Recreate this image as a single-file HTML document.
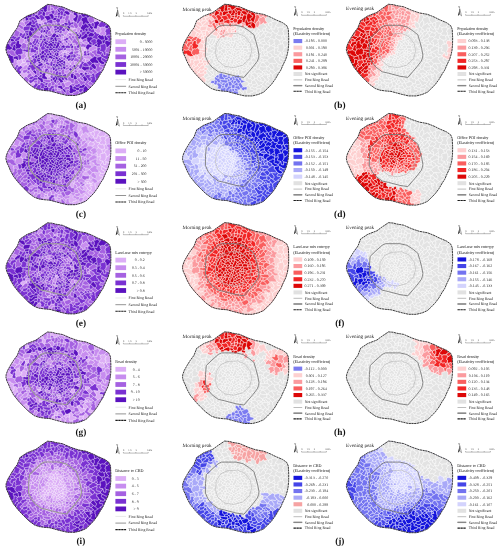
<!DOCTYPE html>
<html><head><meta charset="utf-8"><title>Figure</title>
<style>
html,body{margin:0;padding:0;background:#fff}
svg{display:block;text-rendering:geometricPrecision;font-family:"Liberation Serif","DejaVu Serif",serif}
</style></head><body>
<svg width="504" height="550" viewBox="0 0 504 550">
<rect width="504" height="550" fill="#fff"/>
<defs>
<path id="ol" d="M475 44L525 48L550 56L625 69L710 106L780 130L860 144L925 170L977 196L1049 227L1090 257L1105 293L1109 375L1108 448L1103 500L1095 540L1080 590L1056 640L1030 700L1006 736L975 790L938 840L900 880L860 918L810 940L750 955L675 955L610 940L550 924L500 910L450 906L391 898L344 881L288 840L240 793L185 735L135 672L105 616L84 565L68 532L59 495L62 468L77 427L105 377L136 327L173 277L200 206L270 160L360 125L410 88z"/>
<path id="r2" d="M444 253L588 253L658 269L713 305L765 347L784 411L803 482L815 548L811 577L799 609L757 665L666 771L588 759L475 729L412 715L350 668L310 617L286 561L286 498L287 466L294 379L350 325L412 269z"/>
<path id="r1" d="M507 338L606 333L674 363L728 433L743 506L723 585L654 650L566 674L478 660L409 605L384 526L394 437L439 368z"/>
<path id="mesh" fill="none" stroke="#fff" stroke-linejoin="round" d="M527 503l7 8 15-5 4-18-3-3-19 0zM549 506l16 10 9-15-4-12-17-1zM534 514l13 14 15-4 3-4 0-4-16-10-15 5zM550 485l3 3 17 1 9-12 2 0 13-22-2-8 8-8-4-14-22-9-6 27-2 1-4 14-8 5zM570 489l4 12 18 5 5 6 18-8 20-6 2-15-9-5-17 4-2-2-15 3-13-6-2 0zM565 516l0 4 23 9 8-9 1-8-5-6-18-5zM554 556l3 9 13 1 21-17-3-6 0-14-23-9-3 4 2 21zM541 546l2 2 11 8 10-11-2-21-15 4zM505 508l1 15 14 11 1 7 20 5 6-18-13-14 0-3-7-8-17 2zM485 488l4 16 16 4 5-3 17-2 4-18-7-10-17 10-15-5zM524 470l0 5 7 10 19 0 4-22-21-4zM482 530l7 3 17-10-1-15-16-4-7 7zM492 480l15 5 17-10 0-5-21-12-11 6zM476 455l16 9 11-6 21 12 9-11-2-17-9-4-6-13-9-2-11 13-14-2zM531 442l2 17 21 4 8-5 4-14-22-11zM581 477l13 6 15-3-1-13-14-12zM588 529l0 15 3 5 3 2 23-14 1-4 11-6-14-23-18 8-1 8zM527 568l4 5 20 3 6-11-3-9-11-8zM509 556l18 12 16-20-2-2-20-5zM489 533l9 20 11 3 12-15-1-7-14-11zM592 447l2 8 14 12 16-14-21-14-3 0zM608 467l1 13 2 2 17-4 9 5 16-6-3-20-11-9-9 5-6 0zM616 504l13 23 7 0 7-21-8-8zM617 537l10 29 2 0 9-18-1-20-1-1-7 0-11 6zM594 551l10 16 23-1-10-29zM570 566l16 17 13-9 5-7-10-16-3-2zM551 576l1 10 15 11 17-8 2-6-16-17-13-1zM521 589l20 7 11-10-1-10-20-3zM485 558l3 30 15-5 12 8 6-2 10-16-4-5-18-12-11-3zM465 549l13 9 7 0 13-5-9-20-7-3-15 6zM430 502l20 15 0 3 17 16 15-6 0-19 7-7-4-16-22-3-1 1-30 14zM459 477l4 8 22 3 7-8 0-16-16-8zM516 425l6 13 9 4 13-9 0-17-20-2zM544 433l22 11 2-1 6-27-1-2-26-2-3 4zM470 584l5 6 7 2 6-4-3-30-7 0zM450 574l20 10 8-26-13-9-14 10zM431 544l20 15 14-10 2-13-17-16-17 19zM404 473l10 30 3 2 13-3 2-2 30-14 1-1-4-8-14-6-4-11 12-15-2-6-13-12-10 5-3 14 3 9-18 16zM441 460l4 11 14 6 17-21-23-11zM438 427l13 11 2 7 23 10 6-21-4-7-9-1-12-16-16 4zM478 427l4 7 14 2 11-13-13-16-4 0zM494 407l13 16 9 2 8-11-5-13-21 2zM519 401l5 13 20 2 3-4-3-18-4-8-18 11zM540 386l4 8 3 18 26 2 3-9-7-9-1-20-13-7-12 7-3 3zM573 414l1 2 22 9 4 14 3 0 23-17-17-18-1-2-21-3-11 6zM603 439l21 14 6 0 9-5 1-8-11-17-3-1zM635 498l8 8 17-3 5-18-12-8-16 6zM636 527l1 1 23 2 3-2 2-15-5-10-17 3zM637 528l1 20 22 1 0-19zM629 566l3 4 7 1 22 15 9-27-6-3-4-7-22-1zM599 574l15 25 14-3 4-26-3-4-25 1zM584 589l11 15 12 1 7-6-15-25-13 9zM567 618l19-2 9-12-11-15-17 8zM529 616l0 20 30 4 4-4 0-13 4-5 0-21-15-11-11 10-3 16zM515 591l0 20 14 5 9-4 3-16-20-7zM477 621l8 8 15 2 5-15 10-5 0-20-12-8-15 5-6 4 3 9zM457 410l12 16 9 1 12-20-6-4-21-3zM498 403l21-2 3-4 18-11 0-7-33-12-6 1 1 6zM568 376l1 20 7 9 11-6 21 3 7-10-6-11-20-10-4 3zM608 402l1 2 17 18 3 1 11-14-5-20-1-1-19 4zM629 423l11 17-1 8 11 9 23-6 0-21-16-1-4-17-13-3zM650 457l3 20 12 8 11-3 17 3 9-3 1-1 1-13-7-14-24-3zM660 503l5 10 20-1 8 12 15-4 6-10-12-28-9 3-17-3-11 3zM663 528l25 9 5-13-8-12-20 1zM660 549l4 7 6 3 10-1 10-13-2-8-25-9-3 2zM628 596l9 9 9 0 17-13-2-6-22-15-7-1zM586 616l13 16 4 1 7-9 19-1 8-18-9-9-14 3-7 6-12-1zM563 636l12 5 24-9-13-16-19 2-4 5zM496 652l20 14 10-8-1-17 4-5 0-20-14-5-10 5-5 15 2 5zM456 623l21-2 8-20-3-9-7-2-18 17zM442 580l1 16 14 11 18-17-5-6-20-10zM400 570l10 26 18-17 14 1 8-6 1-15-20-15-12 6-5 5-8 2zM408 528l11 22 12-6 2-5 17-19 0-3-20-15-13 3-1 12zM453 632l8 14 11 0 18 10 6-4 6-16-2-5-15-2-8-8-21 2-2 2zM432 606l1 6 21 13 2-2 1-16-14-11zM409 597l23 9 11-10-1-16-14-1-18 17zM384 542l22 15 8-2 5-5-11-22-19 4zM383 504l6 5-2 14 2 9 19-4 8-11 1-12-3-2-10-30-10-5-8 4zM394 468l10 5 6-2 18-16-3-9 3-14 10-5 3-13-12-15-14 8-3 18-11 5-3 17-3 4zM429 399l12 15 16-4 6-10-6-20-1-1-25 8zM457 380l6 20 21 3 6 4 4 0 4-4 4-29-1-6-6-3-13 1-4 3zM507 367l33 12 3-3 12-7 2-10 8-13-7-15-15-7-15 11 0 4-1 4zM555 369l13 7 17-2 4-3 2-8-11-16-15-1-8 13zM580 347l11 16-2 8 20 10 10-23-7-7-1-10-19-8zM609 381l6 11 19-4-1-27-14-3zM635 389l5 20 13 3 10-10 9 3 17-17-12-15-12-2-10 15zM653 412l4 17 16 1 7-6-8-19-9-3zM673 430l0 21 24 3 3-17-13-13-7 0zM688 537l2 8 18 4 15-4 1 0 10-9 3-23-23-3-6 10-15 4zM661 586l2 6 9 3 20-16 13 3 1-1 2-32-18-4-10 13-10 1zM646 605l11 19 21-16-6-13-9-3zM629 623l8 15 19 4 1-18-11-19-9 0zM603 633l4 11 15 6 15-12-8-15-19 1zM575 641l10 16 12 1 6 17 21-3 1-3-3-19-15-6-4-11-4-1zM555 653l14 23 16-19-10-16-12-5-4 4zM525 641l1 17 12 4 17-9 4-13-30-4zM672 405l8 19 7 0 13 13 19-5 0-20-16-6-6-16-8-2zM697 454l7 14 23-16-2-15-6-5-19 5zM703 481l31 2 4-24-11-7-23 16zM702 482l12 28 23 3 4-4-4-23-3-3-31-2zM706 581l30-7 10 5 15-3-1-32-26-8-10 9-1 0-15 4zM672 595l6 13 7 6 23-8 11 8 17-8 10-27-10-5-30 7-1 1-13-3zM656 642l3 3 10-1 21 11 16-8-1-9-20-14 0-10-7-6-21 16zM622 650l3 19 30-8 4-16-3-3-19-4zM569 680l1 1 32-4 1-2-6-17-12-1-16 19zM538 662l5 16 10 8 16-6 0-4-14-23zM516 669l10 14-2 18 6 5 15-2 8-18-10-8-5-16-12-4-10 8zM460 649l8 33 11 3 9 8 1 1 27-25 0-3-20-14-6 4-18-10-11 0zM429 647l17 11-9 20 15 8 16-4-8-33 1-3-8-14-22 6zM420 629l11 9 22-6 1-7-21-13zM404 612l6 14 10 3 13-17-1-6-23-9-3 3zM369 587l37 13 3-3 1-1-10-26-26 8zM373 550l1 28 26-8 6-13-22-15-10 4zM355 532l19 14 10-4 5-10-2-9 2-14-6-5-17 1-4 14zM335 478l5 17 16 1 10 9 17-1 3-32-12-1-16-12-14 0zM358 459l16 12 12 1 8-4 1-17-21-12-6 2zM374 439l21 12 3-4 3-17-15-12-6 4zM386 418l15 12 11-5 3-18-26-11zM386 390l3 6 26 11 14-8 2-12-4-4-2 0-35 4zM427 383l4 4 25-8-11-24-17-7zM445 355l11 24 1 1 21-11 4-3-12-19-11 1zM470 347l12 19 13-1 6 3 6-1 20-24 1-4 0-4-17-7-5-23-2-1-15 3-14 19zM558 331l7 15 15 1 12-14-2-6-21-3zM611 341l1 10 7 7 14 3 7-5-1-16-21-7zM633 361l1 27 1 1 20-3 10-15 12 2 17-18-14-24-9 4-11 26-20-5zM685 624l20 14 13-24-10-8-23 8zM655 661l4 11 10 3 21-9 0-11-21-11-10 1zM624 672l7 16 17 9 11-25-4-11-30 8zM602 677l1 15 8 10 20-14-7-16-21 3zM570 681l9 19 24-8-1-15zM545 704l11 13 23-10 0-7-9-19-1-1-16 6zM489 694l5 5 30 2 2-18-10-14zM402 666l7 23 13 2 14-13 1 0 9-20-17-11-9 13-12 0zM375 655l16 12 11-1 6-6 12 0 9-13 2-9-11-9-10-3-9 12-14 1zM377 620l10 19 14-1 9-12-6-14zM364 592l6 25 7 3 27-8 2-12-37-13-5 3zM345 579l19 11 5-3 5-9-1-28-25 12zM340 548l8 14 25-12 1-4-19-14-7 0zM300 517l13 11 28-2 7 6 7 0 7-13 4-14-10-9-16-1-5-17-18-2-7 3-7 30-2 3zM334 445l10 14 14 0 10-18-15-15zM353 426l15 15 6-2 6-17 6-4 3-22-3-6-16-4-13 30-2 2zM390 387l35-4 2 0 1-35-10-13-2 0-14 25-3 2zM418 335l10 13 17 7 14-7-12-22-22 4zM447 326l12 22 11-1 5-21 14-19-15-15-5-1-11 10 2 17zM504 304l2 1 5 23 17 7 15-11 0-13-5-9 3-20-8-11-6-1-22 18zM543 311l0 13 15 7 11-7 5-23zM569 324l21 3 5-17-14-11-4-1-3 3zM590 327l2 6 19 8 7-8 3-20-4-6-22 3zM618 333l21 7 1 16 20 5 11-26 9-4 2-3 2-14-21-17-7 0-9 22-26-6zM677 373l12 15 8 2 6 16 16 6 11-7 1-14-18-14 2-17-21-5zM719 412l0 20 6 5 17-6 13 6 5 17 3 3 14-5 10-22-7-18-7 0-9-6-7-19-8-7-18 11-1 14zM725 437l2 15 11 7 22-5-5-17-13-6zM734 483l3 3 4 23 19 2 3-3 26-4 4-5-6-16-21-5-1-1-2-20-3-3-22 5zM734 536l26 8 8-11 14 1 8-21-1-9-27 4-2 3-19-2-4 4zM581 299l14 11 22-3 7-23 4-4 7-2 11-29-6-16-35 14-19 15 8 19zM617 307l4 6 26 7 9-23-21-19-7 2-4 4zM680 331l14 24 21 5-2 17 18 14 18-11 0-20-29-5-3-24-35-3zM763 457l2 19 1 2 21 5 15-20 2 0 7-22-24-11-10 22zM760 544l1 32 2 1 7-5 20-32-8-6-14-1zM736 606l12 11 17-3 12 12 14-8 3-23-26-12-5-6-2-1-15 3zM705 638l1 9 16 9 8 0 10-8 7-1 1-30-12-11-18 8zM690 666l7 14 11-1 14-23-16-9-16 8zM648 697l1 2 17 3 16-9 7 0 8-13-7-14-21 9-10-3zM610 718l2 2 3 26 6 6 30-15-8-21 6-17-1-2-17-9-20 14zM579 707l10 12 21-1 1-16-8-10-24 8zM549 757l16 1 21-6-5-16 8-17-10-12-23 10-1 14-3 4zM519 732l17 31 3 2 3-1 7-7 3-22 3-4 1-14-11-13-15 2-6 22zM494 699l4 21 13 13 8-1 5-4 6-22-6-5zM456 732l3 4 14 3 25-19-4-21-6-6zM448 727l8 5 32-39-9-8-11-3-16 4-5 24zM417 718l11 12 20-3-1-17 5-24-16-8-14 13 1 7zM356 641l5 14 14 0 12-16-10-19-7-3-12 13zM324 624l2 15 2 1 28 1 2-11 12-13-6-25 0-2-19-11-16 2-4 11 10 22-1 1zM313 565l16 16 16-2 3-17-8-14-23 7zM288 551l11 17 14-3 4-10 23-7 8-16-7-6-28 2-13-11-10 6zM313 452l4 24 18 2 9-19-10-14-6-3zM319 424l9 18 6 3 19-19 2-8 2-2 13-30-7-5-23 6-3 21-4 3zM317 375l23 12 23-6 7 5 16 4 4-3 9-25-38-13-7-7-10 2zM354 342l6 7 39 13 3-2 14-25-7-6-9-16-17-6-28 30zM425 330l22-4 13-8-2-17-17-7-5 5zM463 269l6 22 5 1 15 15 15-3 1-16-13-9-4-18-10-6zM538 302l5 9 31-10 3-3-12-16-24 0zM565 282l12 16 4 1 13-18-8-19-11 0zM635 278l21 19 7 0 11-16-4-13zM663 297l21 17 20-20-1-8 3-9-5-11-22-14-4 3-5 13 4 13zM682 328l35 3 7-11-6-16 33-19-1-2-42-6-2 0-3 9 1 8-20 20zM717 331l3 24 29 5 7-6 3-8-14-22-2-2-19-2zM749 380l8 7 7 19 9 6 7 0 2-2 7-16-12-17 0-8-21-15-7 6zM787 483l6 16 20 1 1-30-10-7-2 0zM789 504l1 9 20 16 12-9-7-19-2-1-20-1zM782 534l8 6 12 3 8-14-20-16zM770 572l33-11 3-9-4-9-12-3zM763 577l5 6 26 12 7-3 7-15-5-16-33 11zM747 647l6 1 22-12 2-10-12-12-17 3zM730 656l7 30 25-20-9-18-6-1-7 1zM708 679l14 14 15-5 0-2-7-30-8 0zM689 693l9 17 16-1 8-16-15-14-10 1zM643 716l8 21 16 3 6-3 6-11 14-8 5-8-9-17-7 0-16 9-17-3zM580 736l6 16 1 0 28-6-4-26-1-2-21 1zM503 748l2 7 31 8-17-31-8 1zM473 739l9 7 21 2 8-15-13-13zM353 668l8 16 20 6 6 11 5 2 5 10 20 5 6-20-1-7-13-2-7-23-11 1-16-12-14 0zM279 669l31 12-2 9 15 23 4 0 9-13 17-1 8-15-8-16 8-13-5-14-28-1-2-1-15 11-14-4-17 13zM294 628l3 18 14 4 15-11-2-15 11-9 0-1-10-22-23 12 2 13zM272 595l9 6 20 2 1 1 23-12 4-11-16-16-14 3-2 2-24 8zM260 493l22-4 19 23 2-2 7-31-15-9-9 5-18-10-6 6zM295 470l15 9 7-3-4-24-17 2zM278 433l18 21 17-2 15-10-9-18-17-6-20 9zM302 418l17 6 14-13 4-3 3-21-23-12-11 1 0 9zM400 313l9 16 7 6 2 0 7-5 11-31-28-2zM408 297l28 2 5-5-6-17-5-3-21 18zM435 277l6 17 17 7 11-10-6-22-5-1zM475 238l3 17 10 6 4 18 13 9 22-18-12-15 0-14-26-13-13 6zM533 271l8 11 24 0 10-20-10-11-17 3zM265 395l17 32 20-9 4-33 0-8zM285 331l1 5 0 17 14 12 6 11 11-1 27-31-21-11-7-19-8-7-15-5zM316 314l7 19 21 11 10-2 1-5 28-30-9-14 1-8-12-18-25 9-1 2 1 8 10 14-3 9zM351 246l13 16-1 5 12 18-1 8 9 14 17 6 8-16 1-5-14-18 4-11-17-13 1-17-3-6-24 1zM395 274l14 18 21-18-8-15-6-2-17 6zM422 259l8 15 5 3 23-9-14-23-4-1zM444 245l14 23 5 1 15-14-3-17zM515 255l12 15 6 1 15-17-9-22-10-7-14 16zM539 232l9 22 17-3 5-21-4-4zM565 251l10 11 11 0 19-15-9-19-26 2zM635 278l35-10 5-13-29-6zM718 304l6 16 19 2 2 2 20-10 4-19-5-8-13-2zM745 324l14 22 18-9 2-6-14-17zM756 354l21 15 17-8-3-11-14-13-18 9zM777 377l12 17 18-12 3-13 11-7-9-29-21 17 3 11-17 8zM782 410l40 5 1-15-16-18-18 12zM780 412l7 18 24 11 17-12 0-1-6-13-40-5zM804 463l10 7 23-1 8 7 9-1 3-2 8-27-6-3-22-4-9-10-17 12zM813 500l2 1 7 19 12 4 12-19-6-16 5-13-8-7-23 1zM802 543l4 9 25 3 10-23-7-8-12-4-12 9zM791 618l18 9 17-16-2-7 14-21-5-6-1-19-1-3-25-3-3 9 5 16-7 15-7 3zM775 636l18 16 17-18-1-7-18-9-14 8zM753 648l9 18 10 8 14-1 7-15 0-6-18-16zM737 688l10 9 14 0 11-23-10-8-25 20zM714 709l4 6 23-1 6-17-10-9-15 5zM665 774l10 6 27-20 6-21 12-9-2-15-4-6-16 1-5 8-14 8-6 11-6 3zM621 752l3 16 8 2 13 22 0 1 21 14 15 0-6-27-10-6 2-34-16-3zM565 758l9 22 6 2 10-7 23 8 11-15-3-16-6-6-28 6-1 0zM542 764l13 18 0 10 13 12 11-5 1-17-6-2-9-22-16-1zM500 770l14 14 8 1 17-20-3-2-31-8zM454 761l22 17 7-5 17-3 5-15-2-7-21-2-9-7-14-3zM417 746l4 11-4 21 12 13 6-2 12 4 28 1 1-16-22-17 5-25-3-4-8-5-20 3zM390 731l11 15 16 0 11-16-11-12-20-5zM353 699l4 11 10 6 0 19-5 6 20 24 4 0 15-19-11-15 7-18-5-10-5-2-6-11-20-6zM255 620l13 9 11-4 15 3 10-11-2-13-1-1-20-2-9-6-14 9zM254 543l8 10 3 18 8 7 24-8 2-2-11-17 2-28-26 0zM227 514l33 4 4 5 26 0 10-6 1-5-19-23-22 4-2 1-20-5-6 4zM268 465l18 10 9-5 1-16-18-21-9 6zM293 302l15 5 8 7 29-5 3-9-10-14-1-8-32-14zM382 250l17 13 17-6-5-19-28-5zM411 238l5 19 6 2 18-15-3-17-17-8zM437 227l3 17 4 1 31-7 1-4-10-13-18-1zM466 221l10 13 13-6 26 13 14-16-2-25-3-4-11-2-7 2-2-1-37 17zM527 200l2 25 10 7 27-6-3-12-8-7zM555 207l8 7 3 12 4 4 26-2 9-24-1-7-9-7-3-5-16-7-2 0zM596 228l9 19 35-14 1-3 8-7 2-20-6-8-24-5-17 7 1 7zM640 233l6 16 29 6 4-3 2-14-6-8-26-7-8 7zM675 230l6 8-2 14 22 14 13-22 18 4 5-7 0-27-31 11-12-34-4-1-2 0-6 5zM701 266l5 11 2 0 42 6-4-14-11-11-3-10-18-4zM764 287l5 8-4 19 14 17 16-13-1-9 14-17-6-15-18-8zM777 337l14 13 21-17 0-4-17-11-16 13zM807 382l16 18 21-12 1 0 18-3 9-15 9-4-2-15-18-22-13 8-4 5-3 11-12 9-8 0-11 7zM822 415l6 13 20-12 10 0 11-3 0-14-6-14-18 3-1 0-21 12zM828 429l9 10 22 4 6 3 22-7 3-10-21-16-11 3-10 0-20 12zM840 489l6 16 19 2 7-6-18-26-9 1zM831 555l1 3 32 2 7-5-2-14-7-6 3-28-19-2-12 19 7 8zM832 558l1 19 5 6 14 2 4 5 31 2 8 6 23-18-7-18-14-5-23-1-3-1-7 5zM824 604l2 7 20 12 8 0 2-33-4-5-14-2zM786 673l10 16 7 2 12-3 7-23 7-5-3-14 20-23-20-12-17 16 1 7-17 18 0 6zM761 697l13 14 22-22-10-16-14 1zM741 714l5 16 30-7-2-12-13-14-14 0zM718 715l2 15 20 9 6-9-5-16zM702 760l12 26 19-2 4-15-2-14 6-8-1-8-20-9-12 9zM613 783l1 11 17 12 14-13 0-1-13-22-8-2zM579 799l17 11 0 9 13 12 27-10-5-15-17-12-1-11-23-8-10 7zM522 785l9 21 3 1 21-15 0-10-13-18-3 1zM501 795l6 24 24-13-9-21-8-1zM475 794l1 2 25-1 13-11-14-14-17 3-7 5zM386 765l16 12 15 1 4-21-4-11-16 0zM327 713l10 12 1 3 17 14 7-1 5-6 0-19-10-6-4-11-17 1zM268 629l1 18 11 12 17-13-3-18-15-3zM243 593l15 11 14-9 1-17-8-7-17 6zM205 548l14 22-3 7-1 16 6 3 22-3 5-16 17-6-3-18-8-10 10-20-4-5-33-4-1 1 6 23-21 4zM210 473l6 16 16 4 6-4 20 5 2-1 2-22 6-6 1-26-9-1-23-13-9 2-13 17 4 14-8 8zM237 425l23 13 9 1 9-6 4-6-17-32-17-1zM266 394l40-17 0-1-6-11-14-12-12 4-6 5zM524 196l3 4 28 7 19-29-34-4zM645 195l6 8-2 20 26 7 7-35 6-5 2 0 4-37-30-5-8 17-1 1zM732 248l3 10 11 11 4 14 1 2 13 2 20-18-4-27-5-1-10-15-27-13-1 1 0 27zM794 309l1 9 17 11 16-13 0-1-6-20-14-3zM812 333l9 29 8 0 12-9 3-11 4-5 13-8 3-10-11-11-25 7 0 1-16 13zM854 475l18 26 15-1 9-23 15-1 12-18-3-5-33-14-22 7-8 27zM862 535l7 6 28-18 3-4-13-19-15 1-7 6zM869 541l2 14 3 1 23 1 0-34zM854 623l4 2 2 0 30-16 5-5 0-6-8-6-31-2zM826 646l3 14 22 6 2 2 2 0 39-3 2-1-7-12-29-27-2 0-4-2-8 0zM815 688l18 14 17 10 14-13 22 0 5-2 3-32-39 3-2 0-1-2-23-6-7 5zM774 711l2 12 11 11 8 1 9-6 10-3 26 12 2 0 10-18-2-8-17-10-18-14-12 3-7-2zM740 739l1 8 25 10 2 16 4 11 22-9 14-11-1-5-12-24-8-1-11-11-30 7zM733 784l15 15 20-4 4-11-4-11-2-16-25-10-6 8 2 14zM675 780l6 27 3 3 16 0 2 2 13 21 27 1 0-26 6-9-15-15-19 2-12-26zM631 806l5 15 4 8 44-17 0-2-3-3-15 0-21-14zM555 836l12 4 29-21 0-8-17-12-11 5zM534 807l19 30 2-1 13-32-13-12zM505 823l10 12-4 22 31 0 11-20-19-30-3-1-24 13zM429 791l6 22 22 9 5 3 13-1 5 5 25-6 2-4-6-24-25 1-1-2-28-1-12-4zM376 773l1 24 15 1 12 12-2 13 26 3 7-13-6-22-12-13-15-1-16-12-4 0zM287 784l5 9 26 7 4-11 23-14 2 2 29-4 6-8-20-24-7 1-15 22-18-4-7 5-12 3zM290 704l12 22-1 3 18 16 3 15 18 4 15-22-17-14-1-3-10-12-4 0-15-23zM271 690l8 12 11 2 18-14 2-9-31-12-7 7zM197 701l21 18 5 1 13-27 13 6 22-9 1-14 7-7 1-10-11-12-24 4-6 15-12 7 0 4zM207 640l1 14 19 19 12-7 6-15 24-4-1-18-13-9-15 8-10-3zM221 596l9 29 10 3 15-8 3-16-15-11zM148 531l23 26 3 0 12-12 19 3 6-6 21-4-6-23 1-1 5-21-16-4-6-16-21 16-6-5-23 9-5 16-4 3zM191 406l5 4-1 28 20 6 13-17 9-2 11-31-9-7-15-2-15-15zM239 387l9 7 17 1 1-1 2-32-18 1-3 0zM250 363l18-1 6-5-18-15zM249 329l7 13 18 15 12-4 0-17-1-5zM244 326l5 3 36 2 8-29-3-1-42 8-3 1zM304 259l1 5 32 14 2-2 24-9 1-5-13-16-12 4-21-7-14 14zM371 195l8 32 4 6 28 5 9-19-5-10-7-5-6-13zM415 209l5 10 17 8 11-7 18 1 1-9-6-23-12-7-7 11zM443 166l6 16 12 7 6 23 37-17 2 1 7-2-9-29-19-12-3 2-32 4zM863 385l6 14 0 14 21 16-3 11 33 13 1-28-19-6 2-11 28-21-12-16-10-6-17 5-12-4-9 4zM887 500l13 19 12 1 9-11 15-2 13-10 19 3 3-23-4-9-19-5-6-7-19 2-12 18-15 1zM897 523l0 34 14 5 7 18 4 0 24-19-7-23-17-3-10-15-12-1zM860 625l29 27 7 12 8-3 19-26-28-31-6 5zM795 735l12 24 33-21-26-12-10 3zM640 829l7 14 3 3 7 17 13 4 19-5 1-4 21-14 4-11-13-21-2-2-16 0 0 2zM609 831l1 21 9 3 14 31 5-1 19-22-7-18-3-2-11-22zM567 840l13 14 22 2 8-4-1-21-13-12zM474 854l2 15 14 8 13-3 5-15 3-2 4-22-10-12-25 6 1 4zM448 837l2 16 24 1 7-21-1-4-5-5-13 1zM428 826l4 11 16 0 14-12-5-3-22-9zM369 830l12 17 19-2 4-35-12-12-15-1-5 4 5 19zM288 818l18 17 2 0 25-17 2 0 14-17 23 0 5-4-1-24-29 4-2-2-23 14-4 11-26-7zM269 765l12 17 6 2 16-16 12-3 7-5-3-15-18-16-12 9-8 1zM265 728l16 11 8-1 12-9 1-3-12-22-11-2zM223 720l18 15 10-7 14 0 14-26-8-12-22 9-13-7zM167 619l11 17-5 8 16 20 19-10-1-14 23-15-9-29-6-3-22 8-7-1-10 3zM174 557l6 9 6 34 7 1 22-8 1-16 3-7-14-22-19-3zM152 444l6 22-6 10 8 17 23-9 6 5 21-16 1-7 8-8-4-14-20-6 1-28-5-4-12-2-18 14 2 12zM207 367l2 3 15 15 15 2 8-23 3-1 6-21-7-13-5-3-14 11-1 7zM230 296l15 14 3-1 42-8 3 1 12-38-2-5-48 3-18 5zM307 209l15 18-4 16 21 7 12-4 5-18 23-1-8-32-1 0-25 19-10-21-9-2zM387 161l16 23-1 7 6 13 7 5 27-16 7-11-6-16-7-2-15-18-18 2zM485 153l19 12 9 29 11 2 16-22-1-13-6-18-6-2-12-8-27 10zM539 161l1 13 36 4-3-25zM573 152l3 26 16 7 13-31-2-4zM592 185l3 5 9 7 17-7 10-28-2-3-24-5zM621 190l24 5 10-29-24-4zM690 190l4 1 12 34 31-11 1-1 1-5-14-20 26-15 5-16-21-7-4-10-24-11-6 2-7 22zM780 242l4 27 18 8 11-11 6-18 4-3 1-31-13-7-10 3zM802 277l6 15 14 3 6 20 25-7-4-14 12-15 18 4 13-11 2-7-25-19-1-4-7-15-27 22-11-4-4 3-6 18zM189 352l3 10 15 5 22-23 1-7-27-16zM161 293l15 15 4-1 22 13 1 1 27 16 14-11 1-16-15-14-9 1-23-18 0-2-21-12-4 12zM255 262l48-3 1-2 14-14 4-16-15-18-10-1-12 23-9 0-21 25zM287 179l3 20 7 9 10 1 19-18 9 2 10 21 25-19-8-17-9-1-6-10-26-7-6 11-26 6zM347 167l6 10 9 1 8 17 1 0 31-4 1-7-16-23-6-1-8-13-20-3zM450 159l32-4 3-2 3-10 27-10-7-24-29 5-6-3-20 12 2 11zM533 143l6 18 34-8-3-16 16-10-16-34-21 12 0 25zM570 137l3 15 30-2 0-16-6-7 7-15-25-29-2 0-7 10 16 33zM597 127l6 7 0 16 2 4 24 5 6-28 4-3 0-4-21-20-14 8zM629 159l2 3 24 4 1-1 8-17-3-8-22-12-4 3zM725 188l14 20-1 5 27 13 8-29 1-1 9-33-2-13-2-1-4-14-16-12-17-6-11 23 4 10 21 7-5 16zM765 226l10 15 5 1 21-32 10-3 0-16 14-19-17-28-27 6 2 13-9 33-1 0zM849 294l4 14 11 11 17-8-2-28-18-4zM861 329l18 22 27-31-25-9-17 8zM879 351l2 15 12 4 17-5 10 6 24-18 1-6-15-18-11-1-10-8-3 0zM902 419l19 6-1 28 3 5 19-2 3-11 21-10 4-11-7-7 2-21-21-10-8 3-4-2-28 21zM912 520l10 15 17 3 7 23 18 4 5 8 31-7 5-3-2-8-8-10-24-3-8-14 9-21-4-7-19-3-13 10-15 2zM895 604l28 31 16-4 1-2 37 6 11-11-7-20-13-6-2-7 3-18-5-8-18-4-24 19-4 0-23 18zM850 712l2 8 17 7 12-9 19 17 1 6 1 0 11 1 20-12 0-3-19-19-8 0-15-11-5 2-22 0zM842 738l6 14 28-8-7-17-17-7zM807 759l1 5 9 5 7 3 23-14 1-6-6-14-2 0zM794 775l10 24 5 1 17 11 6-4 5-14-13-21-7-3-9-5zM768 795l6 8 9 7 10 19 1 1 12 23 11 3 15-16 10 2 17-20-1-5-26-10-6 4-17-11-5-1-10-24-22 9zM711 844l20 26 16-10 4-17 25 0 17-14-10-19-9-7-6-8-20 4-6 9 0 26-27-1zM576 878l28 8 8 12 9-3 12-9-14-31-9-3-8 4-22-2zM542 857l1 22 1 0 27 3 5-4 4-24-13-14-12-4-2 1zM476 908l24 2 13 4 3-4 4-22 23-9-1-22-31 0-3 2-5 15-13 3-5 24zM441 866l4 7 14 5 17-9-2-15-24-1zM400 845l12 12-8 20 5 7 24 4 12-15-4-7 9-13-2-16-16 0-4-11-26-3zM335 818l11 13 23-1 8-10-5-19-23 0zM198 749l30 32 4-4 7 1 19-15 11 2 12-26-16-11-14 0-10 7-18-15-5-1-18 24zM157 699l28 36 13 14 2-6 18-24-21-18 30-24 0-4-19-19-19 10-4 6-14 2-1 23zM131 584l9 8 16-1 20 12 10-3-6-34-6-9-3 0-2 1-32 8zM143 400l2 9 16 9 18-14 12 2 18-36-2-3-15-5-17 10-3 0zM571 882l4 21 14 5 19-3 4-7-8-12-28-8zM544 879l8 41 23-17-4-21zM516 910l13 8 15 4 7-1 1-1-8-41-1 0-23 9zM433 888l5 16 38 4 9-7 5-24-14-8-17 9-14-5zM355 885l36 13 47 6-5-16-24-4-5-6 8-21-12-12-19 2-14 20-2 1zM327 868l17 13 11 4 10-17 2-1 14-20-12-17-23 1 1 15-19 15zM273 826l15 14 39 28 1-7 19-15-1-15-11-13-2 0-25 17-1 0-19-17-13 4zM228 781l32 31 15 10 13-4 4-25-5-9-6-2-12-17-11-2-19 15-7-1zM131 665l4 7 22 27 13-4 1-23 14-2 4-6-16-20-14 7-1 16-12 8zM115 634l16 31 15 10 12-8 1-16 14-7 5-8-11-17 9-16-20-12-16 1-1 35-2 2-11 4-2 0zM65 520l3 12 6 12 26-6 2 1 4 13 29 10 2 4 32-8 2-1-23-26 3-19-22-6-9-10-28 6-8-5-6 0-7 6zM120 496l9 10 22 6 4-3 5-16-8-17 6-10-6-22-17 2-7 27-3 2zM100 443l0 17 25 15 3-2 7-27 17-2 11-14-2-12-16-9-12 7-20 2-7 21zM97 391l3 2 17-9 17 4 9 12 29-28-16-9-9 0-13-8-2-1-14 11-4-2zM134 355l13 9 9-1 16 9 3 0 17-10-2-10 13-31-1-1-22-13-4 1-15-15-22 30 8 5zM177 265l21 12 0 2 23 18 9-1 7-29-21-10-1-2-17-14-4 0-13 15zM188 236l6 5 4 0 17 14 1 2 21 10 18-5 0-6-15-34-7 0-5-4-20 0-9-10zM240 222l15 34 21-25 9 0 12-23-7-9-34 13-2 0zM373 147l8 13 6 1 16-13 18-2 2-19 4-8-34-15 14-11 0-3-26 19 0 2 2 6zM392 104l35 15-4 8-2 19 15 18 7 2 7-7 5-25-2-11-19-9-1-21-26 0zM508 109l7 24 12 8 6 2 16-13 0-25-9-5-31 7zM707 129l24 11 11-23-23-8zM639 124l0 4 22 12 3 8 30 5 7-22-19-17-1-5-31-2zM811 207l13 7-1 31 11 4 27-22 0 1 7 14 32-10-21-29-2-20-16-21-6-1-12 12-18-1-14 19zM879 283l2 28 25 9 3 0 10 8 11 1 20-14-14-29-3-2-17 13-24-25zM920 371l12 16 4 2 8-3 21 10 21-11-10-19 0-2 19-19-2-11-26-2-8-18-9 1-20 14 15 18-1 6zM942 456l6 7 19 5 8-12-9-21-21 10zM904 661l23 17 6 10 18 8 13-16-1-17-10-7-14-25-16 4zM891 697l15 11 8 0 19-20-6-10-23-17-8 3-2 1zM902 741l0 25 22-3-11-21zM869 727l7 17 5 3 20-6-1-6-19-17zM847 758l22 25 4 1 3 12 20 17 7 1 14-27-20-12 5-9 0-25-1 0-20 6-5-3-28 8zM824 772l13 21-5 14 26 10 18-21-3-12-4-1-22-25zM689 862l9 12-5 24 3 5-6 14 8 19 28-2 5-11 25-3 9-14-5-12-31-6-2-11 4-7-20-26-21 14zM638 885l21 19 14-11 20 5 5-24-9-12-19 5-13-4zM747 860l19 16 19-5 21-18-12-23-1-1-17 14-25 0zM727 877l2 11 31 6 5 12 21 0 6-8 4-13-11-14-19 5-19-16-16 10zM652 939l2 11 21 5 54 0 2-3-5-18-28 2-8-19 6-14-3-5-20-5-14 11 1 17-7 13zM633 886l-12 9 32 39 7-13-1-17-21-19zM608 905l3 18-2 5 3 12 42 10-2-11 1-5-32-39-9 3zM551 921l5 5 56 14-3-12 2-5-3-18-19 3-14-5zM74 544l10 21 21 51 10 18 9-1 2 0 11-4 2-2 1-35-9-8 6-18-2-4-29-10-4-13-2-1zM59 495l6 25 6-17 7-6 6 0 8 5 28-6 5-21-25-15 0-17-17-7-4-12-2 3-15 41zM99 396l14 22 20-2 12-7-2-9-9-12-17-4-17 9zM223 191l1 2 4 25 5 4 7 0 14-10-2-13 2-14-10-8zM244 177l10 8-2 14 2 13 2 0 34-13-3-20-13-3-7-14zM267 162l7 14 13 3 2-2 26-6 6-11-2-15-8-1-41 16zM319 145l2 15 26 7 6-23-10-13-21 9zM343 131l10 13 20 3 10-30-2-6-4 1-17 13zM407 90l0 3 26 0 1 21 19 9 20-12-3-21 8-9-3-11 7-24-1-2-6 0zM470 90l3 21 6 3 29-5 1-2-6-26 3-4 2-30-26-1-7 24 3 11zM503 81l6 26 31-7-7-22-27-1zM506 77l27 1 7 22 9 5 21-12 7-10 2 0 12-8 1-12-42-7-27-9-14-1-1 1zM579 83l25 29 14-8 21 20 11-17-5-20-23-7-1-1-30-4zM645 87l5 20 31 2 1 5 19 17 6-2 12-20-9-3-57-25zM868 242l1 4 25 19-2 7 24 25 17-13 1-14-25-16 1-17-10-5zM963 417l7 7-4 11 9 21-8 12 4 9 33-2-3-25 6-6 20-3 2-1-12-38-14-6-1-2-16-9-21 11zM963 528l8 14 24 3 8 10 27-35-31-7-4-4 13-29-4-5-33 2-3 23 4 7zM966 591l2 7 13 6 7 20 14 6 5 9 24 7 13-7 4-7-8-17-21-7-5-10 6-25-2-4-13-6-5 3-31 7zM939 631l14 25 10 7 1 17-13 16 1 4 27 22 4 1 17-18 31-20-7-16-27-1-3-8 13-21-5-9-14-6-11 11-37-6zM914 708l19 19 0 3 16 14 30-22-27-22-1-4-18-8zM909 254l25 16 8-5 2-23-8-17-11 0-15 12zM933 284l3 2 34 6 4-26 5-4 1-10 17-19 1-6-24-19-19 9-8 0-11 8 8 17-2 23-8 5zM936 286l14 29 9-1 8 18 26 2 2-6 16-11-1-10-9-12 3-19-25-14-5 4-4 26zM976 366l10 19 16 9 1 2 14 6 27-4 1-19-4-8-1-11-14-10-14 5-17-10-19 19zM995 509l4 4 31 7 7 33 21 2 1-29-11-15 11-13 4-21-4-33-14-9-16 5-2 1-20 3-6 6 3 25 4 5zM1003 555l2 8 13 6 2 4 27 13 2 5 26 6 3-2 2-5 15-50 2-10-6-1-4 3-28-6-1 29-21-2-7-32zM897 775l20 12-14 27 19 17 2-1 17 5 23-30-8-10 1-15-8-13 2-4-2-19-16-14-20 12 11 21-22 3zM842 842l11 14 8 1 20 23 0 8 9 1 10-9 19-20-5-10-15 4-22-16 19-25-20-17-18 21 1 5zM785 871l11 14 29-3 6 3 22-29-11-14-10-2-15 16-11-3zM79 424l4 12 17 7 6-4 7-21-14-22-9 7zM114 363l4 3 14-11 2 0 13-27-8-5zM181 256l13-15-6-5zM199 208l9 10 20 0-4-25-1-2-23 15zM591 75l30 4 1 1 23 7 8-6-28-12-33-6zM759 123l16 12 4 14 2 1 27-6 4-3 2-5-34-6zM808 144l17 28 18 1 12-12 6 1 16 21 24-18-3-6-38-15-46-8-2 5zM877 183l2 20 21 29 10 5 15-12 11 0 11-8-7-40-15-7-27-11 3 6zM993 334l2 11 17 10 14-5 14 10 16-9 4-25-12-7 13-33-15-16-13 3-8-3-21 6-3 19 9 12 1 10-16 11zM1017 402l12 38 16-5 8-29 22-2 11-19-18-12-4-16-8-6-16 9 1 11 4 8-1 19zM1014 598l5 10 21 7 8 17 13-2 14-29 0-4-26-6-2-5-27-13zM994 660l3 8 27 1 7 16-31 20 18 13 12-18 31-70-13 2-4 7-13 7-24-7zM949 744l2 19-2 4 8 13-1 15 8 9 11-14 31-54 12-18-18-13-17 18-4-1zM877 838l22 16 15-4 5 10 18-20 4-5-17-5-2 1-19-17-7-1zM828 913l9 11 5 2 18-9 11-10 4-6 1 2 14-14-9-1 0-7-20-24-8-1-22 29 3 6zM786 906l8 19 14 0 17-11 3-1 6-22-3-6-6-3-29 3-4 13zM726 934l5 18 9 3 10 0 38-9-2-8 8-13-8-19-21 0-9 14-25 3zM940 177l7 40 8 0 19-9 24 19 16-15-38-17-1 1-3-3zM979 262l25 14 21-6 8 3 13-3 11-17 12-4 3-5-23-17-35-15-16 15-1 6-17 19zM1045 435l14 9 4 33 3-1 17-5 17-25 8-2 0-26-31-11-2-3-22 2zM1048 511l11 15 28 6 4-3 6 1 6-30 5-56-8 1-18 26-19 6-4 21zM786 938l2 8 22-6 24-11 3-5-9-11-3 1-17 11-14 0zM1048 319l12 7-4 25 8 6 27-9 16 14 1 0-2-52-2-3 2-1-1-13-11-25-2-1-19 21-12-2zM1064 357l4 16 17 12-10 19 2 3 31 11 1-43-1-13-1 0-15-14zM1046 270l15 16 12 2 19-21 2 1-4-11-18-13-3 5-12 4z"/>
</defs>
<g fill-rule="evenodd" transform="translate(0.0 0.0) scale(.1)"><use href="#ol" fill="#7a31d2"/><path fill="#5b12bf" d="M406 90l1 3-15 11 35 15-4 8-3 19 16 18 7 2 6 16 12 7 6 23 37-17 2 1 7-2 11 2 2 4 1 0 28 7 20-29-35-4-1-13-6-19-6-1-12-9-1 0-27 11-2 10-3 2-31 4 4-25-2-11 20-12 1 0-3-21 7-9 0-1-3-10 8-24-2-2-6 0-68 46zM315 171l6-10 0-1-2-15 0-1-8 0-41 16-3 2-23 15 10 8-2 14 1 13 3 1 34-14 1 0-4-20 2-2zM346 167l7 10 8 2 9 16 1 1 31-5 1-7-15-23-7-1-8-13-20-4-1 0 0 1-6 22zM255 262l48-2 1 4-12 38 1 0-9 29-35-2-1 0 7 13 0 1 18 14-5 5-18 0-1 0-2 1-8 23 0 1 9 7 17 1 16 32 1 0 20-9 4-33 0-8 1 0 10-2 27-31 1 0-1 0-21-11-7-19 29-4 1 0 0-1 3-9-11-14-1-8 2-1 24-10 1 0 0-4 0-1-12-16-1 0-12 4-20-7 4-15 0-1-1 0-15-18-10-2 0 1-12 23-9 0-21 25zM395 274l14 18 21-18 0-1-7-14-7-2-17 6zM425 330l0 1 22-5 14-8-3-17-17-7-1 0-4 5zM429 399l11 15-2 13 13 12 1 6 24 10 0 1-17 21 3 8 1 0 22 3 3 16-6 6 0 1-1 19-14 6-2 13-14 10-19-15 1-5 17-19 1 0-1-3-19-15-1 0-13 2 0 1-1 12-8 10-20 5-4 10-10 3 0 1-1 4-25 12-1 0-2 17 19 11 0 2 5 26 1 0 7 2 9 19-11 15 0 1 16 13 11-2 6-5 12 0 9-14 2-8 0-1-11-10-10-2-6-14 2-12 3-2 22 8 2 6 0 1 21 13 1 0 1-2 0-1 1-15 18-18 7 2 1 0 6-4 14-5 12 8 6-2 20 7 11-10 15 11-1 21-3 5-1 12-3 4-30-3-4 5 1 17-10 8-1 3 1 0 10 15-3 17 1 0 5 5 1 0 15-1 9-18 15-7 1 1 9 19 24-8-1-15 1-2 21-3 7 17 17 8 11-25-3-11 3-16-2-3 0-18 0-1-11-18-9-1-9-9-14 3-15-24-13 8-16-16 22-17-3-6-1-14-22-9-1-4 9-15-4-12 9-12 2 0 13-21 0-1-1-8 8-8-4-14-1 0-22-9-6 27-2 1-22-11 0-16 3-4 26 1 4-9-1 0-6-9-2-20 17-2 1 0 4-3 1-8-11-16-15-1-6-15-16-8-15 12 0 4-1 4-20 23-6 2 1 6-5 29-3 3 0 1 12 16-10 13-14-2-3-7-1 0-9-2-11-15 5-10-6-20 22-11 3-3-12-19-11 0-14 7 0 1 10 24-24 8-1 0zM531 573l-3-5-1 0-17-12 11-14 0-1-1-7-13-11-2-15 5-3 17-1 6 7 0 3 0 1 14 13-6 17 0 1 2 2 11 8 2 9-5 10zM607 644l-4-11 7-9 18-1 9 15-15 11zM113 418l20-2 13-7 0-1-2-8-10-12-17-4-1 0-16 9-1 0 0 3zM189 489l1 0 20-16 1 0 1-6 7-9-3-14-1 0-19-6 0-28 0-1-5-3-11-3-1 0-19 14 0 1 2 12-11 14-16 2-1 0-7 27-2 1-24-14-1-17-17-7-4-12-1 0-1 3-15 41-3 27 6 25 0 1 0-1 6-17 7-6 6 0 8 5 28-5 9 9 22 6 4-3 1 0 4-15 23-9zM176 603l10-3-6-34 0-1-6-9-3 0-2 2-32 7-2-3-29-10-4-13-1-1-1 0-26 6 10 21 21 51 10 18 0 1 9-2 2 1 12-4 0-1 2-2 0-34 16-2zM327 714l10 11 1 3 17 15 7-1 0-1 1 0 4-6 0-19 0-1-9-5-5-11-17 1-9 13zM375 773l1 24 1 0 15 1 11 12-1 12 0 1 26 3 7-13-5-21 5-2 12 3 28 1 1-16-22-17 5-25-2-4-9-5-1 0-19 2-11 16 0 1 4 11-4 21-15-1-16-12-4 0zM521 785l1 0 9 21 2 1 20 30 2 0 13-33 11-5 17 12 0 8 0 1 13 12 1 0 26-11-5-15 14-13 1 0 0-1-13-22-1 0-8-2-2-16 0-1-7-5-28 6-1-1-21 7-16-1-7 7-3 0-17 21zM441 866l3 7-11 15 5 16 0 1 38 3 9-6 0-1 5-24 0-1-14-7-2-15-24-1zM591 75l30 5 1 1 23 6 8-5 0-1 1 0-1 0-28-12-33-6zM569 137l4 15 0 1 30-2 0-1 1 0-1-16-5-7 7-15-26-29-2 0-1 0-6 10 16 33-16 11zM639 128l21 12 4 8 30 5 7-22 0-1-19-16-1-5-31-2-11 17zM646 249l28 6-4 12 0 1 4 13-12 15 0 1 22 17 20-19 0-1-1-8 3-8 0-1-5-11-22-14 3-14 0-1-7-7-26-7-1 0-7 7-1 3zM565 283l12 15-3 3-6 23 1 0 21 3 5-17-13-11 12-18-8-19 0-1-11 0 0 1-10 20zM607 467l1 13 1 0 2 2 17-4 9 6 16-6 0-1 1 0-4-20-11-10-9 6-6-1 0 1zM703 481l0 1 31 1 4-24-11-7-23 15zM663 592l9 3 1 0 19-16 13 3 1-1 2-32-18-4-1 0-9 13-10 1-9 27zM688 693l10 17 16-1 8-16 0-1-14-13-1 0-10 0zM701 760l13 26 19-1 15 14 20-3 1 0 0-1 4-11 0-1-5-10-1-16-1 0-25-10 0-8-20-9-1 0-12 9-7 20zM576 878l28 8 8 12 1 0 8-3 32 39 1 0 6-13 0-17-22-19-5 1-14-31 0-1-9-3-1 0-7 5-22-2zM808 144l0 1 17 27-14 19-1 16 1 0 12 7 0 30-4 3 0 1-6 18-12 10 0 1 6 15 1 0 13 3 7 20 25-7 11 11-4 10-12 7 0 1-4 5-3 11-12 9-8 0-9-30-1 0-20 18-14-13 0-1-18 9 0 1-3 8 21 15-1 8 1 0 12 18 18-12 15 17 0 1 1 0 0-1 21-12 1 0 18-3 6 14 0 14 20 16-2 10-22 7-9 27-2 2 18 26 15 0 0-1 9-23 15-1 1 0 11-18-3-5 1-28-18-7 1-9 28-22-12-16 24-18 1-6-15-18-11-1-9-9-1 0-3 0-24-9-3-27 13-10 24 25 17-14 2 2 1 0 34 6 1 0 3-26 5-4 1-9 17-20 1 0 0-6-24-19-19 9-8 0-11 8 8 17-3 23-7 5-25-16 2-17-11-6-21-28-1-19 23-18 0-1-2-6-39-15-46-8-1 0-1 4zM725 188l0 1 13 19 0 5 27 13 8-29 1-1 1 0 9-33-3-13-2-1-4-14-16-12-16-6-1 0-11 23 4 10 21 7-6 16zM1046 270l14 16 0 1 13 1 19-20 2 0 1 0 0-1-5-10-18-14-1 0-2 6-12 4zM985 385l-20 11-2 21 7 7-5 11-21 10-2 11 5 7 1 0 19 5 4 9 33-2-3-25 6-5 20-4 1 0 1-1 16-4 14 8 4 33 3-1 17-5 18-25 7-2 1-26-32-11-2-3 11-19 0-1-17-11-4-16-9-6-16 8-14-10-14 5-17-9-1 0-18 19 0 2zM869 541l2 14 3 2 23 0 1 0-1-34 0-1-1 0zM895 604l28 31-19 26 23 17 6 10 18 8 13-16-1-17 0-1-10-6-14-25 1-2 37 6 11-10 14 5 5 9 24 7 13-6 0-1 5-7-8-17-1 0-20-7-6-10 6-25-1-4-1 0-13-7-5 4-31 6-5-8-18-4 0 1-24 19-4-1-23 19-1 6zM729 655l0 1 7 30 1 0 0 1 25-21 0-1-9-17-6-2-7 1 0 1zM815 688l0 1 18 13 17 10 14-12 22 0 1 0 4-3 4-32-1 0-39 3-2-1-1-1-23-6-7 4zM841 738l0 1 7 14 28-9-7-17-17-7zM795 735l0 1 12 24 33-22-26-13-11 3 0 1zM824 771l0 1 12 21-4 14 26 11 1 0 17-22-3-12-4-1-22-25zM828 913l9 11 5 2 18-8 11-10 4-6 1 1 14-14 1 0-1 0-9-2 0-7-20-23-7-1-12-14-9-3-1 0 0 1-15 16-11-3-21 18-19 5-19-17-16 11-20-26-21 14-2 4 10 12-5 24 3 5-7 13 0 1 8 20 1 0 28-3 5-11 25-3 9-14 21 0 6-8 4-13 29-3 6 3 2 6-5 21z"/><path fill="#a561e1" d="M343 131l0 1 10 12 20 4 0-1 10-30-2-6-4 1-17 13zM450 159l32-4 3-2 3-10 27-10-6-24 1-2 30-7 9 5-1 25-15 12 0 1 5 18 0 1 1 0 34-9 1 0-4-16 16-10 0-1-16-33 7-9 2-1 12-8 1-12-42-7-27-9-14-1-1 1-26-1-8 24 0 1 3 10-7 9 3 21-20 12 2 11zM240 222l15 35 1 0 20-25 9-1 13-23-1-1-7-8-34 13-2-1-1 0zM177 265l0 1 21 11 0 2 23 19 9-2 7-29-21-10-1-2-17-15-4 0-13 16zM435 277l5 18 1 0 17 6 11-10-5-23-1 0-5 0-23 8zM134 355l13 9 9-1 16 9 3 1 17-10 0-1-2-10 13-31-1-2-22-12-3 0-16-14-22 30 7 5zM317 375l23 13 23-7 7 5 0 1 16 4 4-4 9-25-38-13-7-7-10 2zM457 380l6 20 20 3 7 4 4 0 4-4 4-29 0-6 5-1 20-23 2-5 0-4-1 0-17-7-5-23-2-1 0-1-15 3 0 1-14 19-5 21 11 19-3 3-21 10zM386 418l14 12 1 0 11-5 3-18-26-11-1 0zM78 424l4 12 18 7 6-4 7-21-13-22-1 0-9 7zM286 476l9-6 14 9 1 0 7-2 0-1-3-24-1 0-17 2-18-21-9 5-9 0-23-13-9 2-1 0-12 17 3 14-7 8-1 7 6 16 16 5 7-5 19 6 0-1 2-1 3-22 5-5zM358 459l0 1 15 11 1 0 11 1-2 32-17 1-4 14-7 12 0 1 19 14 1 0 10-4 4-10 19-4 9-11 0-12-3-2-10-30-10-5 2-17-1 0-21-13-6 3zM68 532l6 12 0 1 26-7 2 1 3 13 1 0 29 10 2 4 32-8 2-1 1 0-1 0-22-26 2-19-21-7-9-9-1 0-28 5-8-4-6 0-7 5 0 1-6 17zM255 621l13 8 11-4 15 4 1 0 0-1 10-11-3-13-1-1-20-2-9-7-1 0-13 10-1 0-2 16zM410 626l10 3 11 10-2 8-9 13-12 0-6 5 0 1-1 0 1 0 7 23 0 1 13 1 14-12 1 0 15 8 16-5 11 3 9 8-32 39 3 4 14 3 9 7 21 2 8-14 8-2 17 31 3 2 3-1 7-7 3-22 3-3 0-1 1-14 0-1-11-12-15 2-6-5 3-17 0-1-1 0-10-14 1-3-1 0-20-14-6 3-17-10-1 0-11 1-8-14 2-7-21-13-2-6-23-9-3 3-3 12zM222 720l18 15 1 0 11-7 13 0 15 11-11 26-11-2-1 0-18 14-7 0-4 3 0 1 31 31 16 10 13-3 5-26-5-9 15-16 12-3 7-4 0-1-2-15-1 0-17-16 0-3-12-22-10-3-9-11-22 9-13-7zM352 699l5 11 9 6 1 19-5 6 20 24 0 1 4-1 15-18 0-1-10-15 7-18-6-10-5-3-6-10-20-6zM429 791l5 22 1 0 22 9 5 3 0 1 0-1 13-1 5 5 0 4-6 21 2 15 14 8 13-3 5-15 3-2 31 0 1 22 1 0 8 41-1 0 0 1 5 5 56 15 42 9 21 5 54 0 2-3 9 3 10 0 38-9-2-8 9-13-9-19 0-1-21 1-10 14-24 2 0 1-1 0-4 10-28 3-8-19 6-14-3-5 5-24 0-1-9-11 0-1-19 5-13-4-7-17-3-2-11-22-26 10-14-12 1-8 0-1-18-11-11 4 0 1-1 0-12 32-2 0-19-29-3-1-23 13-7-24-25 1-1-2-28-1-12-4zM576 878l4-23 22 1 1 0 7-4 9 3 13 31 1 0 0 1 5-1 21 18 1 17-7 12-32-38 0-1-9 3-4 8-19 3-14-5-4-20zM335 818l11 14 23-1 12 16 19-2 4-35-12-12-15-1-1 0-4 4-23-1 0 1zM526 200l2 25-13 15-26-12-13 6-1 0-1 4 0 1 3 16 0 1 1 0 9 5 5 18 13 9 22-18 6 2 0-1 16-17 16-2 0-1 5-21 0-1-3-3-3-12-9-7 0-1-28-6zM558 331l0 1 7 14 15 1 10 16-1 7-4 4-17 1 0 1-1 0 2 20 7 9 11-6 21 3 1 0 6-10-6-11 10-23-7-7-1-10-19-8-2-7-21-2-1 0zM592 447l1 8 0 1 14 11 1 0 16-14 6 0 9-5 1 0 1-8-11-17-4-1-1 0-22 17-3 0zM505 508l1 15 0 1 13 11 2 6 0 1 20 4 6-18-13-14 0-3-7-8-17 1-1 0zM628 566l-11-29 0-1-1 0 0 1-22 14-2-2-1 0-21 17-1 0 0 1 17 16 1 0 12-8 14 24 1 0 14-3 8 9 1 0 9 0 17-13 1 0-3-6-22-16-7 0-3-4zM529 616l0 20 0 1 30 3 4-4 0-13 4-5 0-21-15-11-11 10-3 15zM579 708l10 11 21 0 1 1 3 26 7 6 1 0 29-15 0-1-8-20 6-17 17 4 16-10 7 0 8-13 10-1 15 14 15-5 0-2-7-31-8 0-16-9-1 0-15 9-21-11-10 1-4 15 0 1 4 11-11 24-17-8-20 13-8-9-24 7 0 1 0 7zM645 87l5 20 30 3 2 4 19 17 6-2 24 11 12-23-24-8-9-3-57-25-8 5zM621 190l24 6 6 7-3 20 1 0 26 7 7-35 6-5 2 0 1 0 3-37-30-5-8 17-1 1-24-4-1 0zM751 285l13 3 1 0 20-19 16 8 1 0 11-11 6-18 5-3 0-31-13-7-10 3-22 32-4-2-10-14-26-13-1 0-1 1 0 27-5 6-18-4-13 23 4 12 1 0 2-1 42 7zM635 278l0 1 21 18 7 0 11-16-4-14zM680 331l14 24-17 18 12 15 8 2 5 16 0 1 1 0 16 6 0 19 6 5 17-5 13 6 4 16-21 5-5 24-30-2-1 1 12 28 0 1 23 2-3 23 0 1 26 7 1 32-15 3-1 0-10 27 1 0 12 11 17-3 12 12 14-8 18 9 17-15 0-1-2-7 14-21-5-7 0-18-2-3 0-1-25-2-4-9-12-3-8-6 8-20 20 15 12-9-7-19-2-2-20 0-6-16-21-6-1-1-1-19 13-5 11-22-8-18 3-2 6-16-12-17 1-8 0-1-1 0-21-14-7 5-28-4-3-24-1 0-35-3zM672 430l1 21 0 1 24 2 4-17-14-13-7-1zM774 711l-13-14-14 0-1 0-6 17-21 0-5-6-1 0-15 2-5 8-14 8-1 0-5 11-6 2 0 1-2 34 0 1 9 5 7 27 3 4 16 0 2 1 12 21-3 11 20 26 16-10 5-17 24 1 1 0 16-14 1 0 12 23 11 4 1 0 15-17 8 3 12 13 0 1 8 0 19 24 1 7 9 1 10-9 19-20 19-20 4-5 0-1-18-4-2 1-19-17-7-1-20-17-18 21-25-11 4-13-13-22-7-2-9-6-1-4-11-24-9-2-11-10zM733 784l-19 2-12-27 7-20 11-9 20 10 0 7 1 0 25 11 1 15 5 11-4 11-20 3zM759 123l16 12 3 14 1 0 2 2 27-6 4-4 1 0 1-5-34-6zM877 183l1 20 22 29 10 6 1 0 14-12 11 0 12-8 0-1-8-40-15-7-26-11-1 0 2 6zM777 337l14 13 0 1 21-18 0-4-17-11-1 0-15 13zM828 428l21-12 9 0 11-3 0-14-6-15-18 4-1-1-22 13-1 15 0 1zM804 463l10 7 23-1 8 7 9-1 3-2 9-27-1 0-6-4-22-3-9-10-18 11 0 1zM1047 511l1 0 11 15 28 6 4-3 6 1 6-30 5-56-8 1-18 26-20 6-3 21-11 13zM861 535l8 7 27-19 1 34 14 5 7 18 4 1 24-20 18 4 4 8 1 0 31-7 5-3-2-8-8-10-23-3-9-14 10-21-5-7-19-3-13 9-15 2-9 12-12-2-13-18-15 1-7 6zM752 648l9 18 10 8 1 0 14-1 8-15-1-6-18-16-1 0-21 12zM938 631l15 25 9 7 1 17-12 15-18-8 0 1-19 20-8 0-15-12-5 3-22 0-14 13 2 8 17 7 6 17 6 4 20-7 1 0 11 2 1 0 19-12 16 13 1 0 29-21 4 0 17-18 18 13 1 0 11-18 31-70-13 1-4 8-13 7-24-7-5-10-14-5-11 10-37-5-1 2z"/><path fill="#c78def" d="M200 206l-1 2-11 28-7 20 14-15 3 0 17 15 0 1 22 10 18-5 1-5 0-1-16-34 14-10-2-13 2-14-10-8-21 14zM410 238l6 19 6 3 8 14 5 3 23-9-14-23-4-1-2-17 10-6 18 0 1 0 1-9-7-23 0-1-12-6-8 11-26 16 4 10-9 18zM161 293l15 15 4 0 22 12 0 1 1 0 27 16 14-10 0-1 1-16-15-14-9 1-23-18 0-2-20-12-1 0-4 12zM354 342l6 7 38 13 1 0 3-2 15-25-8-6-9-16-17-6-28 30-1 0zM418 335l10 13 17 7 1 0 13-7 0-1-11-21-1 0-22 4zM302 418l17 7 14-14 5-2 0-1 2-20 0-1-23-12-11 1 0 9zM191 406l0 1 5 3-1 28 20 6 13-17 9-2 23 14 9 0 9-5 1 0 3-7-17-33-17 0-8-8-16-2-15-14zM288 551l10 17-1 2-24 8-8-7-3-18-7-10 9-20-3-5-1 0-33-4-1 1 5 23-20 4-6 5 0 1 14 22-3 6 0 1-1 16 6 4 22-3 15 11 14-10 9 6 20 2 1 1 23-11 0-1 4-11 0-1-16-15 5-10 22-6 8-17 0-1-7-5-28 2-13-11-10 6zM115 634l16 31 14 11 1 0 12-9 1-16 14-7 5-8-11-17 9-16-20-13-16 2-1 35-2 2-11 4-2-1zM356 641l5 14 14 0 12-16-10-19-7-3-13 13zM268 628l0 1 1 18-24 4-6 15-12 6 0 1-1 4-29 24 0 1 20 17 1 0 5 1 13-27 12 7 1 0 22-10 2-14 7-7 1-10 17-13-3-18-1 0-15-3zM417 719l11 11 20-3-1-17 6-24-1 0-16-8-1 0-13 12 0 1 1 7-6 20zM290 704l12 22-1 3 18 17 3 14 0 1 18 3 15-21 0-1-17-15-1-2-10-12-4 0-15-24zM596 228l9 19 0 1 35-14 1 0 0-1 1-3 7-7 3-20-7-8-24-5-17 7 0 7zM504 304l2 2 4 22 1 0 17 8 1 0 14-12 0-13-4-9 2-20-8-11-6-2-22 19zM618 333l21 7 0 16-6 5-14-3-10 23 5 11-6 10 0 2 17 19 4 1 11 16-1 8 11 9 24-5 0-1-1-21-16-1-4-17-13-3-5-20 20-2 0-1 11-15 11 3 1 0 0-1 16-18 1 0-14-24 1-2 0-1 2-14 0-1-21-17-7 1-9 22-26-7-1 0 0 1zM660 503l5 10-3 14-3 3 0 19 5 7 6 3 10 0 0-1 10-13-2-8 6-13 14-4 6-10-12-28-9 3-17-3-11 3zM643 506l-8-8-19 6-1 0 0-1 0 1-18 7 0 1-1 8-8 9 0 15 3 5 3 2 22-14 11 29 1 1 1 0 10-19-2-20-1-1zM477 621l8 8 15 3 0-1 5-14 11-6-1-20 0-1-12-8-15 5-6 5 3 9-8 19-1 1zM645 605l11 19 0 18 3 3 10-1 21 11 16-8 16 9 8 0 10-8 7-1 6 1 22-12 2-10-11-13-1 0-17 3-12-10-18 8-10-8-23 7-7-5-5-13-1 0-9-3zM642 716l9 21 16 3 6-3 1 0 5-10 15-9 5-8-10-17-7-1-16 10-17-3zM475 794l1 3 25-1 13-12-14-14-17 3-7 5zM630 806l5 15 5 8 6 15 4 2 7 17 13 4 19-5 2-4 20-13 0-1 1 0 3-10 0-1-12-21-2-2-1 0-15 0-4-3-15-1-21-13-15 12zM571 882l0 1 3 20 0 1 15 4 19-2 0-1 5-7 0-1-9-11-28-8zM690 190l4 1 12 34 0 1 31-11 2-2 0-5-14-20 26-15 6-16-22-8-4-9-24-11-6 1-8 23-3 36zM935 286l15 29 8 0 9 17 0 1 26 2 1 10 1 0 17 10 14-5 14 10 16-9 4-25-12-8 13-32-15-16-13 3-8-4-21 6-25-14-5 5-4 25-34-5zM779 331l1 0 15-13-1-9 14-17-6-15 0-1-17-7-1 0-20 18-13-2-33 19-1 0 1 1 6 15-7 11 3 24 29 5 7-6 3-8-13-22 19-10zM672 405l8 19 7 0 13 13 1 0 18-5 0-20-16-6-6-16 0-1-8-1zM780 412l7 18 23 11 1 0 17-12 8 11 1 0 22 3 6 3 22-6 3-11 0-1-21-15 0-1-11 4-10-1-20 12-6-12-40-6-2 2zM725 436l0 1 1 15 0 1 1 0 11 6 22-5-5-17-13-6zM786 483l7 17 20 0 1-30-9-8-1 0-2 1-15 20zM886 500l14 19 12 1 10-11 14-2 13-9 19 3 0-1 3-23-4-9-19-5-6-7-19 1 0 1-12 18-15 0-1 0 0 1zM832 558l1 19 5 6-15 20 0 1 2 8 1 0 20 11 8 0 4 3 2 0 30-17 5-5 1-6 22-18 0-1-7-17-14-5-23-1-3-2-7 6zM760 697l1 0 0 1 13 14 2 11 11 11 8 2 1 0 8-7 10-3 26 12 0 1 2 0 11-19-3-8-16-11-18-13-1 0-12 3-6-3-11-16-15 2-10 23zM713 709l5 6 23 0 6-18-10-9-1 0-14 4 0 1z"/><path fill="#dcaef6" d="M371 195l7 32 4 6 28 5 1 0 9-19 0-1-4-9-8-5-6-13zM635 527l1 1 1 0 23 2 3-2 3-15-6-10-17 3zM254 543l7 10 3 18 9 8 24-9 2-2-10-18 2-27-1 0-26 0zM258 604l-15-11-22 3-6-4-22 9-7-2-10 4-9 15 0 1 10 17-5 8 17 20 0 1 18-11 20 19 1 0 11-7 1 0 5-14 25-5-1-18 0-1-14-8zM198 749l30 32 4-3 7 0 19-15 11 2 12-26-16-12-14 0-10 7-18-14-5-1-1 0-18 24zM453 761l1 0 22 18 7-6 17-3 5-15-2-7-21-2-9-8-14-2-1 0zM273 826l15 14 38 29 1 0 0-1 1-7 19-15 0-15-12-13-2 0-25 17-1 0-19-17-13 4zM940 177l-1 0 8 40 0 1 8 0 19-9 24 19 17-16-39-17-1 1-3-3zM682 328l0 1 35 3 1 0 7-11 0-1-7-16 33-18 0-1-1-2-42-7-2 1-1 0-3 9 1 8-19 19-1 0zM782 410l39 6 1 0 1-16-16-18-18 12-7 15zM866 508l6-7-18-26-9 1-8-7-23 0 0 1-1 30 1 1 7 19-11 9-20-16-9 21 8 6 1 0 12 4 4 8 0 1 25 2 10-23-7-8 12-19 19 3zM774 636l18 17 1 0 17-19-1-7-18-10-14 9z"/><use href="#mesh" stroke-width="2.8"/><use href="#r1" fill="none" stroke="#d9d2de" stroke-width="5"/><use href="#r2" fill="none" stroke="#9b9b93" stroke-width="10.5"/><use href="#ol" fill="none" stroke="#2a2a2a" stroke-width="9" stroke-dasharray="22 5"/></g>
<g fill-rule="evenodd" transform="translate(176.50 -0.15) scale(.1012 .1006)"><use href="#ol" fill="#e3e3e3"/><path fill="#fdd0d0" d="M200 206l-1 2-11 28-7 20-4 9-4 12-12 16-22 30-25 40 4 3 14-11 2 0 13 9 9-1 16 9 3 1 17-10 15 4 2 4 15 14 15 2 9 7-11 31-9 2-1 0-12 17 3 14-7 8-1 7 6 16 15 5-4 20-1 1 5 23-20 4-6 5-19-2-12 11-3 0-2 2-32 7-2-3-29-10-4-13-1-1-1 0-26 6 10 21 21 51 10 18 16 31 4 7 21 27 29 36 13 14 30 32 31 31 16 10 13-3 5-26-5-10-1 0-5-1-13-17 12-26 8 0 12-10 1-3-12-22 18-14 2-9 0-1-30-12 1-9 16-13 14 4 1 0 14-11-1-15 10-9 0-1-10-22-23 11-1 0-20-2-9-6 1-16 24-9 2-2-10-18 2-27 9-5 0-1 1-5 2-2 7-31-15-9 2-16-1 0-17-21 3-6 20-9 4-33 0-8 1 0 10-2 27-31 10-1 6 6 38 13-8 25 35-4 2 1 3 3 1 0 25-7 0-1-10-24 0-1-17-6-11-13 7-5 12-31 4-4 17 6 11-10 5 1 15 15-14 19-5 21 11 19 1 0 13-1 6 3 6-1 33 13 1 0 2-4 12-6 0-1 2-9 8-14-6-14 10-8 5-22 3-3 4 0 1 0 12-18-8-19 0-1-11 0-10-10-17 2 0 1-15 17-6-2-12-14 1-14 0-1-27-12-13 6-1 0-1 4 0 1 3 16-14 13-5 0-23 8-5-3-7-14-7-2-17 6-4 11 14 18-1 5-8 16-17-6-9-14 1-8-11-19-1 0-25 10-1 2-32-14-1-5 0-2 14-13 0-1 1 0 4-15 0-1-1 0-15-18 19-18 9 2 10 21 25-19 0-1-8-16-8-2-7-10-26-6-2-15 0-1-8 0-41 16-3 2-23 15-21 14z"/><path fill="#fb9a9e" d="M307 209l-1 0 1 0 15 19-4 15-14 14-1 2 0 1 1 4 1 0 32 14 2-1 24-10 1 0 0-4 0-1-12-16 4-17 23-2 0-1-8-31-1-1-25 19-9-20-10-2zM382 250l17 13 17-6 1 0-6-19 0-1-28-5-1 0 0 1zM422 259l8 15 5 3 23-9-14-23-4-1zM441 294l-1 0-4 5-11 31-7 5 10 13 17 7 10 24 0 1 1 0 1 0 22-11 3-3-12-19 6-21 14-19-16-16-5-1 0 1-1 0-10 9zM808 144l0 1 17 27-14 19-1 16-9 3-22 32 5 27 17 8 1 0 11-11 6-18 4-3 11 5 27-22 7 14 32-10 0-1-21-28-1-19 23-18 0-1-2-6-39-15-46-8-1 0-1 4zM640 233l6 16 29 6 4-3 3-14 0-1-7-7-26-7-1 0-7 7zM539 231l0 1 9 22 17-2 10 10 11 0 19-15-8-20-1 0-26 2-3-3-1 0zM568 324l1 0 21 3 5-17-14-12-4 0-3 3z"/><path fill="#7b7bf0" d="M519 732l-8 1-8 15-21-2-9-8-14-2-2-4-9-5-1 0-19 2-11 16-16 1-15 19-4 0-7 8 1 24-4 4-23-1 0 1-14 17 11 14 23-1 12 16 19-2 11 13-7 19 0 1 5 7 24 3 5 16 0 1 38 3 24 2 13 4 3-3 13 7 15 5 1 0 6-2 5 5 56 15 0-1-3-12 3-5-4-18 5-7 8-3 12-8 5-1 21 18 1 0 13-10 20 4 5-24 0-1-9-11 0-1-19 5-13-4-7-17-3-2-7-14 44-17 1-1 0-1-4-3-15-1-20-13 0-1-13-22-1 0-8-2-2-16 0-1-7-5-28 6-1-1-21 7-16-1-7 7-3 0-2-1z"/><path fill="#f95e5e" d="M322 139l-3 5 0 1 2 15 0 1 25 6 7 10 8 2 9 16 1 1 31-5 1-7-15-23-7-1-7-13 9-30-2-6-4 1-17 13-17 6zM97 391l2 3 1 0 17-10 17 4 9 12 2 8-12 8-20 1-13-21-1 0-9 7-12 21-1 3-15 41-3 27 6 25 0 1 0-1 6-17 7-6 6 0 8 5 28-5 9 9 22 6-3 19 23 26 3 0 12-11 19 2 6-6 21-3 0-1-5-23 0-1 5-21-16-5-5-15-1 0-21 15-5-4-1 0-23 9-7-17 5-10 1 0-7-21 11-14 0-1-2-12 18-14 12 3 5 3-1 28 20 6 13-17 9-2 1 0 10-31-8-8-16-2-14-14-2-3-1 0-15-5-1 0-16 10-3 0-16-9 0-1-9 1-12-9-1 0-2 0-14 11-4-2 0-1 0 1zM759 123l16 12 3 14 1 0 2 2 2 12-9 33-1 0-8 30 9 15 1 0 5 1 21-31 10-4 0-16 15-19-17-27 3-4 1 0 1-5-34-6zM458 268l5 1 15-13 0-1-3-17 1-4-10-13-18-1-1 0-10 6-17-8-1 0-9 19 0 1 6 19 6 3 1 0 17-16 3 1zM515 255l12 15 6 2 0-1 16-17-10-22 0-1-10-6-1 0-13 15 0 1zM634 278l1 0 0 1 35-11 5-13 0-1-29-6zM351 246l13 17-1 4 12 18-1 8 0 1 9 13 17 7 9-16 0-1 1-5-1 0-14-18 4-11-17-13 1-17-3-6-1 0-23 1-1 0z"/><path fill="#f22626" d="M392 104l35 15-4 8-3 19-17 2-1 0-15 13 16 23-1 7 6 13 7 5 1 0 26-15 0-1 7-10 12 6 6 23-1 9 9 13 1 0 0 1 0-1 13-5 26 12 1 0 13-16 10 7 27-6 4 4 26-2 1 0 8-24 0-7 16-7 10-28 24 5 0-1 2 0 7-18-3-8-22-12-4 3-6 28-24-5-13 31-16-8-2 1-19 28-28-6-3-4 16-21 0-1-1-13-6-19-6-1-12-9-1 0-27 11-2 10-3 2-31 4 4-25-2-11-19-9 0-21 0-1-1 0-26 1zM99 396l14 22 20-2 13-7 0-1-2-8-10-12-17-4-1 0-16 9-1 0zM151 444l0 1 7 21-6 10 7 18 1 0 23-9 6 4 1 0 20-16 1 0 1-6 7-9-3-14-1 0-19-6 0-28 0-1-5-3-11-3-1 0-19 14 0 1 2 12zM65 520l3 12 6 12 0 1 26-7 2 1 3 13 1 0 29 10 2 4 32-8 2-1 1 0-1 0-22-26 2-19-21-7-9-9-1 0-28 5-8-4-6 0-7 5 0 1zM591 75l30 5 1 1 23 6 8-5 0-1 1 0-1 0-28-12-33-6zM502 81l7 26 31-7 1 0-7-22-1 0-27-1-1 0-3 3z"/><path fill="#dd0707" d="M592 63l-42-7-27-9-14-1-1 1-26-1-1-2-6 0-68 46-26 19-1 2 2 6-9 30 8 13 6 1 1 0 15-13 18-2 2-19 4-8-34-15 14-11 26 0 0 21 20 9 2 11-5 25 32-4 3-2 3-10 26-10 12 8 1 0 6 2 5 18 1 13-15 22 2 4 1 0 28 7 20-29 1 0 16 7 13-30 24 4 7-27 3-3 21 11 4 8-8 17-1 1-24-4-1 0-9 28-17 7 0 7-8 24 9 19 0 1 35-14 1 0 0-1 1-3 7-7 26 7 6 8-3 14 23 14 4 12 1 0 2-1 42 7 1 1 13 3 1 0 20-19-5-27-5-2-9-14 7-29 1-1 1 0 9-33-3-13-2-1-4-14-16-12-16-6-24-8-9-3-57-25-8 5-23-6 0-1-1 0-29-4zM503 81l3-4 27 1 7 22-30 6zM437 227l11-6 18 0 1 0 1-9-7-23 0-1-12-6-8 11-26 15-7-4-6-13-31 4 7 32 4 6 28 5 1 0 9-19z"/><use href="#mesh" stroke-width="3.6"/><use href="#r1" fill="none" stroke="#a9a9a9" stroke-width="5"/><use href="#r2" fill="none" stroke="#757575" stroke-width="8.5"/><use href="#ol" fill="none" stroke="#2a2a2a" stroke-width="9" stroke-dasharray="22 5"/></g>
<g fill-rule="evenodd" transform="translate(340.40 -0.15) scale(.1012 .1006)"><use href="#ol" fill="#e3e3e3"/><path fill="#fdd0d0" d="M531 441l0 1 2 17-9 11 0 5 7 10-4 18-17 1-1 0-4 4 1 15-17 10-7-4-15 7-2 13-14 10-1 0-1 15 1 0 20 10 8-26 7 0 13-5 11 4 12-15 20 4 6-18-13-14 0-3 16-5 4-18 0-1-3-2 3-22 8-5 4-13 2-2 6-27-1-2 3-9 11-6 21 3 1 0 6-10-6-11 10-22 14 2 7-4 0-1-1-16-21-8 0 1-7 8-19-8-1 0-11 14 10 16-1 7-4 4-17 1-13-6-12 7-3 3-1 7 5 8 3 18-3 4 0 17zM443 597l0-1-1-16 0-1-14 0-19 16 0 2-3 3-3 12-26 8 9 19-11 15-14 1-9 13 0 1 9 15-8 15-17 1-9 13 0 1 10 11 1 3 17 14-15 22-18-4-7 5-12 2 0 1-1 0-15 15 0 1 5 9-5 25-12 4-2 4 15 14 38 29 1 0 0-1 1-7 19-15 0-15-12-13 15-17 22 1 5-5-1-24 6-7 4-1 15-18 0-1-10-15 7-18 19 6 1 0 5-21-1-7 0-1-12-1-8-23 6-5 12 0 9-14 2-8 0-1-10-9 13-16 0-1-2-6zM645 86l0 1 5 20 30 3 2 4 19 17-8 22-3 36-2 1-6 4-8 36 7 8-3 14-4 2 0 1-4 12 0 1 4 13-12 15 0 1 22 17 20-19 0-1-1-8 3-8 2-1 42 7 0-1-4-14 0-1-11-10-2-10 5-7 0-27 0-1 27 13 8-29 1-1 1 0 9-33-3-12 27-6 4-4 1 0 1-5-34-6-21-7-16-6-24-8-9-3-57-25zM1045 435l0 1 14 8 4 33-1 0-3 21-11 13-1 0 1 0 11 15-1 29-21-2-7-32 0-1-27 35 2 8 13 7 2 3 27 13 2 5 0 1 26 5 3-2 2-5 15-50 2-10 6-30 5-56 1-26-32-11-2-3 0-1-22 2 0 1z"/><path fill="#fb9a9e" d="M470 90l3 21 6 3 29-5 6 23-27 11-2 10 19 12 8 29-6 1-2 0-37 17-1 9 9 13-1 4 0 1 3 16 0 1 1 0 9 5 5 18 13 9-1 16 2 2 4 22 1 0 17 8 0 3-1 4-20 23-6 2 1 6-5 29-3 3 0 1 12 16-10 13-14-2-1 0-6 21 1 0 16 9-1 16-6 8 3 16-6 6 0 1-1 19 1 0 6 3 1 0 17-9 1 0 0-1-2-15 5-3 17-1 4-19-6-10 0-5 8-10 0-1-2-17 13-9 0-16 3-4 0-1-2-18-5-8 1-6 2-4 12-6 13 6 17-2 1 0 4-3 1-8-11-16 12-14 19 8 7-8 3-20 26 7 9-23 7 0 11-16-4-13 5-13 4-3 3-14 0-1-7-7 7-35 6-5 2 0 1 0 3-37 7-22 0-1-19-16-1-5-31-2-4-20 7-5 0-1 1 0-1 0-28-12-33-6-42-7-27-9-14-1-1 1-26-1-8 24 0 1 3 10zM465 550l0-1 3-13-18-16-17 19-1 0-1 5-12 6-5 5-8 1-1 0 0 1-5 13-26 8-5 9-5 3 0 2 5 25-12 13-1 11-28-1-2-1-1 0-14 11-13-5-1 0-17 14-1 9 0 1 30 12-1 8-18 15 12 22-1 3-12 9-8 1-1 0-11 26 12 17 6 2 16-16 12-3 7-4 18 3 15-21 0-1-17-15-1-2-9-12 9-12 16-2 8-15-8-16 9-13 13 0 12-16-10-19 27-8 2-12 3-2 0-1 1-1 18-17 14 1 8-6 1-15z"/><path fill="#f95e5e" d="M343 131l0 1 9 12-6 22 0 1 7 10 8 2 9 16 1 1 7 31-22 1-1 0-4 18 13 17-1 4 12 18-1 8 0 1 9 13-28 30-1 0 0 5-10 2-27 31 23 13 23-7 6 5-12 30-3 2-1 8-19 19-6-3-15 10 4 24 0 1 18 1 9-19 14 1 15 11 1 0 11 1-2 32-17 1-4 14-7 12 0 1 19 14-1 4 1 28 0 1 26-9 6-13 8-2 5-5 13-6 1-5 17-19 17 16 15-6 0-19 7-6 0-1-3-16 6-8 0-16-16-9 6-20 14 2 1-1 10-13-13-16 4-4 4-29 0-6 5-1 20-23 2-5 0-4-1 0-17-7-5-23-1-1 0-16-13-9-4-18-10-6-3-17 1-4-9-13 1-9 36-17 2 1 7-2-8-30-1 0-19-11 3-10 27-10-7-24-29 5-5-3-3-21 7-9 0-1-3-10 8-24-2-2-6 0-68 46-26 19-1 2-3 1-17 13zM266 162l8 15 13 2 2-2 26-6 6-10 0-1-2-15 0-1-8 0-41 16-3 2zM313 565l16 16-5 11 0 1 10 21 0 1-10 9 1 15 3 1 28 1 2-11 12-12 0-1-6-25 1-2-1 0-19-11 3-17-8-14-23 7zM271 690l8 12-14 25 0 1 15 11 1 0 0 1 0-1 8 0 12-10 1-3-12-22 18-14 2-9 0-1-31-12-7 8zM228 780l0 1 31 31 16 10 13-3 5-26-5-10-1 0-5-1-13-17-11-2-1 0-18 14-7 0z"/><path fill="#f22626" d="M285 231l-9 0-21 25-15-34-6 0-6-4-20-1-9-9-11 28 0 1 6 4-13 15-4 9 0 1 21 11 0 2 23 19 8-2 16 14 0 1 3-2 42-7 2 0-8 29 0 1 2 4 0 17 14 13 6 10 0 9-4 33 17 7 9 17 6 3 1 0 18-19 2-8 2-1 13-31-7-6-23 7-23-12 27-31 10-1 0-1 1-5 28-30-9-14 1-8-11-18 0-4 0-1-12-16 4-17 23-2 0-1-8-31-1-1-8-16-8-2-7-10 6-22 0-1-9-12-1 0-21 8-3 5 0 1 2 15-6 11-26 5 0 1-2 2-1 0 4 20 7 9zM134 355l13 9 9-1 16 9 3 1 17-10 0-1-2-10 13-31-1-2-22-12-3 0-16-14-22 30 7 5zM133 416l13-7 0-1-2-8-10-12-17-4-1 0-16 9-1 0 0 3-9 7-12 21-1 3-15 41-3 27 6 25 0 1 0-1 6-17 7-6 6 0 8 5 28-5 0-1 1 0 5-21-25-15-1-17 6-4 7-21zM288 551l10 17 1 0 14-3 5-10 22-6 7 13-2 17 19 12 6-4 4-9-1-28 2-4 0-1-20-13 7-13 4-14 17 0 0-1 1 0 2-32-12-1-15-12-1 0-14 0-9 18-18-1-8 3-6 30-2 2-1 6-10 6zM294 628l3 18 14 4 1 0 14-11-1-15 10-9 0-1-10-22-23 12 2 13zM167 619l10 17-5 8 17 20 0 1 19-11-1-14 23-15-9-29-6-4-22 9-7-2-10 4-9 15zM198 749l30 32 4-3 7 0 19-15 11 2 12-26-16-12-14 0-10 7-18-14-5-1-1 0-18 24z"/><path fill="#dd0707" d="M181 256l14-15 0-1-6-4-1 0zM161 293l15 15 4 0 22 12 0 1-13 31 2 10-16 10-3 0-16-9 0-1-9 1-12-8 12-27-8-5 0-1 0 1-25 40-17 28 2 3 1 0 17-10 17 4 9 12 2 8-12 8-20 1 0 1-7 20-6 5 0 17 0 1 25 14-5 21-28 5-8-4-6 0-7 5 0 1-6 17 3 12 6 12 10 21 21 51 10 18 16 31 4 7 21 27 29 36 13 14 2-6 18-24 4 1 18 15 1 0 11-7 13 0 15-26-9-12 2-14 7-7 1-10 17-13-3-18 10-11-3-13 23-11 0-1 4-11 0-1-16-15 0-1-14 3-10-17 2-27 9-5 0-1 1-5 2-2 7-31 7-2 0-1-3-24 14-10-9-18-17-7 4-32 0-8 1-1-7-11-14-12 0-17-1-5 8-29-3-1-42 7-3 2-15-14-9 1-23-18 0-2-20-12-1 0-4 12zM189 664l-16-20 5-8-11-17 9-16 10-3 7 2 22-9 6 4 9 28-23 15 0 14zM233 222l7 0 15 35 1 0 20-25 9-1 13-23-1-1-6-8-4-20 0-1-13-2-7-14-23 15-21 14-23 15-1 2 9 10 20 1z"/><use href="#mesh" stroke-width="3.6"/><use href="#r1" fill="none" stroke="#a9a9a9" stroke-width="5"/><use href="#r2" fill="none" stroke="#757575" stroke-width="8.5"/><use href="#ol" fill="none" stroke="#2a2a2a" stroke-width="9" stroke-dasharray="22 5"/></g>
<g fill-rule="evenodd" transform="translate(0.0 109.2) scale(.1)"><use href="#ol" fill="#5b12bf"/><path fill="#7a31d2" d="M323 227l-1 0-15-18-10-2 0 1-12 23-9 0-21 25 0 5-18 6-8 29 16 14 0 1 3-2 42-7 3 0 12-38 32 14 0 8 11 14-3 9-29 4 0 1 6 20 1 0 21 10-27 31-10 1-7-11-14-12 0-17-1-5-36-2-5-3-1 0-13 11-1 7-22 23 2 3-18 36-11-3-1 0-19 14 0 1 2 12-11 14 0 1 7 21-6 10 7 18 1 0 23-9 6 4 1 0 20-16 1 0 1-6 7-9-3-14 12-17 9-2 1 0 10-31 17 1 16 32-3 6-9 5 0 1-1 0 0 26 0 1 18 10 9-6 1-16 17-2 1 0 14-10-9-18 14-13 5-2 0-1 2-20 23-7 7 5 0 1 16 4 4-4 9-25 3-2 15-25 1 0 7-5 22-4 14-8-3-17 11-10-5-22 14-13 9 5 5 18 13 9 22-18 6 2 7 11 1 0 24 0 10-21 1 0-1 0 0-1-10-10-16 2-10-21 27-6 1 0-3-12-9-7 0-1-28-6-1 0 2 25-13 15-26-12-13 6-1 0-1 4-30 7-4-1-18 15-5-2-6-19 0-1-28-5-1 0 0 1 0 17 17 13-4 11 14 18-1 5-8 16-17-6-9-14 1-8-11-18 0-4 0-1-12-16-1 0-12 4-20-7 4-15zM250 362l6-19 17 14-5 5zM99 396l14 22 20-2 13-7 0-1-2-8-10-12-17-4-1 0-16 9-1 0zM227 514l0 1 33 3 4 5-10 20 7 10 3 18-16 5 0 1-6 16 16 12 14-10 9 6 20 2 1 1 23-11 9 21 0 1-10 9 1 15-14 11-13-5-1 0-17 14-1 9-7 8-1 14 8 12-14 25 0 1 15 11 1 0 0 1 0-1 8 0 12-10 1-3-12-22 18-14 15 23 4 1 10 11 1 3 17 15 7-1 20 23-7 8 1 24 1 0 15 1 11 12-1 12 0 1 25 3 5 11 16 1 14-13-5-3-22-9-5-21 5-2 12 3 28 1 1-16-22-17 5-25 14 3 9 7 21 2 2 7 31 8 1 0-18-31 5-3 0-1 6-22 15-1 10 12 1 0 23-9 0-1 1-7-9-19-1 0-1-1-16 6-10-8-4-16 17-9 3-13 4-4 0-13 4-5 0-21-15-11-11 10-3 15-9 5 0 20-4 5 1 17-10 8-1 3 1 0 10 15-3 17-28-2-7-6-9-9-10-2-1 0-16 4-6 24 1 17-19 2-11 16 0 1 4 11-4 21-15-1-16-12 15-18 0-1-10-15 7-18-6-10-5-3-6-10-20-6-8-16 9-13-6-14 2-11 12-12 7 2 27-8 2-12 3-2 0-1 1-1 0-1-10-25-26 8-5 9-5 3-19-11 3-17-8-14-23 7-4 10-14 2-10-17 2-27 9-5 0-1 2-5 0-1-1 0-18-22-1 0-23 4-1 1-20-6-6 5zM174 557l5 9 7 34 7 2 22-9 1-16 3-7-14-22 0-1-19-2-12 11zM228 780l0 1 31 31 16 10 13-3 5-26-5-10-1 0-5-1-13-17-11-2-1 0-18 14-7 0zM470 347l11 19 1 0 13-1 6 3 6-1 20-23 2-5 0-4-1 0-17-7-5-23-2-1 0-1-15 3 0 1-14 19zM427 384l3 3 1 0 25-7 0-1-10-24 0-1-17-6-1 0-1 35zM438 427l13 12 1 6 24 11 0-1 6-21-3-7-1 0-9-2-11-16-1 0-16 5zM485 601l0-1-2-8-8-2-19 17 0 16-2 2-21-13-13 16-10-2-9 12-14 1-1 0-11 15 0 1 16 13 11-2 6-5 12 0 9-14 2-8 22-7 8 14 0 1 11-1 18 10 6-3 0-1 6-16-2-5-15-2-8-9zM508 109l6 24 12 8 1 0 6 2 16-13 1-25-1 0-8-5-1 0-31 6 0 1zM621 190l24 6 0-1 10-29-24-4-1 0zM617 307l3 6-2 20 21 7 0 16 0 1 1 0 20 4 1 0 11-26 8-4 1 0 1-2 0-1 2-14 20-19 0-1-1-8 3-8 0-1-5-11-22-14-1 0-4 2 0 1-4 12 0 1 4 13-12 15-6 0-21-18-7 1-4 5zM595 310l-14-12-4 0-3 3-6 23-10 7 0 1 7 14-8 13-2 10-12 7-3 3-1 7 5 8 3 19 26 1 4-9-1 0-6-9-2-20 17-2 1 0 3-3 20 10 0 1 0-1 10-23-7-7-1-10-19-8-2-6zM592 447l1 8-13 22 1 0 13 7 1 0 14-4 2 2 17-4 9 6 16-6 0-1 1 0-4-20 23-5 24 2 7 14-1 13-1 1 12 28 0 1 23 2-3 23-10 8-1 0-1 0-14 5-2 32 30-7 10 5 15-3 2 1 5 6 26 12 0 1 0-1 7-2 1 0 0-1 6-15-5-16 0-1-33 12 20-32 12 4 9-15-1 0-20-16 0-9-1 0-27 4-2 2-18-1-5-23 0-1-3-2 4-24-11-7-2-15 0-1-6-4 0-20-16-6-6-16 0-1-8-1-17 16-9-3 0 1-10 10-13-3-1 0-10 14 0 1 11 16-1 7-9 6-6-1-21-13-3 0zM599 574l14 25-7 6-11-2-10 13 0 1 14 15-24 8 0 1 10 16 11 1 7 17 21-3 2-3-4-19 0-1-15-5-4-11 7-9 18-1 9 15 0 1 19 4 1 0 0-1 0-18 21-16-5-13-1 0-9-3-17 13-9-1-8-8 3-26-3-4-25 0-1 0 0 1zM565 758l9 22 6 2 10-7 23 9 0-1 11-15 8 3 13 21 0 1-15 12 0 1 5 15 5 8 44-17 1-1 0-1-4-3-6-27-9-6 1-34 6-3 1 0 5-10 15-9 5-8 15-1 8-16 0-1-14-13 14-23 8 0 10-8 7-1 1-30-12-11-18 8-10-8-23 7 0 1 0 10 20 14 0 8-15 9-21-11-10 1-4 15 0 1 4 11 10 3 20-8 7 13-8 13-6-1-16 10-17-3-7 17 9 20-30 15-6-5-28 6-1-1zM521 785l1 0 9 21 2 1 20 30 2 0 13-33-13-12 0-10-13-18-3 0-17 21zM476 908l24 2 13 4 3-4 4-21 24-10-1-22-1 0-31 0-3 2-6 14-12 3 0 1-5 24zM732 248l2 10 12 11 4 14 0 1 1 1 13 3 1 0 20-19-5-27-5-2-10-14-26-13-1 0-1 1 0 27zM858 416l11-3 0-14-6-15-18 4-1-1-22 13-1 15-39-6-2 2 0 1 7 18 23 11 1 0 17-12 0-1 21-12z"/><path fill="#a561e1" d="M319 145l2 15 0 1 26 6 6-23 20 4 0-1 10-30-2-6-4 1-17 13-17 6-21 8-3 5zM222 191l1 0 1 2 3 25 0 1 6 3 7 0 15 35 1 0 20-25 9-1 13-23-1-1-7-8-34 13-2-1-2-12 2-14-10-8-21 14zM306 209l1 0 15 19-4 15 0 1 21 6 12-3 13 16-1 4 12 18-1 8 0 1 9 13 17 7 9-16 0-1 1-5-1 0-14-18 4-11-17-13 1-17 27 5 6 19 6 3 1 0 17-16 4 1 31-6 1-5 13-5 26 12 1 0 13-16-2-25-3-4 16-21 0-1-1-12 34-9 1 0-4-16 16-10 0-1-16-33-21 12-1 25-15 12-6-1-12-9-1 0-27 11-2 10 19 12 8 29-6 1-2 0-36 17-7-23 0-1-12-6-5-16 7-7 4-25-2-11-19-9 0-21 0-1-1 0-26 1-15 11 35 15-4 8-3 19-17 2-1 0-15 13 16 23-1 7-31 4-1-1-25 19-9-20-10-2-19 18zM237 267l-21-10-1-2-17-15-4 0-13 16-4 9-4 12-12 16 15 15 4 0 22 12 0 1 1 0 27 16 14-10 4 2 1 0 35 3 2 4 0 17 14 13 6 10 0 1 11-2 27-31 1 0-1 0-21-11-7-19 29-4 1 0 0-1 3-9-11-14-1-8-32-14-1 0-11 38-3-1-42 7-3 2-15-14zM143 400l2 8-12 8-20 1 0 1-7 20-6 5 0 17 0 1 25 14 1 0 2-1 7-27 17-2 11-14 0-1-2-12 18-14 12 3 0-1 19-35 0-1-2-3-1 0-15-5-1 0-16 10-3 0zM300 518l12 10 1 0 28-2 7 6 7 0 7-13 5-14-1 0-9-9-1 0-16-1-5-17 0-1-18-1-8 3-6 30-2 2-1 6zM68 532l6 12 0 1 26-7 2 1 3 13 1 0 29 10 2 4 32-8 2-1 1 0-1 0-22-26 2-19-21-7-9-9-1 0-28 5-8-4-6 0-7 5 0 1-6 17zM258 604l-15-11-22 3-6-4-22 9-7-2-10 4-20-13-16 2-1 35-2 2-11 4-2-1-9 2 16 31 4 7 21 27 29 36 13 14 30 32 4-3 7 0 19-15 11 2 12 17 6 2 16-16 12-3 7-4 18 3 15-21 0-1-17-15-1-2-10-12-4 0-15-24-18 15 12 22-1 3-12 9-8 1-16-11 15-26-9-12 2-14 7-7 1-10-11-12-1-18 0-1-14-8zM294 628l3 18 14 4 1 0 14-11-1-15 10-9 0-1-10-22-23 12 2 13zM287 819l1 0 18 16 0 1 1 0 1-1 25-17 2 0 11 14 23-1 0-1 8-10-5-19 5-4-1-24-29 4-1-2-1 0-24 14-3 10-25-6-1 0-5 25zM539 232l9 22 17-2 10 10-10 20-24 0-1 0-2 20 0 1 4 8 1 0 31-9 3-3 4 0 13 11-4 16 0 1 1 6 20 8 7-8 3-20 0-1-4-5 7-23 4-4 7-1 0-1 0 1 21 18 7 0 11-16-4-14-35 11 11-29 29 6 4-3 22 14 13-22 18 4 1 0 5-7 0-27 1-1 0-5-14-20 26-15 6-16-22-8-4-9-24-11-6 1-19-16-1-5-31-2-11 17 0 4 21 12 4 8-8 17-1 1-1 0-9 29-24-5 10-28-2-3-24-5-13 31 3 5 9 7 0 7-8 23-26 2-3-3-1 0-27 5zM470 348l0-1 6-21 14-19-16-16-5-1 0 1-1 0-11 10 3 17-13 8-22 4-7 5 10 13 17 7 1 0 13-7zM579 699l0 1 0 7-24 9 0 1 0 14-3 4-3 22-7 7 13 18-1 10 13 12-12 32 0 1 12 3 1 0 28-20 13 12 0 20 1 0 9 3 13 31 1 0 0 1 5-1 19-23 13 4 19-5 2-4 20-13 0-1 1 0 3-10 27 0 0-26 6-9 0-1-15-14-19 2-12-27 7-20 12-9-2-15 22 0 6-18-10-9 0-1 25-21 9 8-10 23-1 0 1 0 0 1 13 14 23-23 0-1-11-15 8-15-1-5 17-19-1-7 17-15 0-1-2-7 14-21-5-7 0-18 31 3 7-6 3 2 23 0 1 0-1-34 3-4 1 0-1 0-13-19-15 1-7 6-19-2-12 18-12-3-7-19-2-2-20 0-6-16 15-19 2-1 10 7 23-1 8 7 9-1 3-2 9-27-1 0-6-4-22-3-9-10-17 11-24-10-7-18 3-2 38 6 1 0 1-16-16-18-18 12-12-17 1-8 0-1-1 0-21-14-7 5-28-4-3-24 7-10 0-1-7-16 33-18 0-1-1-2-42-7-2 1-1 0-3 9 1 8-19 19-1 0-1 15-2 3-9 3-11 26-20-4-8 5 2 27 1 1 20-2 0-1 11-15 11 3 1 0 0-1 16-17 20 5-1 16 17 14 0 13-11 8 0 20 6 5 17-5 13 6 4 16-21 5-5 24 3 3 5 23 0 1 19 1 3-3 26-3 1 8 0 1 20 15-8 14-12-3-1 0-20 32 0 1 1 0 33-12 4 16-6 15-7 3-26-12-5-7-2-1-15 4-10-5-30 6 0 1-1 1-13-3-1 0-19 16 6 13-21 15-1 0 0 1 0 18 3 3 10-1 21 11 16-8-1-9-20-14 1-10 22-7 10 7 1 0 17-8 12 11 17-3 12 12-3 10-21 12-6-2-7 1 0 1-11 7-7 0 0 1-15 23 15 14-9 15-15 2-5 8-14 8-1 0-5 11-6 2 0 1-2 34 0 1 9 5 7 27 3 3 0 2-44 17-4-8-5-15 14-13 1 0 0-1-13-22-1 0-8-2-11 15-23-9-10 7-5-2-10-21 21-6 1 0 28-6 6 6 1 0 29-15 0-1-8-20 6-17-1-3-17-8-7-16 0-1-21 3-2 3 1 15zM453 761l1 0 22 18 7-6 17-3 13 14 1 0 0 1 8 0 17-20 0-1-2-1 0-1-1 0-31-7-2-7-21-2-9-8-14-2-1 0zM386 765l16 13 15 1 1 0 0-1 4-21-1 0-4-12-16 1zM429 791l5 22 1 0 22 9 5 3 0 1 0-1 13-1 5 5 0 1 25-6 0-1 3-3 0-1-7-24-25 1-1-2-28-1-12-4zM354 885l1 0 36 13 47 7 0-1-4-16-1 0-24-4-4-7 7-19 0-1-12-13-19 3-14 20-3 1zM516 910l13 8 15 5 1 0 6-2 1 0 0-1-8-41 0-1-1 0-24 10-4 22zM591 75l30 5 1 1 23 6 8-5 0-1 1 0-1 0-28-12-33-6zM662 528l26 9 6-13-8-13-1 0-20 1 0 1zM603 633l4 11 15 6 16-11 0-1-9-15 0-1-19 1zM608 905l3 18-3 5 3 12 0 1 1 0 42 9-2-11 2-5 0-1-33-38 0-1-9 3zM764 287l0 1 4 7-4 18-19 10 0 1 14 22 18-9 14 13 0 1 21-18 0-4-17-11-1-9 14-17-6-15 0-1-17-7-1 0zM815 688l0 1 18 13 17 10 14-12 22 0 1 0 4-3 4-32-1 0-39 3-2-1-1-1-23-6-7 4zM795 735l0 1 12 24 1 4 9 6 7 2 23-14 1-5 0-1-6-14-2 0-26-13-11 3 0 1z"/><path fill="#c78def" d="M421 146l2-19 4-8-34-15 14-11 26 0 0 21 20 9 2 11-5 25-7 6 0 1 6 16 12 7 6 23 37-17 2 1 7-2-8-30-1 0-19-11 3-10 27-10-7-24-29 5-5-3-3-21 7-9 0-1-3-10 8-24-2-2-6 0-68 46-26 19-1 2 2 6-9 30-20-4-1 0 0 1-6 22-25-6-2-15 0-1-8 0-41 16-3 2-23 15 10 8-2 14 1 13 3 1 34-14 7 9 10 2 0-1 19-18 9 2 10 21 25-19 1 1 31-5 1-7-15-23 15-13zM215 257l22 10 18-5 1-5 0-1-16-34-6 0-6-4-20-1-9-9-11 28-7 20 14-15 3 0 17 15zM175 373l17-10 15 4 1 0 21-23 2-7-1 0-27-16-1-2-22-12-3 0-16-14-22 30-25 40-17 28 2 3 1 0 17-10 17 4 9 12 1 0 28-28zM106 439l7-21-13-22-1 0-9 7-12 21-1 3-15 41-3 27 6 25 0 1 0-1 6-17 7-6 6 0 8 5 28-5 9 9 22 6-3 19 23 26-2 1-32 7-2-3-29-10-4-13-1-1-1 0-26 6 10 21 21 51 10 18 0 1 9-2 2 1 12-4 0-1 2-2 0-34 16-2 20 12 10-3-6-34 0-1-5-8 11-11 19 2 6-6 21-3 0-1-5-23 0-1 5-20 7-5 19 6 0-1 2-1 3-22 5-6 1-26 0-1-9 0-23-13-9 2-1 0-12 17 3 14-7 8-1 7-21 15-5-4-1 0-23 9-7-17 5-10 1 0-7-22-17 2-1 0-7 27-2 1-24-14-1-17zM287 784l5 9 26 7 1 0 3-11 23-13 2 1 29-4 6-8-20-24-7 1-15 22-18-4-7 5-12 2 0 1-1 0-15 15zM411 858l-7 19 0 1 5 7 24 3 12-15 14 6 17-10 14 8 13-3 5-15 3-2 31 0 1 22 1 1 27 3 3 20-23 17 0 1 5 5 56 15 0-1-3-12 3-5-4-18 5-7 8-3 32 39-1 5 2 11 21 5 54 0 2-3-5-19-28 3-8-19 6-14-3-5 5-24 0-1-9-11 0-1-19 5-13-4 0 1-19 22-5 1-14-31 0-1-9-2 0-21-14-12-29 20-12-3-2 0-19-29-3-1-24 13-2 4-25 6-5-5-13 1-14 12-16 0-4-11 0-1-25-3 1-12-12-12-15-1-1 0-4 4-1 0 1 0 4 19-7 10-22 1-12-13-2 0-25 17-1 0-19-17-13 4-2 4 15 14 38 29 18 12 11 4 10-17 2-1 14-20 19-2zM502 81l7 26 31-7 1 0-7-22-1 0-27-1-1 0-3 3zM651 107l-5-20 0-1-1 0-23-6 0-1-1 0-30-4-12 8-2 0-1 0-6 10 16 33-16 11-1 0 4 15 0 1-35 8 1 13-15 22 2 4 1 0 28 7 8 7 3 12 4 4 26-2 1 0 8-24 0-7-1 0-9-7-3-5 13-30 24 4 1 3 1 0 24 5 0-1 2 0 7-18-3-8-22-12 0-4 11-17zM634 278l1 0 0 1 35-11 5-13 0-1-29-6zM707 129l24 11 4 10 21 7-6 16-25 15 0 1 13 19 0 5 27 13 8-29 1-1 1 0 9-33-3-12 27-6 4-4 1 0 1-5-34-6-21-7-16-6-24-8zM701 266l4 12 1 0 2-1 42 7 0-1-4-14 0-1-11-10-2-10-1 0-18-5zM718 304l-1 0 1 1 6 15-7 11 3 24 29 5 7-6 3-8-13-22 19-10 4-19-4-8-1 0-13-2zM794 309l0 9 1 0 16 11 0 3-20 18 3 10-17 8 0 1-1 8 1 0 12 18 18-12 15 17 0 1 1 0 0-1 21-12 1 0 18-3 6 14 0 14-11 3-10-1-20 13 0 1 8 11 1 0 22 3 6 3-9 27-2 2-9 1-8-7-23 0-9-7-1 0-2 1-15 20-1 0 7 17 20 0 1 1 7 19 1 0 12 4 12-19 19 3 1 0 6-7 15 0 13 18 12 1 10 16 17 2 6 23-23 19-4-1-7-17-14-5-23-1-3-2-7 6-32-2 1 19 5 6-15 20 0 1 2 7-16 16 1 7-18 18 1 6-8 14 0 1 11 16-22 22-13-14 11-23-10-9-1 0-24 21-1 0 0 2 10 9-6 17-22 0 0 1 2 15 20 10 0 7-6 8 3 14-4 15 0 1 15 14-6 9-1 25-26 0-1 0-3 11 20 26-4 6 0 1 2 11 31 6 5 12 21 0 8 19 14 1 0-1 17-11 3-1 1 0 5-22-3-6-6-4-29 4-10-14 20-18 11 4 1 0 15-17 9 3 17-21 0-5-26-11 4-13-13-22-7-2-9-6-1-4-11-23 8-7 10-3 26 12 0 1 2 0 11-19-3-8-16-11-18-13 6-23 7-5-2-13 19-24 8 0 2-33 31 2 8 6-1 6-5 5-29 16 0 1 29 27 7 11 8-2 23 16 6 10-19 20-1 0 1 0 18 19 0 3 0 1 1 0 16 13 1 0 29-21 0-1-27-22-1-4 13-16-1-17 0-1-10-6-14-25 1-2 37 6 11-11-7-20-13-6-2-7 3-18 31-7 5-3-2-8-8-10-23-3-9-14 10-21-5-7 3-23-4-9-19-5-5-7 2-11 21-9 5-12 0-1-1 0-7-6 2-21-21-11-8 3-4-1-12-16-10-6-1 0-16 5-12-4-1-15-19-22 3-10 18-8 24 9 3 0 10 8 0 1 10 1 1 0 20-15-14-29-3-2-17 13-24-25-13 11-18-4-12 15 3 13-24 7-6-19-14-3-1 0zM746 647l1 0 6 1 22-12 2-10-11-13-1 0-17 4zM810 207l1 0 12 7 0 31 11 5 27-22 7 14 32-10 0-1-21-28-1-20-17-22-6 0-12 12-18-1-14 19zM1064 357l4 16 0 1 17 11-10 19 2 4 31 11 1 0 0-1 0-43 0-13 0-1-1 0-1 1-15-14-1 0z"/><path fill="#dcaef6" d="M540 100l9 5 21-11 0-1 7-9 2-1 12-8 1-12-42-7-27-9-14-1-1 1-26-1-8 24 0 1 3 10-7 9 3 21 6 3 29-5 2-2-7-26 3-4 27 1zM645 87l5 20 30 3 2 4 19 17 6-2 12-20-9-3-57-25-8 5zM860 144l-46-8-1 0-1 4-4 4-27 6 2 13-9 33-1 0-8 30 9 15 1 0 4 1 5 27 17 8 6 15 1 0 13 3 7 20 25-7 0-1-3-13 11-15 18 4 13-10 24 25 17-14 2 2 14 29-20 14-10-1-9-9-1 0-3 0-24-9-1 0-17 9-4 10 19 22 2 15 12 5 17-5 10 6 11 15 1 0 4 2 8-3 21 10-2 21 7 7-5 11-21 10-2 11 5 7 1 0 19 5 4 9-3 23 0 1 4 6-9 21 8 14 23 3 9 10 2 7-5 4-31 7-1 0-2 18 2 7 13 6 6 20-10 10-37-5-1 2-1 0 15 25 9 7 1 17-13 16 2 4 26 22-29 22-16-14 0-3-19-19 19-20-5-10-24-17-8 2-6-11-29-27 29-16 5-5 1-6-1 0-7-6-1 0-31-3-1 0 0 1-1 32-8 1-1 0-19 23 0 1 2 13 1 0 22 7 1 1 1 0 2 1 39-3-4 30-4 3-22 0-14 13 2 8-11 18 0 1 7 14-1 5-23 13 0 1 12 21-4 14 26 11 1 4-18 20-8-3-1 0 0 1-15 16-11-3-21 18 0 1 10 13 1 0 29-3 6 3 2 6-5 21-3 1-17 12-14 0-8-19 0-1-21 1-4-12-1 0-31-6-1-11 3-7-20-26-21 14-2 4 10 12-5 24 3 5-7 13 0 1 8 20 1 0 28-3 4 18 10 3 10 0 38-9 22-6 24-11 1 0 2-5 5 2 18-8 11-10 4-6 1 1 14-14 10-9 19-20 19-20 4-5 22-30 11-15 31-54 13-18 11-18 31-70 14-29 0-4 3-2 2-5 15-50 2-10 6-30 5-56 1-26-32-11-2-3 11-19 0-1-17-11-4-15 26-9 16 13 1 0 1 0-3-52-1-3 1-1-1-13-10-26-5-10-18-14-23-16-34-15-1 0-38-17-1 1-3-3-32-16-15-7-26-11zM843 173l12-11 6 0 16 22 1 19 22 28-31 11-7-15-1 0-1 0-26 22-10-5 0-30-13-7 0-16 15-19zM199 208l9 10 20 1 0-1-4-25-1-2-23 15zM701 760l13 26 19-1 5-16-3-14 6-8 0-8-20-9-1 0-12 9-7 20zM433 888l5 16 0 1 38 3 9-6 0-1 5-24 0-1-14-7-17 9-14-5zM544 879l8 41 23-16 0-1-4-21zM896 523l1 34 14 5 7 18 4 1 24-20-7-23-17-3-10-15-12-2-4 4z"/><use href="#mesh" stroke-width="2.8"/><use href="#r1" fill="none" stroke="#d9d2de" stroke-width="5"/><use href="#r2" fill="none" stroke="#9b9b93" stroke-width="10.5"/><use href="#ol" fill="none" stroke="#2a2a2a" stroke-width="9" stroke-dasharray="22 5"/></g>
<g fill-rule="evenodd" transform="translate(176.50 109.05) scale(.1012 .1006)"><use href="#ol" fill="#a9a9f8"/><path fill="#d3d3fd" d="M307 376l-7-11-14-13-13 5-5 5-18 0-1 0-2 1-8 23-15-2-15-14-18 36 0 1 5 3-1 28 20 6 3 14-7 8-1 7-21 15-5-4-1 0-24 9-4 16-4 3-3 19 23 26 3 0 12-11 19 2 14 22-3 6 0 1-1 16 6 4 9 28-23 15 0 14 20 19 1 0 11-7 1 0 5-14 25-5-1-18 10-4 15 4 3 16-17 14-1 9-7 8-1 14 8 12 11 3 18-15 15 23 4 1 10 11 1 3 17 15 7-1 0-1 1 0 4-6 0-19 0-1-9-5-5-11 8-15-8-16 9-13 13 0 16 13 11-2 7 23 0 1 13 1 1 7-6 20 0 1 11 11 20-3-1-17 5-23 17-5-8-33 0-3 11 0 18 10 6-3 20 14 10-8 12 3 18-9 3-13 4-4 0-13 4-5 19-1 9-13 12 1 7-6 0-1-15-24-13 8-16-16 22-17-3-6-1-14 8-9 2-8 17-8 20-6 2-15-9-5-17 3-2-1-14 3-14-6 13-21 0-1-1-8 8-8-4-14-1 0-22-9-6 27-2 1-22-11 0-17-20-2-4-13 2-4 18-11 1-7-34-13-6 2-5-3-1 0-13 1-1 0-3 3-21 10-1 0-10-24 0-1-17-6-11-13-2 0-15 24-3 3-37-13-7-7-10 2-27 31 23 13-3 20-4 3-14 13-17-7 4-32 0-8zM65 520l0 1 0-1 6-17 7-6 6 0 8 5 28-5 0-1 1 0 5-21-25-15-1-17-17-7-4-12-1 0-1 3-15 41-3 27zM524 701l3-17 0-1-1 0-10-14-27 25-1-1-32 39 3 4 14 3 25-19-3-21z"/><path fill="#7373f0" d="M427 119l-34-15 14-11 1 0-1-3-26 19-1 2-3 1-17 13-17 6-21 8-3 5-8 0-41 16-3 2-23 15-21 14-23 15-1 2 9 10 20 1 5 3 7 0 15 35 1 0 20-25 9-1 12-23 10 2 15 18-4 15-14 14-1 2 0 1 1 4 1 0 32 14 2-1 24-10 1 0 0-4 0-1-12-16 4-17 23-2 3 6 0 17 17 13 17-6 6 3 8 14 5 3 5 18 1 0 17 6 11-10-5-22 14-13 9 5 5 18 13 9-1 16-15 2 0 1-14 19-5 21 11 19 1 0 13-1 6 3 6-1 33 13-1 6-17 11-3 4 4 14 1 0 20 2 3-4 26 1 1 3 22 9 4 13 3 0 21 14-17 14 1 13 1 0 2 2 17-4 8 5-2 15 9 8-8 21 1 1 1 0 22 2 0 19 5 7 6 3 10 0 0-1 10-13 17 5-1 31-1 1-13-3-1 0-19 16 6 13 7 6 23-7 10 7-13 24 0 8-15 9-1 11 7 14-8 13-6-1-16 10-17-3-7 17 9 20-30 15 0 1 3 16-11 15-23-9-10 7 0 1-1 17 17 12 0 8-29 20-12-3-2 0-19-29-3-1-24 13-2 4 10 12-4 22-3 2-6 14-12 3-14-7-17 9-14-5-3-7 9-13-2-15 13-13-5-3-22-9-7 12-26-3-2 22-19 3-14 20-3 1-10 17 1 0 36 13 47 7 38 3 24 2 13 4 3-3 13 7 15 5 1 0 6-2 5 5 56 15 42 9 21 5 54 0 2-3-5-18 5-11 25-3 9-14-4-12-1 0-31-6-1-11 3-7 16-10 19 16 19-4 1 0 20-19-12-23-1-1-9-19-1 0-9-7-5-8 4-11 21-9 14-11-1-4 33-21 2 0 11-19-3-8-16-11-18-13 6-23 7-5-2-13 19-24-20-12-1 0-16 16-18-10 3-22-26-12-5-7-2 0-1-32 0-1-25-7 3-23 4-3 0-1-5-23 0-1-3-2-31-2 2-13 0-1-8-13 4-17-14-13-7-1-8 7-15-1-4-17-13-3-5-20-1-1-1-27-14-3-10 23-19-11 1-7-11-16-15-1-6-14 10-8 5-22 3-3 1 0 0-1-13-16-24 0-8-11-6-2-12-14 1-14 0-1-27-12-13 6-9-13 1-9-7-23 0-1-12-6-5-16 0-1-1 0-7-2-15-17 2-19zM685 512l8 12-5 12-25-9 3-14zM181 256l14-15 0-1-6-4-1 0zM769 572l0 1 1 0 33-12 3-9-4-9-12-3-1 0z"/><path fill="#4545e8" d="M570 93l7-9 2-1 12-8 1-12-42-7-27-9-14-1-1 1-26-1-1-2-6 0-68 46-1 0 1 3-15 11 35 15-4 8-3 19 16 18 7 2 6 16 12 7 6 23-1 9 9 13 1 0 0 1 0-1 13-5 26 12 0 14 12 15 6 2 7 11 1 0 24 0 12 15-3 3-6 23-10 7 0 1 7 14 15 1 10 16-1 7 0 1 20 10 0 1 0-1 10-22 13 2 2 27 1 1 4 21 1 0 13 2 4 17 15 2 1 0 7-7 7 0 13 13-3 17 7 14-1 13 0 1 30 1 3 3 5 23-4 4-3 23 0 1 26 7 1 32 2 1 5 6 26 12-3 22 0 1 18 9 17-15 19 11-19 23 0 1 2 13-6 4-7 24 0 1 18 13 17 10 2 8-10 18-2 0-33 21 0 1 1 4-14 11-22 8-4 12 5 8 1 0 9 7 9 20 2 0 12 23-21 18-19 5-19-17-16 11-4 6 0 1 2 11 31 6 5 12-10 14-24 2 0 1-1 0-4 10-1 0 0 1 5 18 10 3 10 0 38-9 22-6 24-11 1 0 2-5 5 2 18-8 11-10 4-6 1 1 14-14 10-9 19-20 19-20 4-5 22-30 11-15 31-54 13-18 11-18 31-70 14-29 0-4-26-6-1-5-28-13-7 25 6 11 21 7 8 16-4 7-13 7-24-7-5-10-14-5-7-20-13-6-2-7 3-18-5-9-18-3-7-23-17-3-10-15-12-2-13-18-15 1-18-26-9 1-8-7-23 0-9-6 6-22 0-1-24-10-7-18 3-2 38 6 1 0 1-16-16-18 3-13 11-7-9-30-1 0-20 18 3 10-17 8-21-14 3-8 18-9 3-6-15-18-20 10-2-1-19-2-6-16 33-18 0-1-1-2-42-7-2 1-5-11-22-14-1 0-3 2-29-6-5-15-1 0-35 14-8-19 8-24 0-7 16-7 10-28-2-3-24-5-2-4-30 2 0 1-34 8-5-18 15-13 1-25 20-11zM803 560l-33 12 20-32 12 4 4 8zM463 268l0 1 5 22 1 0 5 1 15 15 15-3 1 0 0-16-13-9-4-18-10-6zM828 429l8 11 1 0 22 3 6 3 22-6 3-11 0-1-21-15 0-1-11 4-10-1-20 13z"/><path fill="#1414dc" d="M592 63l-1 12-12 8-2 0-1 0-6 10-21 12-1 25-15 12 0 1 5 18 0 1 1 0 34-9 1 0 29-2 2 3 0 1 24 4 1 3-9 28-17 7 0 7-8 24 9 19 0 1 35-14 6 15 29 6 4-3 22 14 4 12 1 0 2-1 42 7 1 1-33 19-1 0 1 1 6 16 19 1 2 2 20-10 14 17-2 5-18 9 0 1-3 8 21 15 17-8 1 0 0-1-4-10 20-17 10 29-11 7-1 0-2 13 15 18-1 15-39-6-2 2 0 1 7 18 23 11-6 22 10 7 23-1 8 7 9-1 18 26 15 0 13 18 12 1 10 16 17 2 7 23 18 4 4 8-2 18 2 7 13 6 6 20 1 0 14 6 5 9 24 7 13-6 0-1 5-7-8-17-1 0-20-7-6-10 6-24 27 12 2 5 0 1 26 5 3-2 2-5 15-50 2-10 6-30 5-56 1-26 0-43 0-13-3-52-1-3 1-1-1-13-10-26-5-10-18-14-23-16-34-15-1 0-38-17-1 1-3-3-32-16-15-7-26-11-39-15-46-8-34-6-21-7-16-6-24-8-9-3-57-25-28-12zM858 416l11-3 20 16-2 10-22 7-6-4-22-3-9-10 0-1 21-12z"/><use href="#mesh" stroke-width="3.6"/><use href="#r1" fill="none" stroke="#a9a9a9" stroke-width="5"/><use href="#r2" fill="none" stroke="#757575" stroke-width="8.5"/><use href="#ol" fill="none" stroke="#2a2a2a" stroke-width="9" stroke-dasharray="22 5"/></g>
<g fill-rule="evenodd" transform="translate(340.40 109.05) scale(.1012 .1006)"><use href="#ol" fill="#e3e3e3"/><path fill="#dd0707" d="M427 383l0 1 3 3 1 0 25-7 0-1-10-24 0-1-17-6-1 0zM383 505l5 4-1 14 1 9 1 0 19-4 9-11 0-12-3-2-10-30-10-5-8 4-1 0-2 32zM207 640l0 14-18 10-4 5-15 3 0 23-13 4-1 0 29 36 13 14 30 32 31 31 15 10-1 4 15 14 38 29 18 12 11 4 10-17 2-1 14-20-12-17-22 1-12-13-2 0-25 17-1 0-19-17 5-25 25 7 1 0 3-11 23-13 2 1 28-4 1 24 1 0 15 1 11 12-1 12 0 1 25 3 5 11 16 1 2 15-9 13 3 7-11 15 5 16 0 1 38 3 24 2 13 4 3-3 13 7 15 5 1 0 6-2 1 0 0-1-8-41-1-22 10-20-19-30 21-15 0-10-13-18-3 0-17 21-8-1-1 0-12 11 6 24-2 4 10 12-4 22-3 2-6 14-12 3-14-7-2-15 7-21 0-4-6-5-13 1-5-3-22-9-5-21 5-2 12 3 28 1 1-16-22-17 5-25-2-4-9-5-1 0-19 2-10-11-1 0-19-5-6-10-5-3-6-10-20-6-8 15-17 1-9 13 0 1 10 11 1 3 17 14-15 22-18-4-2-15-1 0-17-16 0-3-12-22 18-14 2-9 0-1-30-12 1-9-11-12-1-18 0-1-14-8-15 8-10-3zM248 700l1 0 22-10 8 12-14 25-14 0-10 7-18-14 13-27zM501 368l1 6-5 29-3 3 0 1 12 16-10 13-14-2-3-6 11-21-6-5-21-2-6 9-16 5-3 13 13 12 1 6-11 15 4 11 14 6 3 8 1 0 22 3 3 16-6 6 0 1-1 19 1 0 6 3 9 20 12 4 12-15 20 4 6-17 15-4 0-1 1 0 2-3 23 8 8-9 2-8 17-8 20-6 2-15-9-5-17 3-2-1-1-13 16-14 6 0 9-5 1 0 1-8-11-17 10-13 0-1-5-20-1-1-19 4-6-11-19-11 1-7-11-16 12-14-2-7-21-2-1 0-10 7-15-8-15 12 0 4-1 4-20 23zM564 515l-14-9 4-18 16 1 3 12z"/><path fill="#f22626" d="M440 244l-18 15-6-2-17 6-4 11 14 18-1 5-8 16 0 1 9 15 0 1 7 5 2 0 7-5 22-4 11 21-13 7 0 1 10 24-24 8-1 0-1 12-15 8-3 18-10 4-1 0 0 1-2 17-3 4-2 17 1 1 10 4 10 30 3 2-1 12-8 10-20 5-4 10 21 15-5 13-1 0 1 0 9 26 1 0 18-17 14 1 8-6 20 10 5 6 7 2 1 0 6-4 14-5 12 8 6-2 10-16 20 3 6-11-3-9 10-11-1-21-1 0-15 4-6 17-20-4-12 15-11-4-9-19-7-3 0-19 7-6 0-1-3-16-1 0-22-4-4-7-13-6-4-11 11-15-1-7-14-11 3-13 16-4 1 0 5-9 20 2 6 4-11 20 0 1 3 6 0 1 15 2 1-1 10-13-13-16 4-4 4-29 0-6 5-1 20-23 2-5 0-3 14-12 15 8 1 0 10-8 21 3 1 6-11 14 10 16-1 7 0 1 20 10 5 11 1 0 19-4-1-27 7-4 20 4 1 0 11-26 8-4 1 0 1-2 0-1 2-14 0-1-21-16 11-16-4-14-35 11 11-29 0-1-5-15-1 0-35 14-8-19 8-24 0-7-1 0-9-7-3-5 13-31-1-4-1-16-5-7 7-15-26-29 12-8 1-12-42-7-27-9-14-1-1 1-26-1-8 24 0 1 3 10-7 9 3 21-20 12 2 11-5 25-7 6 0 1 6 16 12 7 6 23-1 9 9 13-1 4-30 7zM354 343l0-1 1-5 28-30-9-14 1-8-11-19-1 0-25 10-1 2 0 8 11 14-3 9-29 4-8-6-15-5-9 29 0 1 2 4 0 16-13 5-5 5-2 32-1 0 0 1 16 32 1 0 20-9 4-33 0-8 1 0 10-2 27-31zM297 454l-1 0-18-21-9 5 0 1-1 0 0 26-6 6-3 22 1 0 22-3 19 22 2-2 7-31-15-9zM268 628l0 1 1 18 11 12-1 9 0 1 30 12-1 8-18 15 12 22-1 3 18 17 3 14 0 1 18 3 15-21 0-1-17-15-1-2-9-12 9-12 16-2 8-15-8-16 9-13-6-14-28-1-2-1-1 0-14 11-13-5-3-17-1 0-15-3zM131 665l4 7 21 27 1 0 0 1 0-1 13-4 1 0 0-23 14-2 4-6-16-20-14 7-1 0 0 16-12 8-14-10zM222 720l18 15 1 0 11-7 13 0 15-26-9-12-22 9-13-7zM287 819l1 0 18 16 0 1 1 0 1-1 25-17 2 0 11 14 23-1 12 16-14 20-3 1-10 17 1 0 36 13 47 7 0-1-4-16 11-15-3-7 9-13-2-16-1 0-16 0-4-11 0-1-25-3 1-12-12-12-15-1-1-24-29 4-1-2-1 0-24 14-3 10-25-6-1 0-5 25zM514 784l-14-14-17 3-7 5-1 16-28-1-12-4-6 2 5 22 1 0 22 9 5 3 0 1 0-1 13-1 5 5 0 4-6 21 2 15 14 8 13-3 5-15 3-2 5-22-11-12 3-3 0-1-7-24zM549 506l15 10 1 0 9-15-4-12-16-2-1 0 0 1zM588 529l0 15 3 5-21 17-1 0 0 1 17 16 1 0 12-9 5-7 23-1 1 1 3 3 1 0 7 1 22 15 2 6 9 3 1 0 19-16 13 3 1-1 2-32-18-4-2-8 6-13-8-13-1 0-20 1-5-9 5-17 11-4 17 3 9-2 12 27 0 1 23 2 5-3 0-1-5-23 0-1-3-2 4-24-11-7-2-15 0-1-6-5-18 6-14-13-7-1-8 7-15-1-4-17 10-10 9 3 1 0 16-17-11-15-1 0-11-3-1 0 0 1-10 15-20 2 0 1 4 20-10 14 0 1 11 16-1 7-9 6-6-1 0 1-17 14 1 13 1 0 2 2 17-4 8 5-2 15-18 6-1 0 0-1 0 1-18 7 0 1-1 8z"/><path fill="#f95e5e" d="M322 139l-3 5-8 0-41 16-3 2-23 15-21 14-23 15-1 2-11 28-7 20-4 9 0 1 21 11 0 2 23 19 8-2 16 14 0 1 3-2 42-7 3 0 14 5 9 7 29-4 1 0 0-1 3-9-11-14-1-8 2-1 24-10 12 18-1 8 0 1 9 13-28 30-1 0 0 5-10 2-27 31-11 1 0 9-4 32-21 10-3 6 0 1 18 20-2 16 15 9-6 30-2 2-1 6 0 1 12 10 1 0 28-2 7 6 7 0 7-13 4-14 17 0 0-1 1 0 2-32 8-3 0-1 2-16 2-5 3-17 11-5 3-18 14-8 1 0 1-12-3-4 1-34 16 6 1 0 13-7 0-1-11-21-1 0-22 4-7 5-1 0-8-6-9-16 9-15 0-1 1-5-1 0-14-18 4-11 17-6 6 3 1 0 17-16 4 1 31-6 1-5-9-13 1-9-7-23 0-1-12-6-5-16 7-7 4-25-2-11-19-9 0-21 0-1-1 0-25 1-1-3-26 19-1 2-3 1-17 13-17 6zM531 573l-10 15-6 2-12-8-15 5-6 5-7-2-5-6-20-10-1 0-7 5-14 0-19 16 0 2-3 3-3 12 7 14 10 3 13-16 21 13 1 0 1-2 21-3 8 8 15 3 0-1 5-14 10-6 14 6 9-5 3-16 11-10 15 11-1 21-3 5-1 13 1 0 12 5 24-9 4 1 7-9 18-1 9 15 0 1 19 4 1 0 0-1 0-18 21-16 7 6 23-7 10 7 1 0 17-8 10-27 15-3-1-32 8-10 14 0 8-21 0-9 3-4 0-1 1 0-1 0-6-16 15-19 2-1 1 0 6-22 0-1-24-10-7-18 3-2 6-16-12-17 1-8 0-1-1 0-21-14 3-8-14-23-2-1-19-2-6-16 33-18 0-1-1-2-42-7-2 1-5-11-22-14 3-14 0-1-7-7-26-7 3-20-7-8-24-5 10-28-2-3 7-27 3-4 0-4 11-17 1 0-5-20 7-5 0-1 1 0-1 0-28-12-33-6-1 12-12 8 25 29-7 15 6 7 0 16 1 4-12 31 3 5 9 7 0 7-8 24 9 19 0 1 35-14 6 15-12 29 1 0 0 1 35-11 4 13-12 15 0 1 21 17-1 14-2 3-9 3-11 26-20-4-8 5 2 27 1 1 20-2 0-1 11-15 11 3 12 14-17 16-9-3 0 1-10 10 4 17 15 2 1 0 7-7 7 0 13 13 1 0 18-5 6 5 1 15 0 1 1 0 11 6-5 24 3 3 5 23-4 3-23-2-12-28-9 3-17-3-11 3-5 18 5 10 20-1 8 12-5 13 1 8 1 0 17 5-1 31-1 1-13-3-1 0-19 16-8-3-3-6-22-16-7 0-3-4-25 0-1 0 0 1-4 7-13 8-16-16 22-17-3-6-1-14-23-9-3 4 1 21-9 10 0 1 2 9-5 10zM533 807l20 30-11 20 1 22 1 0 8 41-1 0 0 1 5 5 56 15 42 9 21 5 54 0 2-3-5-19-28 3-8-19 6-14-3-5 5-24 0-1-9-11 2-4 20-13 0-1 1 0 3-10 0-1-12-21-2-2-1 0-15 0-4-3-15-1-21-13-14 12-17-11-1-11-23-9-10 7 0 1-1 17-11 4-13-11-1 0z"/><path fill="#fb9a9e" d="M161 293l15 15 4 0 22 12 0 1-13 31 2 10 0 1 16 4 2 3-18 36 0 1 5 3-1 28 20 6 3 14-7 8-1 7 6 16 15 5-4 20-1 1 5 23-20 4-6 5 0 1 14 22-3 6 0 1-1 16 6 4 9 28 0 1 10 2 15-7 13 8 11-4 15 4 3 17 14 4 1 0 14-11 2 1 28 1 5 14 14 0 12-16-10-19 27-8 2-12 3-2 0-1 1-1 0-1-10-25 6-13 0-1-21-14 4-10-1-9 1-14-6-5-17 1-4 14-7 12-7 0-7-5-28 2-13-11 2-5 0-1-1 0-18-22-1 0-22 4 3-22 5-6 1-26 9-5 1 0 3-7-16-32 0-1 2-32 6-5 12-4 0-17-1-5 8-29-3-1-42 7-3 2-15-14-9 1-23-18 0-2-20-12-1 0-4 12zM407 90l-1 0 1 3 26 0 0 21 20 9 20-12 1 0-3-21 7-9 0-1-3-10 8-24-2-2-6 0zM559 640l4-4 0-13 4-5 0-21-15-11-11 10-3 15-9 5-13-6-1 0-10 6-1 0-5 15 2 5-5 16 0 1 20 14 10-8 0-1-1-17 4-4z"/><path fill="#fdd0d0" d="M97 391l2 3 0 2-9 7-12 21-1 3-15 41-3 27 6 25 3 12 6 12 10 21 21 51 10 18 16 31 14 11 1 0 12-9 1-16 14-6 16 19 0 1 19-11-1-14 23-15-9-29-6-4 1-15 3-7-14-22 6-6 21-3 0-1-5-23 0-1 5-21-16-5-5-15 1-6 7-9-3-14-1 0-19-6 0-28 0-1-5-3 19-35 0-1-2-3-1 0-15-5-2-10 13-31-1-2-22-12-3 0-16-14-22 30-25 40zM806 853l-12-23-1-1-9-19-1 0-9-7-5-8-1 0-20 3-6 10-1 25-26 0-1 0-3 11-21 14-2 4 10 12-5 24 3 5-7 13 0 1 8 20 1 0 28-3 4 18 10 3 10 0 38-9-2-8 9-13-9-19 6-8 4-13-10-14z"/><use href="#mesh" stroke-width="3.6"/><use href="#r1" fill="none" stroke="#a9a9a9" stroke-width="5"/><use href="#r2" fill="none" stroke="#757575" stroke-width="8.5"/><use href="#ol" fill="none" stroke="#2a2a2a" stroke-width="9" stroke-dasharray="22 5"/></g>
<g fill-rule="evenodd" transform="translate(0.0 218.4) scale(.1)"><use href="#ol" fill="#7a31d2"/><path fill="#a561e1" d="M319 145l2 15-6 11-26 5 0 1-2 2-1 0 4 20 7 9 10 2 15 18-4 15-14 14-1 2 0 1 1 4-12 38 1 0 14 5 9 7 6 20 1 0 21 10 10-1 0-1 1-5 28-30 17 7 9-16 0-1 1-5-1 0-14-18 4-11-17-13 1-17-3-6-1 0 0-1-7-30 30-5 6 13 7 5 1 0 26-15 0-1 7-10 12 6 6 23 37-17 2 1 7-2 11 2 16-21 0-1-1-12 34-9 3 24-2 1-19 28-28-6-1 0 2 25-13 15 0 1 0 14 12 15-22 18-1 16 2 2 4 22 1 0 17 8 1 0 14-12 15 8 1 0 10-8 5-22 0-1-31 10-4-9 2-19 24 0 12 16 4 0 13 11-4 16 0 1 1 6 20 8 7-8 21 7 0 16 0 1 1 0 20 4 1 0 11-26 8-4 14 24 20 6-1 16 17 14 1 0 18-11 0-20 7-6 3-8-13-22 19-10 4-19-4-8-1 0-13-2-33 19-1 0 1 1 6 15-7 11-35-3 2-14 0-1-21-17-7 1-9 22-26-7-4-5 7-23 4-4 7-1 0-1 11-29 0-1-5-15-1 0-35 14-19 14-11 0-10-10-16 2-10-21 27-6 4 4 26-2 1 0 8-24 0-7-1 0-9-7-3-5 13-31-2-4-30 2-3-15 16-10 0-1-16-33 7-9 2-1 25 29 1 0 13-8 21 20 11-17 1 0-5-20 0-1-1 0-23-6 0-1-1 0-29-4 0-12-42-7-27-9-14-1-1 1-1 0-2 30 1 0 27 1 7 22 9 5-1 25-15 12-6-1-12-9-7-23-29 5-6-3-20 12 2 11-5 25-7 6-7-2-15-17-18 2-1 0-15 13-6-1-8-13-20-4-9-12-1 0-21 8-3 5zM237 267l-21-10-1-2-17-15-4 0-13 16-4 9-4 12-12 16-22 30 7 5-12 27 13 9 9-1 16 9 3 1 17-10 0-1-2-10 13-31 27 16 14-10 0-1 1-16-15-14zM447 326l11 22 1 0 11 0 0-1 6-21 14-19-16-16-5-1 0 1-1 0-11 10 3 17zM266 394l40-17 1-1-7-11-14-13-13 5-5 5zM415 407l14-8 12 15 16-4 11 16 1 0 9 2 3 6 0 1 15 2 1-1 10-13 9 2 6 13 9 4 13-9 22 12 2-2 6-27-1-2 0-1-26-1-3 4-20-2-4-13 2-4 18-11 1-7-34-13-6 2 1 6-5 29-3 3-4 1-6-5-21-2-6-20 0-1-1 0-1 0-24 8-3-4-1 0-2 0-35 4-4 3-16-4-13 30-3 2-1 8 15 15 6-2 21 13 1 0 2-5 3-17 0-1-14-11 2-21zM146 409l0-1-2-8-10-12-17-4-1 0-16 9-1 0 0 3-9 7-12 21 4 12 18 7 6-4 7-21 20-2zM151 444l0 1 7 21-6 10 7 18 1 0 23-9 6 4 1 0 20-16 1 0 1-6 7-9-3-14-1 0-19-6 0-28 0-1-5-3-11-3-1 0-19 14 0 1 2 12zM268 465l0 1 18 10 9-6 14 9 1 0 7-2 0-1-3-24-1 0-17 2-18-21-9 5 0 1-1 0zM467 536l15-6 0-19 7-6 0-1-3-16-1 0-22-4-1 0 0 1 0 1-31 13-1 3-13 2 0 1-1 12-8 10-19 4-1-8 1-14-6-5-17 1-4 14-7 12 0 1 19 14-1 4-25 12-1 0-2 17 19 12 6-4 4-8 26-9 6-13 8-2 5-5 13-6 1-5 17-19zM313 565l5-10 22-6 8-17 0-1-7-5-28 2-13-11-10 6-26 0-10 20 7 10 3 18-16 5 0 1-6 16 16 12 14-10 1-16 24-9 2-2zM442 580l0 16 0 1 1 0 13 11 0 15-2 2-2 7-21 6-11-10-10-2-9 12-14 1-1 0-11 15 0 1 16 13 11-2 6-5 12 0 9-14 17 11-9 20 0 1 15 8 17-5-8-33 0-3 11 0 18 10 6-3 20 14-1 2 1 0 10 15-3 17-28-2-7-6-32 39-8-5-1 0-19 2-11 16 0 1 4 11-4 21-15-1-16-12-4 0-7 8 1 24 1 0 15 1 11 12-1 12 0 1 26 3 7-13-5-21 5-2 12 3 28 1 1-15 7-6 17-3 13 14 1 0 0 1 8 0 17-20 0-1-2-1-18-31 5-3 0-1 6-22 15-1 9-18 0-1-11-8-4-16 17-9 3-13 0-1-29-3-1-20 9-4 3-16-20-8 10-15-3-5-1 0-17-12 11-14 20 4 2 2 11 8 10-11-1-21-1 0-15 4-13-14 0-3-7-8-17 1-1 0-4 4 1 15-18 10 9 19-12 6 3 30 1 0 14-5 12 8 0 20-10 5-1 0-5 15-14-2-8-9 8-19 0-1-2-8-8-2-5-6-20-10-1 0-7 5zM473 739l25-18 13 12-8 15-21-2zM268 628l0 1 1 18-24 4-6 15-12 6 0 1-1 4-29 24 0 1 20 17 1 0 5 1 13-27 12 7 1 0 22-10 2-14 7-7 1-10 17-13-3-18-1 0-15-3zM566 618l1 0 19-1 13 15 4 1 7-9 18-1 9 15 0 1 19 4 1 0 0-1 0-18 0-1-11-18 17-13 1 0-3-6-22-16-7 0-3-4 10-18-2-20 23 2 3-2 25 9 6-13-8-13-1 0-20 1-5-9-17 3-8-8 2-14 16-6 12 8 11-4 17 3 9-2 0-1 1 0 31 1 4-24 22-5-5-17-13-6-17 5 0 1 1 15-22 15-7-13 4-17-14-13-7-1-7-18 16-17-11-15-1 0-11-3-1 0 0 1-10 15-20 2-1 0-1-27-14-3-10 23 5 11-6 10 0 2 17 19 4 1 11 16-1 7-9 6-6-1 0 1-17 14 1 13-13 3-14-7-2 1-9 12 4 12 18 5 5 6-1 8-8 9 0 15 3 5 3 2 9 16-4 7 14 25-7 6-11-2-11-14 0-1 0 1-17 8zM586 752l-5-16 8-17-10-12-24 9 0 1 0 14-3 4-3 22-7 7 13 18-1 10-21 15 20 30 2 0 13-33 11-5 1 0 1-17 0-1-1 0-5-2-10-21zM516 910l13 8 15 5 1 0 6-2 1 0 0-1-8-41 0-1-1 0-24 10-4 22zM629 159l1 3-9 28 24 6 0-1 10-29 2 0 7-18-3-8-22-12-4 3zM685 624l20 14 14-24-1 0-10-8-23 7 0 1zM688 693l10 17-5 8-14 8-1 0-5 11-6 2 0 1-2 34 0 1 9 5 7 27 3 3 0 2-44 17-4-8-27 10 0 21 1 0 9 3 13 31 1 0 0 1 5-1 21 18 1 0 13-10 20 4 5-24 0-1-9-11 2-4 20-13 20 25 16-10 5-17 24 1 1 0 16-14 0-1-9-19-1 0-9-7-5-8-1 0-20 3-15-14 5-15-3-14 6-8 25 11 1 15 5 11 22-9 10 25 5 0 17 12 1 0 6-5 4-14-13-22-7-2-9-6-1-4-11-23 8-7 10-3 26 12 0 1 2 0 10-19 17 7 12-9 19 17 1 6 1 0 11 2 1 0 19-12 16 13 1 0 29-21 0-1-27-22-1-4-18-9 0 1-19 20-8 0-15-12 4-30 1-2 1 0 0-1-7-11-30-27-2 0-4-2 0-1-8 1-20-12-1 0-16 16-18-10-14 9-3 10-21 12-1 0 9 17-24 21-7-31-8 0-16-9-1 0-15 9-1 11 7 14zM719 714l-5-5 8-16 15-4 10 8 14 1 13 14 2 11-30 7-6 9-19-9zM610 719l1 1 3 26 7 6 1 0 29-15 0-1-8-20 6-17-1-3-17-8-20 14-1 16zM608 905l3 18-3 5 3 12 0 1 1 0 42 9-2-11 2-5 0-1-33-38 0-1-9 3zM910 238l1 0 14-12 11 0 12-8 0-1-8-40-15-7-26-11-1 0 2 6-23 18-16-22-6 0-12 12-18-1-14 19-1 16-9 3-22 32 5 27 17 8 1 0 11-11 6-18 4-3 11 5 27-22 7 14 32-10zM849 294l3 14 12 11 18-8-3-28-18-4zM794 309l0 9 1 0 17 11 16-13 0-1-6-20-14-3-1 0zM1060 326l-12-8 13-32-15-16-13 3-8-4-21 7-3 19 0 1 9 11 0 10-15 11-2 6-25-2-9-18-9 1-21 14-10-1-9-9-1 0-3 0 0 1-1 0-26 31 2 15 12 5 17-5 10 6 11 15 1 0 4 2 8-3 21 10 21-11 16 9 1 2 14 6 12 38 16-4 1 0 0-1 7-29 22-2 11-19 0-1-17-11-4-16-9-6zM786 483l7 17 20 0 1-30-9-8-1 0-2 1-15 20zM936 507l13-9 19 3 0-1 3-23-4-9-19-5-6-7-19 1 0 1-12 18-15 0-1 0 0 1-9 23-14 1-18-26-9 1-5 13 6 16 19 3-4 27 8 7 27-19 1 34 14 5 7 18 4 1 24-20-7-23-17-3-10-15 10-11zM1047 511l1 0 11 15 28 6 4-3 6 1 6-30 5-56-8 1-18 26-20 6-3 21-11 13zM802 543l0 1 4 8 0 1 25 2 10-23-7-8-12-5 0 1-1 0-11 9zM1013 598l6 11 21 7 8 16-4 7-13 7-24-7 0-1 0 1-13 21 3 8 0 1 27 0 7 16-32 19 0 1 19 13 1 0 11-18 31-70 14-29 0-4-26-6-1-5-28-13zM942 835l0-1-18-4-2 1-19-17-7-1-20-17-18 21 1 5-18 20-8-3-1 0 0 1-15 16-11-3-21 18 0 1 10 13 1 0 29-3 6 3 23-28 7 0 19 24 1 7 9 1 10-9 19-20 19-20z"/><path fill="#5b12bf" d="M371 195l7 32 4 6 28 5 6 19 6 3 1 0 17-16 4 1 30-6 3 16 0 1 1 0 9 5 5 18 13 9 22-18 1 0 0-1-13-14 1-14 0-1-27-12-13 6-10-13-18-1-1 0-10 6-17-8-4-9-8-5-6-13zM188 237l6 4 4 0 17 15 0 1 22 10-8 29 16 14-2 16 0 1 1 0 4 2 7 13 0 1 18 14 1 0 12-4 0-17-1-5 8-29 12-38-1-5-1 0-48 2 1-4 0-1-16-34-6 0-6-4-20-1-9-9-11 28zM370 387l16 4 4-4 9-25-38-13-7-7-10 2-27 31-11 1 0 1-41 17-17 0-8-8-16-2-14-14-2-3-1 0-15-5-1 0-16 10-3 0-29 28 2 9 15 9 1 0 18-14 12 3 5 3-1 28 20 6 13-17 9-2 23 14 9 0 9-5 1 0 3-7 20-9 17 7 14-14 5-2 0-1 2-20 23-7 7 5zM313 452l4 24 0 1 18 1 5 17 16 1 10 9 17 0 5 4-1 14 1 9 1 0 19-4 9-11 0-12 13-3 1 0 1-2 30-14 1-1-4-8-13-6-4-11 11-15-1-7-14-11-10 5-1 0-3 14 4 9-18 16-6 2-10-5-8 4-12-1-15-12-1 0-14 0-9-14-7-3zM148 531l23 26-2 1-32 7-2-3-29-10-4-13-1-1-1 0-26 6 10 21 21 51 10 18 0 1 9-2 2 1 12-4 0-1 2-2 0-34 16-2 20 12 10-3 7 2 22-9 1-16 3-7-14-22 6-6 21-3 0-1-5-23 0-1 5-21-16-5-5-15-1 0-21 15-5-4-1 0-24 9-4 16-4 3zM357 630l-1 11-28-1-2-1-1 0-14 11-13-5-1 0-17 14-1 9 0 1 30 12-1 8 0 1 15 23 4 1 10 11 1 3 17 14-15 22-18-4-7 5-12 2 0 1-1 0-15 15 0 1 5 9-5 25-12 4-2 4 15 14 38 29 18 12 11 4 10-17 2-1 14-20-12-17-22 1-12-13 15-17 22 1 5-5-1-24 6-8-19-24 4-6 0-19 0-1-9-5-5-11 8-14 19 6 6 10 6 2 5 10 20 6 11 11 20-3-1-17 6-24-1 0-15-7 10-21-1 0-17-11 0-1 0 1-9 13-12 0-6 5-11 2-16-12 12-16-10-19 27-8 2-12-36-13-1 0-5 3 0 2 5 25zM508 109l6 24 12 8 1 0 6 2 16-13 1-25-1 0-8-5-1 0-31 6 0 1zM408 298l28 2 5-5 0-1-6-17 0-1-5-3-21 19-1 5zM558 331l0 1 7 14 15 1 12-14-2-7-21-2-1 0zM418 335l10 13 17 7 1 0 13-7 0-1-11-21-1 0-22 4zM573 414l4-9-1 0-6-9-2-20 0-1-13-6-12 7-3 3-1 7-17 11-3 4 4 14 1 0 20 2 3-4zM386 418l14 12 1 0 11-5 3-18-26-11-1 0zM475 455l1 0 16 9 11-5 21 11 0 5-17 10-15-6 0 1-7 8 3 16 0 1 1 0 16 4 0-1 5-3 17-1 4-19 19 0 1 0 3-22 8-5 4-14-22-11-13 8-9-3-6-13 0-1-9-1-11 13-14-2-1 0zM564 516l1 5 23 8 8-9 2-8-5-6-1-1-18-4-10 14zM569 566l0 1 17 16-2 6 11 15 12 1 7-6 0-1-14-24 4-7-9-16-1 0-2-2-1 0-21 17zM520 589l1 0 20 7 11-10-1-10 0-1-20-2-10 15-1 0zM409 597l0 1 23 8 11-9 0-1-1-16 0-1-14 0-19 16zM545 704l0 1 10 12 1 0 23-9 10 11-9 17 6 15-21 7 9 22 6 2-1 17-11 4 0 1-1 0-12 32 0 1 12 3 1 0 28-20 13 12 1 0 26-11-5-15 0-1-17-11-1-11 11-15-2-16 0-1-7-5-3-26-2-2 2-16 19-13 0-1-7-16 2-3-4-19 0-1-15-5-4-11-4-1-24 8 0 1 10 16 11 1 7 17-2 2 1 15-23 7-8-18-1 0-1-1-16 6zM544 879l8 41-1 0 0 1 5 5 56 15 0-1-3-12 3-5-4-18-19 3-14-5-4-21zM645 87l5 20 30 3 2 4 19 17 6-2 24 11 4 10 21 7-6 16-25 15 0 1 13 19 0 5-1 1 0 27-5 6-18-4-13 23 4 12 1 0 2-1 42 7 1 1 13 3 1 0 20-19-5-27-5-2-9-14 7-29 1-1 1 0 9-33-3-13-2-1-4-14-16-12-16-6-24-8-9-3-57-25-8 5zM617 307l3 6 27 7 9-23-21-19-7 1-4 5zM611 341l1 10 0 1 7 6 13 3 2 27 1 1 20-2 0-1 11-15 11 3 1 0 0-1 16-18 1 0-14-24-1 0-9 3-11 26-20-4-1-16-21-8 0 1zM697 454l7 14 1 0 22-15 0-1-2-15 0-1-6-5-19 6zM580 477l1 0 13 7 1 0 14-4-1-13-14-12-1 0zM810 529l12-9-7-19-2-2-20 0-6-16-21-6-1-1-2-19 0-1-3-2-22 5-5 24 3 3 5 23-4 3-23-2-7 9-14 5-5 13 1 8-9 13-10 1-9 27 2 6 9 3 1 0 19-16 13 3 1-1 30-7 10 5 15-3 2 1 5 6 26 12 0 1 0-1 7-2 1 0 0-1 6-15-5-16 3-9-4-9-12-3-8-6 8-20zM636 528l2 20 22 1 0-19-23-2zM656 642l3 3 10-1 21 11 16-8-1-9-20-14 1-10 0-1-8-5 0-1 0 1-21 15-1 0 0 1zM729 655l0 1 7 30 1 0 0 1 25-21 0-1-9-17-6-2-7 1 0 1zM648 697l1 2 17 4 16-10 7 0 8-13 0-1-7-13-21 9-10-3-11 24zM733 785l15 14 20-3 1 0 0-1 4-11 0-1-5-10-1-16-1 0-25-10-7 8 3 14-4 15zM1033 273l13-3 11-17 12-4 1 0 2-5 0-1-23-16-34-15-1 0-16 15-24-19-19 9-8 0-11 8 8 17-3 23-7 5-25-16 2-17-11-6-32 11 0 4 26 19-2 7-13 11 2 27-17 9-11-12-25 7 0 1-1 1-15 13-1 0 0 4 10 29-11 7-1 0-2 13 15 18-1 15-39-6-2 2 0 1 7 18 23 11-6 22 10 7 23-1 8 7 9-1 3-2 9-27-1 0-6-4-22-3-9-10 0-1 21-12 9 0 11-3 20 16-2 11 33 14 3 4 19-2 5 7 1 0 19 6 0-1 8-12 0-1-9-20 5-11 0-1-1 0-7-6 2-21-21-11-8 3-4-1-12-16-10-6-1 0-16 5-12-4-1-15 26-31 3 0 10 8 0 1 10 1 1 0 20-15 8 0 9 17 0 1 26 2 0-1 3-6 15-11-1-10 0-1-9-11 4-19 20-6zM756 354l21 15 17-8 1 0 0-1-4-10-14-13 0-1-18 9 0 1zM1045 435l0 1 14 8 4 33 3-1 17-5 18-25 7-2 1-26-32-11-2-3 0-1-22 2 0 1zM963 528l8 14 23 3 9 10 27-35 0-1-31-7-4-3 13-29 0-1-4-5-33 3-3 23 0 1 4 6zM904 661l23 17 6 10 18 8 13-16-1-17 0-1-10-6-14-25 0-1-16 5zM786 906l8 19 14 1 0-1 17-11 3-1 1 0 5-22-3-6-6-4-29 4-1 0-4 13z"/><path fill="#dcaef6" d="M551 576l1 10 15 11 17-8 3-6 0-1-17-16-13-1-1 0zM207 640l0 14 20 19 1 0 11-7 1 0 5-14 25-5-1-18 0-1-14-8-15 8-10-3z"/><path fill="#c78def" d="M373 147l8 13 6 1 1 0 15-13 18-2 2-19 4-8-34-15 14-11 1 0-1-3-26 19-1 2 2 6zM97 391l2 3 1 0 17-10 17 4 9 12 1 0 28-28 1 0-1 0-16-9 0-1-9 1-12-9-1 0-2 0-14 11-4-2 0-1 0 1zM457 379l0 1 6 20 20 3 7 4 4 0 4-4 4-29 0-6-6-3-1 0-13 1-1 0-3 3zM255 621l13 8 11-4 15 4 1 0 0-1 10-11-3-13-1-1-20-2-9-7-1 0-13 10-1 0-2 16zM529 616l0 20 0 1 30 3 4-4 0-13 4-5 0-21-15-11-11 10-3 15zM472 738l0 1 1 0 9 7 21 2 8-15-13-13-25 18zM475 794l1 3 25-1 13-12-14-14-17 3-7 5zM354 885l1 0 36 13 47 7 0-1-4-16-1 0-24-4-4-7 7-19 0-1-12-13-19 3-14 20-3 1zM476 908l24 2 13 4 3-4 4-21 24-10-1-22-1 0-31 0-3 2-6 14-12 3 0 1-5 24zM538 161l1 13 0 1 1 0 36 3 0-1-2-24-1 0zM801 276l0 1 6 15 1 0 13 3 7 20 25-7 0-1-3-13 11-15 18 4 13-10 0-1 3-7 0-1-26-18 0-4-7-15-1 0-1 0-26 22-10-5-1 0-4 3 0 1-6 18zM672 405l8 19 7 0 13 13 1 0 18-5 0-20-16-6-6-16 0-1-8-1zM702 482l12 28 0 1 23 2 5-3 0-1-5-23 0-1-3-2-31-2zM869 541l2 14 3 2 23 0 1 0-1-34 0-1-1 0zM705 638l0 9 17 9 8 0 10-8 7-1 6 1 22-12 2-10-11-13-1 0-17 3-12-10-18 8zM538 662l4 16 0 1 11 8 1 0 15-7 0-4-13-23-1 0zM630 805l0 1 5 15 5 8 44-17 1-1 0-1-4-3-15-1-21-13z"/><use href="#mesh" stroke-width="2.8"/><use href="#r1" fill="none" stroke="#d9d2de" stroke-width="5"/><use href="#r2" fill="none" stroke="#9b9b93" stroke-width="10.5"/><use href="#ol" fill="none" stroke="#2a2a2a" stroke-width="9" stroke-dasharray="22 5"/></g>
<g fill-rule="evenodd" transform="translate(176.50 218.25) scale(.1012 .1006)"><use href="#ol" fill="#dd0707"/><path fill="#f22626" d="M373 147l8 13 6 1 16 23-1 7 6 13 7 5 4 10 18 8 11-6 18 0 1 0 1-9-7-23 0-1-12-6-5-16 6-7 32-4 3-2 19 12 8 29 1 0 11 2 16-21 0-1-1-12 34-9 3 25 16 7 3 5 9 7 17-7 10-28 23 4-10 29 0 1 7 7-3 20 1 0 26 7 6 8-3 14 23 14 4 11-3 9 1 8-19 19-1 0-1 15 0 1 35 3 3 23 29 5 0 20-19 11 0 13-11 8 0 20 6 5 1 15-22 15-1 14 0 1 30 1 3 3 5 23-4 3-23-2-7 9-14 5-5 13 1 8-9 13-10 1-9 27 2 6 9 3 6 13-21 15-11-18-9-1-1 0-8 19 9 15 0 1 19 4 3 2-4 15-29 9-4-19 0-1-15-5-4-11-4-1-24 8 0 1 10 16-16 19-13-23-1 0-17 9-12-4-10 8-20-14-6 3-17-10-1 0-11 1-8-14 2-7 1-1 0-1 1-15 18-18 1 0-1 0-5-6-20-10-1 0-7 5-14 0-18 16-10-25 6-13 8-2 5-5-11-22 0-1-19 4-1-8 1-14-5-5 2-32 8-3 0-1 2-16 2-5 3-17 11-5 3-18-26-11-2-6 3-3 35-4 2 1 1 0 0-1 1-34 16 6 1 0 13-7 0-1-11-21-1 0-22 4 12-31 4-4 0-1-6-17 23-9-14-23-4-1-18 15-5-2-6-19 0-1-28-5-3-5-1 0-23 1-1 0-4 18 13 17-1 3-25 10-1 2 0 8 11 14-3 9-29 4 0 1 6 20 1 0 21 10-27 31 23 13-3 20-4 3-14 13 0 1 9 17-15 10 3 24-7 3-6 30-2 2-1 6-10 6-2 28 10 17 1 0 14-3 5-10 22-6 7 13-2 17 19 11 0 2 5 26 1 0 7 2 27-8 6 14-9 12-14 1-1 0-11 15 0 1 16 13 11-2 7 23 0 1 13 1 14-12 1 0 15 7-6 24 1 17 9 6 1 0 0-1 31-38 1 0 5 5 4 21-25 18-1 0 0 1 1 0 9 7 21 2 8-14 8-2 17 30-31-7-5 15 13 14 1 0 0 1 8 0 17-20 3-1 7-7 16 2 21-7-5-16 8-17 21 0 0-1 2-16 19-13 17 8 1 2-7 17 9 21 16 3 6-3 1 0 5-10 15-9 5-8 15-1 8-16 0-1-14-13 14-23 8 0 10-8 7-1 6 1 22-12 2-10 14-8 3-23 7-2 1 0 0-1 6-15-5-16 0-1-33 12 20-32 12 4 8-15 12-9-7-19-2-2-20 0-6-16 15-19 2-1 1 0 6-22 0-1-24-10-7-18 3-2 6-16-12-17 1-8 16-8 1 0 0-1-4-10 21-17 0-4 16-13 0-1-6-20-14-3-1 0-13 17 0 9-15 12-14-16 4-19-4-7 20-19-5-27-5-2-10-14-26-13 0-5-14-20 26-15 6-16-22-8-4-9 12-23-24-8-9-3-57-25-28-12-33-6-42-7-27-9-14-1-1 1-1 0-2 30-3 3 0 1 7 26 31-7 9 5-1 25-15 12-6-1-12-9-7-23-29 5-6-3-20 12-19-9 0-21 0-1-1 0-25 1-1-3-26 19-1 2 2 6zM404 473l10 30 3 2 13-3 1 0 1-2 30-14 1-1-4-8-13-6-4-11 11-15-1-7-14-11-10 5-1 0-3 14 4 9-18 16z"/><path fill="#f95e5e" d="M266 162l8 15 13 2 3 20 7 9-12 23-9 0-21 25 0 6 48-2 1 4-11 38-3-1-42 7-3 2-2 16-13 11-1 7-22 23 2 4 15 14 15 2 9 7-11 31 23 14 8 0 0 26-6 6-3 22-1 1-20-6-6 5-5 21 0 1 33 3 4 5-10 20 7 10 3 18-16 5 0 1-6 16 16 12 14-10 9 6 20 2 1 1 2 13-10 11 3 17-17 14-1 9 0 1 30 12-1 8 0 1 15 23 4 1 10 11 1 3 17 15 7-1 20 23 0 1 4-1 15-18 16-1 4 11-4 21 0 1 12 13 5 21 1 0 22 9 5 3 0 1 0-1 13-1 5 5 0 1 25-6 0-1 3-3 23-14 2 1 20 30 2 0 13-33 11-5 17 12 0 8 0 1 13 12 1 0 26-11 4 8 6 15 4 2 7 17 13 4 19-5 2-4 20-13 0-1 1 0 3-10 0-1-12-21-2-2-1 0-15 0-4-3-6-27 27-20 12 26 19-1 15 14 20-3 1 0 0-1 4-11 21-9 14-11-1-5-11-23 8-7 10-3 26 12 0 1 2 0 11-19-3-8-16-11-18-13 6-23 7-5 22 7 1 1 1 0 2 1 39-3 1 0 1-2 8-2 0-1 1 0 18-26 1 0-1 0-28-31 1-6 22-18 0-1-7-17-14-5-23-1-2-2-3-13 28-18 3-4 1 0-1 0-13-19 9-23 15-1 1 0 11-18-3-5-33-14 3-10 0-1-21-15 0-14-6-14 10-15 8-4-1-15 26-31 0-1-24-9-1 0-17 9-11-12-3-13 11-15 18 4 13-10 0-1 3-7 0-1-26-18 0-4 31-10 0-1-21-28-1-20-17-22-6 0-12 12-17-1-17-27 3-4 1 0 1-5-34-6-21-7-16-6-1 0-11 23 4 10 21 7-6 16-25 15 0 1 13 19 0 5 27 13 9 15 1 0 4 1 5 27-20 18 0 1 4 7-4 19 1 0 14 17 1 0 15-13-1-9 14-17 13 3 7 20-1 1-15 13-1 0 0 3-20 18 3 10-17 8 0 1-1 8 1 0 12 17-7 15-2 2 0 1 7 18 23 11-6 21-2 1-15 20-1 0 7 17 20 0 1 1 7 19-11 9-8 14-12-3-1 0-20 32 0 1 1 0 33-12 4 16-6 15-7 3-3 22-14 9-3 10-21 12-6-2-7 1 0 1-11 7-7 0 0 1-15 23 15 14-9 15-15 2-5 8-14 8-1 0-5 11-6 2-16-3-8-20 6-17-1-3-17-8-20 14-1 16-21 1-9 17 6 15-21 7-16-1-7 7-3 0-17 21-8-1-14-14 5-15 31 8 1 0-18-31-8 1-8 15-21-2-9-7 25-19-3-21-7-6-32 39-8-5-1-17 6-24-1 0-16-8-1 0-13 12-12-1-8-23 0-1-11 2-16-12 12-16 14 0 1 0 8-13-6-14-27 8-7-3-6-25 1-2-1 0-19-11 3-17-8-14-23 7-4 10-14 2-10-17 2-27 9-5 0-1 1-5 2-2 7-31 7-2 0-1-3-24 14-10-9-18 14-13 5-2 0-1 2-20 0-1-23-12 27-31 1 0-1 0-21-11-7-19 29-4 1 0 0-1 3-9-11-14-1-8 2-1 24-10 1 0 0-4 0-1-12-16 4-17 23-2 3 6 28 5 1 0 9-19 0-1-4-9-8-5-6-13 1-7-15-23-7-1-7-13 9-30-2-6-4 1-17 13-17 6-21 8-3 5-8 0-41 16-3 2zM256 342l-7-13 35 3 2 4 0 16-12 5zM222 191l1 0 1 2 3 25 0 1 6 3 7 0 14-10-2-13 2-14-10-8-21 14zM479 114l29-5 2-2-7-26 3-4 2-30-26-1-1-2-6 0-68 46-1 0 1 3 26 0 0 21 20 9 20-12z"/><path fill="#fb9a9e" d="M244 177l10 8-2 14 1 12-13 11-6 0-6-4-4-25-1-2-23 15-1 2-11 28 0 1 6 4-13 15-4 9-4 12-12 16 15 15 4 0 22 12 0 1-13 31 2 10-16 10-3 0-29 27-9-11-17-4-1 0-16 9-1 0 0 3 14 22 20-2 12-7 15 9 2 12-11 14 0 1 7 21-6 10 7 17-4 16-4 3-3 19 23 26 3 0 12-11 19 2 14 22-3 6 0 1-1 16 6 4 9 28-23 15 0 14 20 19-1 4-29 24 0 1 20 17 1 0 5 1 13-27 12 7 1 0 22-10 8 12-14 25 0 1 15 11-11 26-11-2-1 0-18 14-7 0-4 3 0 1 31 31 16 10 13-3 5-26 25 7 1 0 3-11 23-13 2 1 28-4 1 24-4 4-23-1 0 1-14 17 11 13 1 14-19 16-2 7 0 1 18 12 11 4 10-17 2-1 14-20 19-2 11 13-7 19 0 1 5 7 24 3 5 16 0 1 38 3 24 2 13 4 3-3 13 7 15 5 1 0 6-2 5 5 56 15 42 9-2-11 2-5 6-13 0-17 13-10 20 4 3 5-7 13 0 1 8 20 1 0 28-3 5-11 25-3 9-14-4-12-1 0-31-6-1-11 3-7 16-10 5-17 24 1 1 0 16-14 1 0 12 23 11 4 1 0 15-17 9 3 17-21 0-5 17-21-3-12-4-1-22-25 1-5 28-9-7-17 12-9 19 17 1 6 1 0 11 2 1 0 19-12 0-1 0-3-19-19 19-20-5-10-24-17-8 2-2 2-39 3-2-1-1-1-23-6-7 4-7 24 0 1 18 13 17 10 2 8-10 18-2 0-26-13-11 3 0 1-8 6 0 1 12 24 1 4-14 11-22 8-4 12-20 3-15-14-19 2-12-27-27 21-1 0 7 27 3 4 16 0 2 1 12 21-3 11-21 14-2 4-18 4-13-4-7-17-3-2-11-22-26 10-14-12 1-8 0-1-18-11-11 4 0 1-1 0-12 32-2 0-19-29-3-1-24 13-2 4-25 6-5-5-13 1-5-3-22-9-5-22-12-13 4-21-1 0-4-12-16 1-15 19-4 0-20-24-7 1-17-15-1-2-10-12-4 0-15-24 2-8 0-1-30-12 1-9 17-13-3-18 10-11-3-13-1-1-20-2-9-7-1 0-13 10-15-11 5-16 17-5 0-1-3-18-7-10 9-20-3-5-1 0-33-4 5-20 7-5 19 6 0-1 2-1 3-22 5-6 1-26 0-1-9 0-22-13 10-31-8-8-16-2-14-14-2-3 21-23 1-7 14-10 0-1 1-16 3-1 42-7 3 0 12-38-1-5-1 0-48 2 1-4 20-25 9-1 13-23-1-1-6-8-4-20 0-1-13-2-7-14zM248 329l7 13 0 1 18 14 1 0 12-4 0-17-1-5-36-2zM808 144l0 1 17 27 18 1 12-11 6 0 16 22 1 19 22 28-32 11 0 4 26 19-2 7-13 11-18-4-12 15 3 14 12 11 18-8 23 9-26 31 2 15-9 4-9 14 0 1 6 14 0 14 20 16-2 11 33 14 2 4-11 18-15 0-1 0 0 1-9 23 14 19-4 3-27 19 2 14 3 2 23 0 14 5 7 17-23 19-1 6 1 0 28 31 16-4 1-2 37 6 11-11-7-20-13-6-2-7 3-18 31-7 5-3-2-8-8-10-23-3-9-14 10-21-5-7 3-23-4-9 8-12 0-1-9-20 5-11 0-1-1 0-7-6 2-21 21-11-10-19 0-2 19-19-2-11-25-2-9-18-9 1-14-29 34 6 1 0 3-26 5-4 1-9 17-20 1 0 0-5 17-16-39-17-1 1-3-3-32-16-15-7-26-11-39-15-46-8-1 0-1 4z"/><path fill="#fdd0d0" d="M181 256l14-15 0-1-6-4-1 0zM175 373l17-10 0-1-2-10 13-31-1-2-22-12-3 0-16-14-22 30-25 40-17 28 2 3 1 0 17-10 17 4 9 12 1 0 28-28zM100 396l-1 0-9 7-12 21-1 3-15 41-3 27 6 25 3 12 6 12 10 21 21 51 10 18 16 31 4 7 21 27 29 36 13 14 30 32 4-3 7 0 19-15 11 2 12-26-16-11 15-26-9-12-22 9-13-7-14 28-4-1-21-18 30-23 0-1 1-4 0-1-20-18-1-14 23-15-9-29-6-4 1-15 3-7-14-22 0-1-19-2-12 11-3 0-22-25 2-19 4-3 1 0 4-15 0-1-7-17 5-10 1 0-7-21 11-14 0-1-2-12 0-1-15-9-1 0-12 8-20 1zM273 826l15 14 38 29 1 0 0-1 1-7 19-15 0-15-12-13 15-17 22 1 5-5-1-24-29 4-1-2-1 0-24 14-3 10-25-6-1 0-5 25-12 4zM935 286l15 29 8 0 9 17 0 1 26 2 1 10-18 19 0 2 9 19-20 11-2 21 7 7-5 11 0 1 10 19-8 13 4 9-3 23 0 1 4 6-9 21 8 14 23 3 9 10 2 7-5 4-31 7-1 0-2 18 2 7 13 6 6 20-10 10-37-5-1 1-16 5-19 26 23 17 6 10-19 20-1 0 1 0 18 19 0 3-19 12-11-1-1-1-1-5 0-1-19-17-1 0-11 10 6 17-27 8-1 6 21 25 5 1 3 12-18 21 1 5-18 20-8-3-1 0 0 1-15 16-11-3-12-23-1-1-1 0-16 14-25 0-4 16-16 11-4 6 0 1 2 11 31 6 5 12-10 14-24 2 0 1-1 0-4 10-28 3-8-19 6-14-3-5-20-5-14 11 1 17-7 13-1 5 2 11 21 5 54 0 2-3 9 3 10 0 38-9 22-6 24-11 1 0 2-5 5 2 18-8 11-10 4-6 1 1 14-14 10-9 19-20 19-20 4-5 22-30 11-15 31-54 13-18 11-18 31-70 14-29 0-4 3-2 2-5 15-50 2-10 6-30 5-56 1-26 0-43 0-13-3-52-1-3 1-1-1-13-10-26-5-10-18-14-23-16-34-15-1 0-16 15-1 5-17 20-2 9-4 5-4 25-34-5zM354 885l1 0 36 13 47 7 0-1-4-16-1 0-24-4-4-7 7-19 0-1-12-13-19 3-14 20-3 1z"/><use href="#mesh" stroke-width="3.6"/><use href="#r1" fill="none" stroke="#a9a9a9" stroke-width="5"/><use href="#r2" fill="none" stroke="#757575" stroke-width="8.5"/><use href="#ol" fill="none" stroke="#2a2a2a" stroke-width="9" stroke-dasharray="22 5"/></g>
<g fill-rule="evenodd" transform="translate(340.40 218.25) scale(.1012 .1006)"><use href="#ol" fill="#e3e3e3"/><path fill="#d3d3fd" d="M175 373l17-10 15 4 2 4 15 14 15 2 9 7 17 1 1-1 2-32 6-5-18-15-7-13-5-3-1 0-13 11-27-16-1-2-22-12-3 0-16-14-22 30-25 40-17 28 2 3 1 0 17-10 17 4 9 12 1 0 28-28zM318 800l1 0 3-11 23-13 2 1 29-4 6-8-20-24-7 1-15 22-18-4-7 5-12 2 0 1-1 0-15 15-5-1-13-17-11-2-1 0-18 14-7 0-4 3 0 1 31 31 16 10 13-3 5-26zM529 616l-13-6-1 0-10 6-1 0-5 15-14-2-8-9-21 3-2 2-2 7-21 6-2 9 17 11-9 20 0 1 15 8 16-5 11 3 9 9 1 0 27-25 10 15-3 17 1 0 5 5 1 0 15-1 9-18 15-7 0-4 16-19-10-16-12-6-4 4-29-3z"/><path fill="#a9a9f8" d="M191 407l5 3-1 28 20 6 13-17 9-2 23 14 9 0 9-5 1 0 3-7-17-33-17 0-8-8-16-2-14-14-2-3-1 0-15-5-1 0-16 10-3 0-29 27-9-11-17-4-1 0-16 9-1 0 0 3-9 7-12 21 4 12 18 7 0 17 0 1 25 14 1 0 2-1 7-27 17-2 11-14 0-1-2-12 18-14zM290 704l12 22-1 3-12 9-8 1-16-12-14 0-10 7-18-14-5-1-1 0-18 24-1 6 30 32 4-3 7 0 19-15 11 2 12 17 6 2 16-16 12-3 7-4 18 3 15-21 7-1 20 23 0 1 4-1 15-18 0-1-10-15 7-18 19 6 1 0 5-21-1-7 14-12 1 0 10-21-1 0-17-11 2-8 22-7 2-7 1-1 0-1 1-16-14-11-1-16 0-1-14 0-19 16 0 2-3 3-3 12 7 14-9 12-14 1-1 0-11 15-14 1-9 13 0 1 9 15-8 15-17 1-9 13-4 0-15-24z"/><path fill="#7373f0" d="M151 444l0 1 7 21-6 10 7 18 1 0 23-9 6 4 1 0 20-16 6 16 16 5 7-5 19 6 0-1 2-1 3-22 5-5 18 10 9-6 2-16-1 0-18-21-9 5-9 0-23-13-9 2-1 0-12 17-19-6 0-28 0-1-5-3-11-3-1 0-19 14 0 1 2 12zM59 495l6 25 0 1 0-1 6-17 7-6 6 0 8 5 28-5 0-1 1 0 5-21-25-15-1-17-17-7-4-12-1 0-1 3-15 41zM156 699l29 36 13 14 2-6 18-24-21-18 30-23 0-1 1-4 0-1-20-18-1 0-18 10-4 5-15 3 0 23-13 4zM222 720l18 15 1 0 11-7 13 0 15 11 1 0 0 1 0-1 8 0 12-10 1-3-12-22 18-14 15 23 4 1 10-13 16-2 8-15-8-16 9-13 13 0 12-16 14 0 1 0 8-13-6-14 2-12 3-2 0-1 1-1 0-1-10-25-26 8-1-28-25 12-1 0-2 17 19 11 0 2 5 25-12 13-1 11-28-1-2-1-1 0-14 11-13-5-1 0-17 14-1 9-7 8-1 14-22 9-13-7z"/><path fill="#4545e8" d="M155 509l1 0 4-15 0-1-7-17 5-10 1 0-7-22-17 2-1 0-7 27-2 2-5 21-28 5-8-4-6 0-7 5 0 1-6 17 3 12 6 12 10 21 21 51 10 18 0 1 9-2 2 1 12-4 0-1 2-2 0-34 16-2 20 12 10-3-6-34 0-1-6-9-3 0-22-25 2-19zM242 593l16 12 14-10 9 6 20 2 1 1 2 13-10 11 3 18 14 4 1 0 14-11 2 1 28 1 2-11 12-12 0-1-6-25 1-2-1 0-19-11 3-17-8-14 8-16 0-1-7-5-28 2-13-11 1-5 2-2 7-31-15-9-1 0-8 5-18-10-6 6-3 22-1 1-20-6-6 5-5 21 0 1 33 3 4 5 0 1 26-1-2 28 10 17-1 2-24 8-8-7-1 0-16 5 0 1zM131 665l4 7 21 27 1 0 0 1 0-1 13-4 1 0 0-23 14-2 4-6-16-20-14 7-1 0 0 16-12 8-14-10zM197 701l0 1 20 17 1 0 5 1 13-27 12 7 1 0 22-10 2-14 7-7 1-10-11-12-1 0-24 4-6 15-12 6 0 1-1 4z"/><path fill="#1414dc" d="M148 531l23 26 3 0 5 9 7 33-10 4-20-13-16 2-1 35-2 2-11 4-2-1-9 2 16 31 14 11 1 0 12-9 1-16 14-6 16 19 0 1 18-11 20 19 1 0 11-7 1 0 5-14 24-5 11 13 1 0 17-14-3-18 10-11-3-13-1-1-20-2-9-7-1 0-13 10-15-11 5-16 16-5 9 7 24-9 2-2-10-18 2-27-1 0-26 0-3-5-1 0-33-4 5-21-16-5-5-15-1 0-21 15-5-4-1 0-24 9-4 16-4 3z"/><use href="#mesh" stroke-width="3.6"/><use href="#r1" fill="none" stroke="#a9a9a9" stroke-width="5"/><use href="#r2" fill="none" stroke="#757575" stroke-width="8.5"/><use href="#ol" fill="none" stroke="#2a2a2a" stroke-width="9" stroke-dasharray="22 5"/></g>
<g fill-rule="evenodd" transform="translate(0.0 327.6) scale(.1)"><use href="#ol" fill="#a561e1"/><path fill="#5b12bf" d="M437 227l11-6 18 0 9 13-1 4 0 1 3 16 0 1 1 0 9 5 5 18 13 9 22-18 6 2 0-1 16-17 16-2 0-1 5-21 26-2 1 0 8-24 0-7-1 0-9-7-3-5-16-8-2 1-19 29 8 7 3 12-27 5-10-6-2-25-3-4-11-2-7 1-2 0-36 17-7-23 0-1-12-6-8 11-26 15-7-4-6-13-31 4 7 32 4 6 28 5 1 0 9-19zM255 262l49-2 0-3 14-13 0-1 1 0 4-15 0-1-1 0-15-18-10-2 0 1-12 23-9 0-21 25zM418 335l10 13 17 7 1 0 13-7 0-1-11-21-1 0-22 4zM457 410l11 16 1 0 9 2 12-21-6-5-21-2-6 9zM459 477l3 8 0 1-31 13-1 3-13 2 0 1-1 12-8 10-19 4-1-8 1-14-5-5 2-32-12-1-15-12-1 0-14 0-9 19 5 17 16 1 10 9-4 14-7 12-7 0-1 0-7 17 0 1 7 13 1 0 25-12 2-4 9-4 22 15 8-2 5-5 12-6 19 15-1 15 1 0 20 10 5 6 7 2 3 9-8 19-1 1 1 0 8 8 15 3 0-1 5-14 11-6-1-20 6-2 20 7 11-10-1-10 0-1-20-2-3-5-1 0-18-12-11-4-1 0-12 6-7-1-13-8 3-13 14-6 6 3 1 0 17-9 13 11 2 6 0 1 20 4 2 2 11 8 2 9 1 0 13 2 21-18 3 2 9 16 1 0 23-1 1 1 1 0 10-19-2-20-1-1 7-21-8-8 2-14 16-6 12 8 11-4 17 3 9-2 0-1 1-1 2-13 22-15 11 6 22-5-5-17-13-6-17 5-6-4 0-20-16-6-6-16 0-1-8-1-17 16-9-3 0 1-10 10 4 17 15 2 1 20-23 6-11-10-9 6-6-1-20-13 22-16 0-1-17-18 0-2-1 0-21-4-11 7-3 9 1 2-6 27-2 1-1 0-4 14-7 4-21-3-9 11-21-12-11 6-16-9 0 1zM489 504l-3-16 6-8 15 5 17-9 7 9 19 0 3 3-4 18 15 10 1 4-3 4-15 4-13-14 0-3-7-8-17 1-1 0-4 4zM595 483l-14-6 13-21 13 11 1 13zM227 514l0 1 33 3 4 5-10 20 7 10 3 18 9 8 24-9 2-2-10-18 2-27 9-5 0-1 2-5 0-1-1 0-18-22-1 0-23 4-1 1-20-6-6 5zM369 587l37 13 3-2 23 8 11-9 0-1-1-16 0-1-14 0-18 16-10-25-26 8zM375 655l16 13 11-2 6-5 12 0 9-14 2-8 0-1-11-10-10-2-9 12-14 1-1 0-11 15zM287 784l5 9 26 7 1 0 3-11 23-13 2 1 29-4 6-8-20-24-7 1-15 22-18-4-7 5-12 2 0 1-1 0-15 15zM369 830l12 17 19-2 4-35-12-12-15-1-1 0-4 4-1 0 1 0 4 19zM448 837l0 1 2 15 24 1 7-21 0-4-6-5-13 1zM584 589l11 15-10 12 0 1 14 15-24 8 0 1 10 16 11 1 7 17 21-3 2-3-4-19 16-11 0-1-9-15 8-18 0-1-9-9-14 3-15-24-13 8 0 1zM587 752l28-6-3-26-2-2-21 1-10-12-24 9 0 1 0 14-3 4-3 22-7 7 13 18-1 10 14 12 11-5 1 0 1-17 0-1-1 0-5-2-10-21 21-6zM503 748l2 7 31 8 1 0-18-31-8 1zM501 795l6 25 1 0 23-14 1 0-10-21-8-1-1 0zM640 233l6 16 29 6 4-3 3-14 0-1-7-7-26-7-1 0-7 7zM732 248l2 10 12 11 4 14 0 1 1 1 13 3 1 0 20-19-5-27-5-2-10-14-26-13-1 0-1 1 0 27zM777 337l14 13 0 1 21-18 0-4-17-11-1 0-15 13zM680 331l14 24 20 6-1 16 17 14 1 0 18-11 0-20 0-1-28-4-3-24-1 0-35-3zM780 412l7 18 23 11-6 22 10 7 23-1 8 7 9-1 3-2 9-27-1 0-6-4-22-3-9-10 0-1-6-13-40-6-2 2zM686 511l-1 0-20 1 0 1-3 14-3 3 0 19 5 7 6 3 10 0 0-1 10-13 18 5 15-5 1 0 1 0 10-8 0-1 3-23-1 0 0-1-23-2-7 9-13 5zM760 544l1 32-15 3-1 0-10 27 1 0 12 11 17-3 12 12 14-8 3-23-26-12-5-6 7-4 20-33-8-6-14-1zM645 605l12 19 21-16-5-13-1 0-9-3zM701 760l13 26 19-1 5-16-3-14 6-8 0-8-20-9-1 0-12 9-7 20zM640 829l6 15 4 2 7 17 13 4 19-5 2-4 20-13 0-1 1 0 3-10 0-1-12-21-2-2-1 0-16 0 0 2z"/><path fill="#7a31d2" d="M343 131l0 1 10 12 20 4 0-1 10-30-2-6-4 1-17 13zM286 179l4 20 7 9 10 2 15 18-4 15 0 1 21 6 13-3 0-1 4-17 23-2 0-1-8-31-1-1-8-16-8-2-7-10-26-6-6 11-26 5 0 1-2 2zM222 191l1 0 1 2 3 25 0 1 6 3 7 0 14-10-2-13 2-14-10-8-21 14zM181 256l14-15 0-1-6-4-1 0zM316 314l6 20 1 0 21 10-27 31 23 13 23-7 6 5-12 30-3 2-1 8-19 19-6-3-9-18-17-7-21 10-3 6-9 5 0 1-1 0 0 26-6 6-3 22 1 0 22-3 19 22-1 5-10 6-2 28 10 17 1 0 14-3 5-10 22-6 8-17 7 0 7-13 5-14-1 0-9-9-1 0-16-1-5-17 9-19 14 1 15 11 1 0 11 1-2 32 0 1 5 4-1 14 1 9 1 0 19-4 9-11 0-12 13-3 1 0 1-2 30-14 1-1-3-8 16-21 16 8 11-5 21 11 9-10 21 3 8-5 4-13 2-2 6-27-1-2 4-9-1 0-6-9-2-20 17-2 1 0 3-3 20 10 5 11-6 10 0 2 17 19 4 1 11 16-1 8 11 9 24-5 0-1-1-21-16-1-4-17-13-3-5-20-1-1-1-27-14-3-7-7-1-10-19-8-2-6 5-17-14-12-4 0-3 3-6 23-10 7 0 1 7 14-8 13-2 10-12 7-3 3-1 7-17 11-3 4-21 1-1 0 0 1-3 3 0 1 12 16-10 13-14-2-3-7-1 0-9-2-11-16-1 0-16 5-11-15 1-12 25-7 0-1-10-24 0-1-17-6-11-13-2 0-15 24-3 3-37-13-7-7 1-5 28-30-9-14 1-8-11-19-1 0-25 10-1 2 0 8 11 14-3 9-29 4zM522 438l-6-13 8-10 20 2 0 16-13 8zM380 422l7-3 0-1 2-21 25 10-3 18-10 4-1 0 0 1-2 17-3 4-21-13zM207 367l2 4 15 14 15 2 1 0 8-23 2-1 6-21-7-13-5-3-1 0-13 11-1 7zM266 394l40-17 1-1-7-11-14-13-13 5-5 5zM99 396l13 22-6 20-6 5 0 17 0 1 25 14-5 21 9 10 22 6 4-3 1 0 4-15 0-1-7-17 5-10 1 0-7-21 11-14 0-1-2-12 0-1-15-9-2-8-10-12-17-4-1 0-16 9-1 0zM205 548l14 22-3 6 0 1-1 16 6 4 22-3 0-1 5-16 17-5 0-1-3-18-7-10 9-20-3-5-1 0-33-4-1 1 5 23-20 4-6 5zM385 542l-1 0-10 3 0 1-1 4-25 12-1 0-2 17 19 12 6-4 4-8 26-9 9 26 1 0 18-17 14 1 8-6 1-15-19-15-1 0-12 6-5 5-8 1zM265 728l15 11-11 26 12 17 6 2 16-16 12-3 7-4 18 3 15-21 0-1-17-15-1-2-10-12-4 0-15-24-18 15-11-3 0 1-14 25zM401 746l-15 19-4 0-7 8-28 4-1-2-1 0-24 14-3 10-25-6-1 0-5 25 0 1 1 0 18 16 0 1 1 0 1-1 25-17 2 0 15-17 22 1 5-5 15 1 11 12-1 12-2 22 0 1 11 13-7 19 0 1 5 7 24 3 5 16 0 1 38 3 9-6 0-1 5-24 13-3 5-15 3-2 5-22-11-12 3-3 0-1-7-24-25 1-1-2 1-15 7-6 17-3 5-15-2-7-21-2-9-7 25-19-3-21-6-5 27-25 1-3-1 0-20-14-6 3-17-10-1 0-11 1-8-14 2-7 1-1 0-1 1-16-14-11-11 9-23-8-3 3-3 12 7 14 10 3 11 10-2 8-9 13-12 0-6 5 0 1-1 0 1 0 7 23 0 1 13 1 14-12 1 0 15 7-6 24 1 17-19 2-11 16zM457 822l5 3 0 1 0-1 13-1 5 5 0 4-6 21-23-1-2-16-1 0-16 0-4-11 7-13zM437 227l2 17 1 0 3 1 15 23 5 1 5 22 1 0 5 1 15 15 15-3 1 0 0-16-13-9-4-18-10-6-3-17 1-4-10-13-18-1-1 0zM395 274l14 18 21-18 0-1-7-14-7-2-17 6zM485 488l3 16 0 1 1 0 16 4 0-1 5-3 17-1 4-19-6-10-1 0-17 10-15-6 0 1zM520 534l-13-11-1 0-17 10-7-4-15 7-2 13 0 1 13 8 7 0 13-5 11 4 18 11 1 0 15-20-2-3-20-4zM639 128l21 12 4 8 30 5 7-22 0-1-19-16-1-5-31-2-11 17zM524 196l2 4 2 25 11 7 27-6 1 0-3-12-9-7 20-29-35-4-1 0zM596 228l9 19 0 1 35-14 1 0 0-1 1-3 7-7 3-20-7-8-24-5-17 7 0 7zM662 297l22 17 20-19 0-1-1-8 3-8 2-1 42 7 0-1-4-14 0-1-11-10-2-10-1 0-18-5-13 23-22-14-1 0-4 2 0 1-4 12 0 1 4 13-12 15zM580 477l1 0 13 7 1 0 14-4-1-13-14-12-1 0zM635 527l1 1 2 20-10 18-24 0-9-15-1 0-2-2-1 0-21 17-13-1-1 0-5 11 1 10 15 11 17-8 3-6 12-8 14 24 1 0 14-3 1 0 3-26 7 1 22 15 2 6 9 3 6 13 7 6 23-7 10 7 1 0 17-8 10-27 15-3-1-32 0-1-26-7-10 8-1 0-1 0-14 5-18-4-1 0-9 13-10 1-6-3-4-8 0-18 3-2 3-15 19-1 8 12 1 0 14-4 6-9 23 2 5-3 18 1 3-3 26-3 0-1 1 0 3-4 20 0 1 1 7 19 1 0 12 4 6 8-10 22-24-2-3 9 4 16-6 15-7 3-3 22 0 1 18 9 17-15 0-1-2-7 14-21-5-7 0-18 31 3 7-6 3 2 23 0 1 0-1-34 3-4 1 0-1 0-13-19-15 1-7 6-19-2-6-16 6-13-9-7-23 0-9-6 6-22 0-1-24-10-10 22-14 4-3-2-22 5-11-7-23 15-1 14-1 1-9 3-17-3-11 3-5 18-17 3zM533 515l14 14 15-4 0-1 1 0 2-3 1 0 0-1-1-5-15-9-1 0-16 5 0 3zM628 623l9 15 0 1 19 4 1 0 0-1 0-18 0-1-11-18-9-1-1 0zM562 636l1 0 12 5 24-9 1 0-14-16-19 2-1 0-3 5zM669 675l20-8 8 13 11-1 15-23 0-1-1 0-16-9-1 0-15 9-21-11-10 1-4 15-30 9-1 3 7 17 17 8 11-25zM538 662l4 16 0 1 11 8 1 0 15-7 0-4-13-23-1 0zM642 716l9 21 16 3-2 34 0 1 10 5 0 1 0-1 27-20 7-21 11-9 20 10 0 7 1 0 25 11 1 15 5 11 22-9 14-11-1-5-11-23 8-7 10-3 26 12 0 1 2 0 11-19-3-8-16-11-18-13-1 0-12 3-6-3-1 0-22 23 0 1 2 11-30 7-5-16-22 0-5-6-1 0-14 2-10-17-7-1-16 10-17-3zM521 785l1 0 9 21 2 1 1 0 21-15 0-10-13-18-3 0-17 21zM555 837l12 3 1 0 28-20 0-1 1-8 0-1-18-11-11 4 0 1-1 0-12 32zM609 831l0 21 1 0 9 3 13 31 1 0 0 1 5-1 19-23 1 0-8-18-3-2-11-22zM571 882l0 1 3 20 0 1 15 4 19-2 0-1 5-7 0-1-9-11-28-8zM849 294l3 13-24 7-6-19-14-3-1 0-13 17 0 9 1 0 16 11 0 4 10 29 8 0 13-9 3-11 3-5 13-8 3-10 18-8-3-28-18-4zM718 304l-1 0 1 1 6 15-7 11 3 24 29 5 0 20 7 7 8 19 9 6 7 0 3-2 6-16-12-17 1-8 0-1-1 0-21-14 3-8-13-22 19-10 4-19-4-8-1 0-13-2zM963 417l7 7-5 11 0 1 10 19-8 13 4 9 33-2-3-25 6-5 20-4 1 0 1-1-11-38 0-1-14-5-1-2 0-1-17-8-1 0-20 11zM895 604l28 31 16-4 1-2 37 6 11-11-7-20-13-6-2-7 3-18-5-9-18-4 0 1-24 19-4-1-23 19-1 6zM746 647l1 0 6 1 22-12 2-10-11-13-1 0-17 4zM826 646l0 1 2 13 1 0 22 7 1 1 1 0 2 1 39-3 1 0 1-2 1 0 0-1-7-11-30-27-2 0-4-2 0-1-8 1-1 0zM994 660l3 8 0 1 27 0 7 16-32 19 0 1 19 13 1 0 11-18 31-70-13 1-4 8-13 7-24-7 0-1 0 1zM736 688l11 9 14 1 0-1 11-23-10-9-1 0-24 21-1 0zM785 938l2 8 1 0 22-6 24-11 1 0 2-5-8-12-1 0-3 1-17 12-14 0z"/><path fill="#c78def" d="M407 90l-1 0 1 3 26 0 0 21 20 9 20-12 6 3 29-5 2-2-7-26 3-4 2-30-26-1-1-2-6 0zM382 250l17 13 17-6 1 0-6-19 0-1-28-5-1 0 0 1zM337 278l2-1 24-10 1 0 0-4 0-1-12-16-1 0-12 4-21-7-14 14-1 2-48 2-18 6-8 29-8 1-23-18 0-2-20-12-1 0-4 12-12 16-22 30-25 40-17 28 2 3 1 0 17-10 17 4 9 12 2 9 15 9 1 0 18-14 12 3 0-1 19-35 0-1-2-3 21-23 1-7 14-10 4 2 1 0 35 3 1 0 8-30 12-38zM354 342l6 7 38 13 1 0 3-2 15-25-8-6-9-16-17-6-28 30-1 0zM274 357l-18-15-1 0-6 21-2 0-8 23 0 1 9 7-11 31 23 14 9 0 9-5 1 0 3-7-16-32 0-1 2-32zM78 424l4 12 18 7 6-4 7-21-13-22-1 0-9 7zM68 532l6 12 0 1 26-7 2 1 3 13 1 0 29 10 2 4 32-8 2-1 1 0-1 0-22-26 2-19-21-7-9-9-1 0-28 5-8-4-6 0-7 5 0 1-6 17zM174 557l5 9 7 33-10 4-9 15 0 1 10 17-5 8 17 20-4 5-15 3 0 23-13 4-1 0 29 36 13 14 30 32 4-3 7 0 19-15 11 2 12-26-16-12-14 0-10 7-18-14 13-27 12 7 1 0 22-10 8 12 11 3 18-15 2-9 0-1-30-12 1-9 17-13-3-18 10-11-3-13-1-1-20-2-9-6 1-17-8-7-1 0-16 5 0 1-6 16 15 11-2 16 0 1 13 8 1 18-24 4-6 15-12 6-19-18-1-14 23-15-9-29-6-4 1-15 3-7-14-22 0-1-19-2-12 11zM370 618l7 2 27-8 2-12-36-13-1 0-5 3 0 2 5 26zM352 699l5 11 9 6 1 19-5 6 20 24 0 1 4-1 15-18 0-1-10-15 7-18-6-10-5-3-6-10-20-6zM326 868l0 1 18 12 11 4 10-17 2-1 14-20-12-17-23 1 1 14-19 16zM625 69l-33-6-1 12-12 8 25 29 1 0 13-8 21 20 11-17 30 3 2 4 19 17 6-2 12-20-9-3-57-25zM759 123l16 12 3 14 1 0 2 2 2 12-9 33-1 0-8 30 9 15 1 0 4 1 5 27-20 18 0 1 4 7-4 19 1 0 14 17 1 0 15-13-1-9 14-17 13 3 7 20 25-7 0-1-3-13 11-15 18 4 2 28 24 9-26 31 2 15 12 5 17-5 10 6 11 15 1 0 4 2 8-3 21 10 21-11-10-19 0-2 19-19-2-11 3-6 15-11-1-10 0-1-9-11 4-19 20-6 8 3 13-3 14 16 0 1 13 1 19-20 2 0 1 0 0-1-5-10-18-14-23-16-34-15-1 0-16 15-24-19-19 9-8 0-11 8 8 17-3 23-7 5-25-16 2-17-11-6-21-28-1-19 23-18 0-1-2-6-39-15-46-8-34-6zM629 159l1 3 1 0 24 5 0-1 2 0 7-18-3-8-22-12-4 3zM485 153l19 12 8 29 1 0 11 2 16-21 0-1-1-13-6-19-6-1-12-9-1 0-27 11zM634 278l1 0 0 1 35-11 5-13 0-1-29-6zM470 347l11 19 1 0 13-1 6 3 1 6-5 29 1 0 21-2 1 0 2-4 18-11 1-7-33-13 19-22 2-5 0-4-1 0-17-7-5-23-2-1 0-1-15 3 0 1-14 19zM568 376l-1 0 2 20 7 9 11-6 21 3 1 0 6-10-6-11-19-11-1 0-4 4-17 1zM734 537l26 7 8-10 14 0 8-21 0-9-1 0-27 4-2 2-19-1-4 4-3 23zM763 576l0 1 5 6 26 12 0 1 0-1 7-2 1 0 0-1 6-15-5-16 0-1-33 12-1 0zM515 590l0 1 0 20 14 6 9-5 3-16-20-8zM452 632l9 14 0 1 11-1 18 10 6-3 0-1 6-16-2-5-15-2-8-9-21 3-2 2zM570 681l9 19 0 7 0 1 10 11 21 0 0-1 2-16-1 0-8-10-1-15zM713 709l5 6 23 0 6-18-10-9-1 0-14 4 0 1zM500 770l13 14 1 0 0 1 8 0 17-20 0-1-2-1 0-1-1 0-31-7zM612 783l1 11 1 1 16 11 1 0 14-13 1 0 0-1-13-22-1 0-8-2-11 15zM674 780l7 27 3 4 16 0 2 1 13 22 27 0 0-26 6-9 0-1-15-14-19 2-12-27-27 21zM567 840l13 14-4 24 28 8 8 12-4 7 3 18-3 5 3 12 0 1 1 0 42 9 21 5 54 0 2-3-5-19-28 3-8-19 6-14-3-5-20-5-14 10-21-18-5 1-14-31 0-1-9-2 0-21-14-12-29 20zM747 860l19 16 19-4 1 0 20-19-12-23-1-1-1 0-16 14-25 0zM1109 362l0-1-1 0-1 1-15-14-1 0-27 9-8-6-16 8 0 1 0 11 5 8-2 19-26 3 0 1 11 38-1 1-20 3-1 0-5 5 0 1 2 25 1 0 3 5-12 29 4 4 31 7-27 34-8-9-23-3-9-14 10-21-5-7-19-3-13 9-15 2-9 12-12-2-4 4 0 1 1 34 14 5 7 18 4 1 24-20 18 4 4 8-2 18 2 7 13 6 6 20 1 0 14 6 5 9 24 7 13-6 0-1 4-7 13-2 14-29 0-4 3-2 2-5 15-50 2-10-6-1-4 3-28-6-11-15 11-13 4-21 3-1 17-5 18-25 7-2 1-26 0-43zM828 429l8 11 1 0 22 3 6 3 22-6 3-11 0-1-21-15 0-1-11 4-10-1-20 13zM840 489l6 16 19 3 1 0 6-7-18-26-9 1zM860 625l0 1 29 27 7 11 8-2 0-1 1 0 18-26 1 0-1 0-28-31-6 5zM850 712l2 8 17 7 6 17-27 8-1 6 21 25 5 1 3 12 0 1 20 17 7 0 14-27-20-12 5-9 0-25 11 2 1 0 19-12 0-1 0-3-19-19-8 0-15-12-5 3-22 0zM795 735l0 1 12 24 33-22-26-13-11 3 0 1zM949 744l1 19-1 3 0 1 7 13 0 15 8 10 11-15 31-54 13-18 0-1-1 0-18-12-1 0-16 17-4 0z"/><path fill="#dcaef6" d="M505 77l1 0 27 1 7 22 9 5 21-11 0-1 7-9 2-1 12-8 1-12-42-7-27-9-14-1-1 1-1 0zM392 104l35 15-4 8-3 19 16 18 7 2 1 0 7-7 4-25-2-11-19-9 0-21 0-1-1 0-26 1zM244 177l10 8-2 14 1 13 3 1 34-14 1 0-4-20 0-1-13-2-7-14zM249 329l-1 0 7 13 0 1 18 14 1 0 12-4 0-17-1-5zM151 444l0 1 7 21-6 10 7 18 1 0 23-9 6 4 1 0 20-16 6 16 16 5 7-5 19 6 0-1 2-1 3-22 5-6 1-26 0-1-9 0-23-13-9 2-1 0-12 17-19-6 0-28 0-1-5-3-11-3-1 0-19 14 0 1 2 12zM65 520l0 1 0-1 6-17 7-6 6 0 8 5 28-5 0-1 1 0 5-21-25-15-1-17-17-7-4-12-1 0-1 3-15 41-3 27zM74 544l10 21 21 51 10 18 16 31 14 11 1 0 12-9 1-16 14-7 5-8-11-17 9-16-20-13-16 2-8-8 5-18 0-1-2-3-29-10-4-13-1-1-1 0zM377 620l9 19 1 0 14 0 1 0 8-13-6-14zM390 731l11 16 16-1 11-16 0-1-10-11-1 0-19-5-1 0zM228 780l0 1 31 31 16 10 13-3 5-26-5-10-1 0-5-1-13-17-11-2-1 0-18 14-7 0zM542 857l1 22-24 9-4 22 1 0 13 8 15 5 1 0 6-2 5 5 56 15 0-1-3-12 3-5-4-18-19 3-14-5-1 0-22 17-7-40 26 3 5-5 5-24-1 0-12-15-13-3-2 0 0 1zM638 885l0 1 21 18 1 0 13-10 20 4 3 5-7 13 0 1 8 20 1 0 28-3 5-11 25-3 9-14-4-12-1 0-31-6-1-11 3-7-20-26-21 14-2 4-18 4-13-4 0 1zM707 129l24 11 12-23-24-8zM940 177l-1 0 8 40 0 1 8 0 19-9 24 19 17-16-39-17-1 1-3-3zM993 334l1 11-18 19 0 2 9 19 17 9 1 2 14 6 27-4 2-19-5-8-1-11 16-9 8 7 27-9 16 13 1 0 1 0-3-52-1-3 1-1-1-13-10-26-1 0-2 0-19 21-12-2-15-16-13 3-8-4-21 7-3 19 0 1 9 11 0 10-15 11zM860 329l19 22 1 0 26-31 0-1-24-9-1 0-17 9zM854 623l4 3 2 0 30-17 5-5 1-6-1 0-7-6-1 0-31-3-1 0 0 1zM705 638l0 9 17 9 8 0 10-8 7-1 1-30-12-11-18 8zM938 631l15 25 9 7 1 17-13 16 2 4 27 23 4 0 17-18 32-20-7-16-1 0-27-1-3-8 13-21-5-10-14-5-11 10-37-5-1 2zM841 738l0 1 7 14 28-9-7-17-17-7zM824 771l0 1 12 21-4 13-6 5-17-12-5 0-10-24-22 8-4 12 5 8 1 0 9 7 9 20 2 0 12 23 11 4 1 0 15-17 9 3 17-21 0-5 17-21-3-12-4-1-22-25zM877 838l22 17 14-4 6 9 19-20 4-5 0-1-18-4-2 1-19-17-7-1-19 24zM837 924l5 2 18-8 11-10 4-6 1 1 14-14 1 0-1 0-9-2 0-7-20-23-8-1-22 29-6-4-29 4-1 0-4 13-5 8 8 19 14 1 0-1 17-11 3-1z"/><use href="#mesh" stroke-width="2.8"/><use href="#r1" fill="none" stroke="#d9d2de" stroke-width="5"/><use href="#r2" fill="none" stroke="#9b9b93" stroke-width="10.5"/><use href="#ol" fill="none" stroke="#2a2a2a" stroke-width="9" stroke-dasharray="22 5"/></g>
<g fill-rule="evenodd" transform="translate(176.50 327.45) scale(.1012 .1006)"><use href="#ol" fill="#e3e3e3"/><path fill="#fdd0d0" d="M244 177l-21 14-1 0 1 0 1 2 3 25 0 1 6 3 7 0 15 35 0 5 49-2 0-3 14-13 0-1 1 0 4-15 0-1-1 0-15-18-10-2-6-8-4-20 2-2 26-6 6-10 0-1-2-15 0-1-8 0-41 16-3 2zM314 452l-1 0-17 2-18-21-9 5-9 0-23-13-9 2-1 0-12 17 3 14-7 8-1 7 6 16 15 5-4 20 0 1 33 3 4 5 0 1 26-1-2 28 10 17 1 0 14-3 5-10 22-6 8-17 7 0 7-13 5-14-1 0-9-9-1 0-16-1-5-17 0-1-18-1zM174 557l5 9 7 33-10 4-9 15 0 1 10 17-5 8 17 20 0 1 18-11 20 19-1 4-29 24 0 1 20 17 1 0 4 1 18 15 1 0 11-7 13 0 15-26 10 3 18-15 2-9 0-1-30-12 1-9-11-12-1-18 0-1-14-8 3-16-15-11-22 3-6-4 1-15 3-7-14-22 0-1-19-2-12 11zM759 123l16 12 3 14 1 0 2 2 2 12-9 33-1 0-8 30 9 15 1 0 4 1 5 27 17 8 1 0 11-11 6-18 4-3 11 5 27-22 7 14 0 4 26 19-2 7-13 11 2 27-17 9-4 10 19 22 1 0 26-31 3 0 10 8 0 1 10 1 1 0 20-15-14-29 34 6 1 0 3-26 5-4 25 14 21-6 8 3 13-3 14 16 0 1 13 1 19-20 2 0 1 0 0-1-5-10-18-14-23-16-34-15-1 0-16 15-24-19-19 9-8 0-11 8-11 0-1 0-14 12-10-6-21-28-1-20-17-22-6 0-12 12-17-1-17-27 3-4 1 0 1-5-34-6zM1064 357l4 16 0 1 17 11-10 18-22 2 0 1-8 29 0 1 14 8 4 33 3-1 17-5 18-25 7-2 1-26 0-43 0-13 0-1-1 0-1 1-15-14-1 0zM942 456l5 7 1 0 19 6 0-1 8-12 0-1-9-20-1 0-21 10z"/><path fill="#f95e5e" d="M936 286l-1 0 15 29 8 0 9 17 0 1 26 2 0-1 3-6 15-11-1-10 0-1-9-11 4-19-1 0-25-15-5 5-4 25zM976 366l9 19 17 9 1 2 14 6 27-4 2-19-5-8-1-11 0-1-14-10-14 5-17-9-1 0-18 19zM345 579l3-17-8-14-23 7-4 10-14 2-1 0-1 3-24 8-2 17-13 9-1 0-2 16 0 1 13 8 1 18 11 13 1 0 16-14 14 4 1 0 14-11-1-15 10-9 0-1-10-22 4-11z"/><path fill="#fb9a9e" d="M322 139l-3 5 0 1 2 15-6 11-26 5 0 1-2 2-1 0 4 20 7 9 10 2 15 18-4 15-14 14-1 2 0 1 1 4 1 0 32 14 2-1 24-10 1 0 0-4 0-1-12-16 4-17 23-2 3 6 0 17 17 13 17-6 1 0-6-19 9-19 0-1-4-9-8-5-6-13 1-7-15-23-7-1-7-13 9-30-2-6-4 1-17 13-17 6zM634 278l1 0 0 1 35-11 4 13-12 15 0 1 22 17 20-19 0-1-1-8 3-8 0-1-5-11-22-14-1 0-3 2-29-6zM313 452l4 24 0 1 18 1 9-19-9-14-7-3zM205 548l14 22-3 6 0 1-1 16 6 4 22-3 0-1 5-16 17-5 0-1-3-18-7-10 9-20-3-5-1 0-33-4-1 1 5 23-20 4-6 5zM156 699l29 36 13 14 2-6 18-24-21-18 30-23 0-1 1-4 0-1-20-18-1 0-18 10-4 5-15 3 0 23-13 4zM707 129l24 11 4 10 21 7-6 16-25 15 0 1 13 19 0 5-1 1 0 27-5 7 2 10 12 11 4 14 0 1 1 1 13 3 1 0 20-19-5-27-5-2-9-14 7-29 1-1 1 0 9-33-3-13-2-1-4-14-16-12-16-6-24-8zM1107 362l1 0 1 0-3-52-1-3 1-1-1-13-10-26-1 0-2 0-19 21-12-2-15-16-13 3-8-4-21 7-3 19 0 1 9 11 0 10-15 11-2 6-25-2-9-18-9 1-21 14-10-1-9-9-1 0-3 0 0 1-1 0-26 31 2 15 12 5 17-5 10 6 11 15-28 21-1 11 19 7-1 27 0 1 3 4 19-2 1 0 2-11 20-9 10 19-8 13 4 9 33-2-3-25 6-5 20-4 1 0 1-1 16-4 1 0 0-1 7-29 22-2 11-19 0-1-17-11-4-15 26-9zM1012 355l14-5 14 10 0 11 5 8-2 19-26 3-13-5-1-2 0-1-17-8-10-19 0-2 19-19zM745 323l0 1 14 22 18-9 3-6-15-18z"/><path fill="#dd0707" d="M470 90l3 21-20 12-19-9 0-21 0-1-1 0-25 1-1-3-26 19-1 2 2 6-9 30 8 13 6 1 1 0 15-13 17-1 16 17 7 2 1 0 6-7 32-4 3-2 3-10 26-10 12 8 1 0 6 2 16-13 1-25-1 0-8-5-7-22-1 0-27-1 2-30-26-1-8 24 0 1 3 10zM538 161l1 13 0 1 1 0 36 3 0-1-2-24-1 0zM415 209l4 10 18 8 2 17 1 0 4 1 31-6 1-5 13-5 26 12 1 0 13-16 10 7 9 22 17-2 10 10 11 0 19-15 0 1 35-14 6 15 29 6 4-3 3-14 0-1-7-7 7-35 6-5 2 0 4 1 12 34 0 1 31-11 2-2 0-5-14-20 26-15 6-16-22-8-4-9-24-11-6 1-19-16-1-5-31-2-4-20 0-1-1 0-23-6 0-1-1 0-30-4-12 8 25 29-7 15 6 7 0 16 1 4-12 31 3 5 9 7 0 7-8 23-26 2-3-3-3-12-9-7 0-1-28-6-3-4-11-2-7 1-2 0-36 17-7-23 0-1-12-6-8 11z"/><path fill="#f22626" d="M505 77l1 0 27 1 7 22 9 5-1 25-15 12-6-1-12-9-1 0-27 11-2 10-3 2-32 4-7 6-7-2-15-17-18 2-1 0-15 13 16 23-1 7 6 13 7 5 1 0 26-15 0-1 7-10 12 6 6 23 37-17 2 1 7-2 11 2 2 4 1 0 28 7 8 7 3 12 4 4 26-2 1 0 8-24 0-7-1 0-9-7-3-5 13-31-1-4-1-16-5-7 7-15-26-29 12-7 30 4 1 1 23 6 5 20 30 3 2 4 19 17 6-2 12-20-9-3-57-25-28-12-33-6-42-7-27-9-14-1-1 1-1 0zM539 162l34-9 3 24-2 0-34-3zM407 90l-1 0 1 3 26 0 0 21 20 9 20-12 1 0-3-21 7-9 0-1-3-10 8-24-2-2-6 0zM254 543l7 10 3 18-16 5 0 1-6 16 16 12 14-10 1-16 24-9 2-2-10-18 2-27-1 0-26 0z"/><path fill="#7b7bf0" d="M579 799l17 12 0 8-29 20-12-3-2 0 0 1-11 20-31 0-3 2-6 14-12 3 0 1-5 24-9 7 24 2 13 4 3-3 13 7 15 5 1 0 6-2 5 5 56 15 42 9 21 5 54 0 2-3-5-18 5-11 25-3 9-14-4-12-1 0-31-6-1-11 3-7-19-26 3-10 0-1-12-21-2-2-1 0-15 0-4-3-15-1-20-13 0-1-13-22-1 0-8-2-11 15-23-9-10 7 0 1z"/><use href="#mesh" stroke-width="3.6"/><use href="#r1" fill="none" stroke="#a9a9a9" stroke-width="5"/><use href="#r2" fill="none" stroke="#757575" stroke-width="8.5"/><use href="#ol" fill="none" stroke="#2a2a2a" stroke-width="9" stroke-dasharray="22 5"/></g>
<g fill-rule="evenodd" transform="translate(340.40 327.45) scale(.1012 .1006)"><use href="#ol" fill="#e3e3e3"/><path fill="#fdd0d0" d="M707 129l24 11 4 10 21 7-6 16-25 15 0 1 13 19 0 5-1 1 0 27-5 6-18-4-13 23 4 12 1 0 2-1 42 7 1 1 13 3 4 7-4 19 1 0 14 17 1 0 15-13 17 11 16-13 0-1-6-20-14-3-6-15 11-11 6-18 5-3 0-31-13-7 0-16 15-19 17 1 12-11 6 0 16 22 1 0 23-18 0-1-2-6-39-15-46-8-34-6-21-7-16-6-24-8z"/><path fill="#fb9a9e" d="M810 207l1 0 12 7 0 30-4 3 0 1-6 18-12 10 0 1 6 15 1 0 13 3 7 20-1 1-15 13-1 0 0 4 10 29-11 7-1 0-2 13 15 18 0 1 1 0 0-1 21-12 1 0 18-3 6 14 0 14 20 16-2 11 33 14 3 4 19-2 5 7 1 0 19 5 4 9 33-2-3-25 6-5 20-4 1 0 1-1-11-38 0-1-14-5-1-2 0-1-17-8-1 0-20 11-21-11-8 3-4-1-12-16-10-6-1 0-16 5-12-4-1-15 26-31 0-1-24-9-3-27 13-10 0-1 3-7 0-1-26-18 0-4 31-10 0-1-21-28-1-20-17-22-6 0-12 12-18-1-14 19zM1045 435l0 1 14 8 4 33 3-1 17-5 18-25 7-2 1-26-32-11-2-3 0-1-22 2 0 1z"/><path fill="#f95e5e" d="M877 183l1 20 22 28-32 11 0 4 26 19-2 7-13 11 2 28 24 9-26 31 2 15 12 5 17-5 10 6 24-19 1-6-15-18 20-14-14-29-3-2 1-14-25-16 2-16 14-12 11 0 12-8 0-1-8-40-15-7-26-11-1 0 2 6zM1077 408l31 11 1 0 0-1 0-43 0-13 0-1-1 0-1 1-15-14-1 0-27 9-8-6-16 8 0 1 0 11 5 8-2 19-26 3 0 1 12 38 16-4 1 0 0-1 7-29 22-2z"/><path fill="#f22626" d="M940 177l-1 0 8 40 0 1 8 0 19-9 24 19 17-16-39-17-1 1-3-3zM908 254l1 0 25 16 8-4 0-1 2-23-7-17-1 0-11 0-1 0-14 12zM1073 288l19-20 2 0 1 0 0-1-5-10-18-14-1 0-2 6-12 4-11 17-13 3-8-4-21 6-25-14-5 5-4 25-34-5-1 0 14 29-20 14 16 18-2 6-23 18 0 1 11 15 1 0 4 2 8-3 21 10 21-11 16 9 1 2 14 6 27-4 2-19-5-8-1-11 16-9 4-25-12-8 13-31z"/><path fill="#dd0707" d="M1004 276l21-6 8 3 13-3 11-17 12-4 1 0 2-5 0-1-23-16-34-15-1 0-16 15-24-19-19 9-8 0-11 8 8 17-3 23-7 5-1 14 2 2 1 0 34 6 1 0 3-26 5-4zM1047 319l1 0 11 7-4 25 1 0 8 7 27-9 16 13 1 0 1 0-3-52-1-3 1-1-1-13-10-26-1 0-2 0-19 21-12-2-1 0-13 32z"/><use href="#mesh" stroke-width="3.6"/><use href="#r1" fill="none" stroke="#a9a9a9" stroke-width="5"/><use href="#r2" fill="none" stroke="#757575" stroke-width="8.5"/><use href="#ol" fill="none" stroke="#2a2a2a" stroke-width="9" stroke-dasharray="22 5"/></g>
<g fill-rule="evenodd" transform="translate(0.0 436.8) scale(.1)"><use href="#ol" fill="#a561e1"/><path fill="#dcaef6" d="M478 427l0 1 3 6-6 21-22-10-1 0-11 15 4 11 14 6 3 8 0 1-31 13-1 3-13 2 0 1-1 12-8 11 11 22-5 5-8 1-1 0 0 1-5 13-1 0 1 0 9 26 0 1 0 1 22 8 2 6-13 16 0 1 11 10 22-7 2-7 1-1 0-1 1-15 18-18 7 2 1 0 6-4 14-5 12 8 0 20 14 5 0 20 0 1 30 3 4-4 12 5 24-9 4 1 7-9 18-1 9 15 0 1 19 4 1 0 0-1 0-18 0-1-11-18 17-13 1 0-3-6 9-27 10 0 0-1 10-13-2-8 0-1-25-9 3-14-6-10 5-18-12-8-3-20-10-9 1-8-11-17 10-13 0-1-5-20-1-1-19 4-6-11-19-11 1-7-11-16-15-1-6-15-16-8-15 12 0 4-1 4-20 23-6 2-5-3-1 0-13 1-1 0-3 3-21 10-1 0-1 0-24 8-1 0-1 12 12 15 16-4 1 0 5-9 20 2 6 4zM659 548l-20 0-2-20 22 2zM468 682l11 3 9 9 1 0 27-25 1-3-1 0-20-14-6 3-17-10-1 0-11 1-1 3zM672 405l8 19 7 0 13 13 1 0 18-5 0-20-16-6-6-16 0-1-8-1z"/><path fill="#c78def" d="M351 246l13 17-1 3-25 10-1 2 0 8 11 14-3 9-29 4 0 1 6 20 1 0 21 10 10-1 6 6 38 13-8 25-4 3-16-4-7-6-23 7-23-12-11 1 0 9-4 32-21 10-3 6 0 1 18 20-2 16-8 5-18-10-6 6-3 22 1 0 22-3 19 22-1 5-10 6-2 28 10 17 1 0 14-3 16 16-5 11 0 1 10 21 0 1-10 9 1 15 3 1 28 1 5 14-9 13 0 1 9 15 0 1 19 6 6 10 6 2 5 10 20 6 1 0 5-21-1-7 14-12 1 0 15 7-6 24 1 17 9 5 3 4 14 3 9 7 21 2 8-15-13-13-3-21 29 2 5 5-6 22-4 4 17 31 3 2 3-1 7-7 3-22 3-3 0-1 1-14 23-9 10 11 21 0 1 1 3 26-27 6-1-1-21 7 9 22 6 2 10-7 23 9 0-1 11-15-2-16 29-15 16 3 6-3 1 0 5-10 15-9 5-8-10-17 8-13 0-1-7-13-21 9-10-3-3-11 3-16 10-1 21 11 16-8 16 9-15 23 15 14 15-5 0-2-7-30 10-8 7-1 1-30-12-11 10-27 15-3 2 1 7-4 33-12 3-9-4-9-12-3-8-6-14-1-8 10-25-7 3-23 4-3 18 1 3-3 26-3 0-1 1 0 3-4 20 0 1-30-9-8-1 0-2 1-15 20-21-6-1-1-1-19 13-5 11-22-8-18 0-1-7 0-8-5-8-19-8-7 0-20 0-1-28-4-3-24-1 0-35-3 2-14 0-1-21-16 11-16-4-14-35 11-7 1-4 5-7 22-22 4-14-12-4 0-12-16-24 0-1 0-2 20 0 1 4 8 1 13 15 8 7 14 15 1 10 16-1 7 0 1 20 10 5 11 1 0 19-3 1 0 4 20-10 14 0 1 11 16-1 8 11 9 3 20 0 1 12 7-5 18 5 10-3 15 26 9 1 8-9 13-10 1-9 27 2 6-18 13 11 19 0 18-18-4-9-15 0-1-19 1-7 10-4-1-24 8-12-5-4 4-29-3-1-20-13-6-1-19 0-1-12-8-15 5-6 5-7-2-19 17 0 16-2 2-2 7-21 6-10-9 13-16 0-1-2-6-23-9 1-1 0-1-10-25 6-13 8-2 5-5-11-22 9-11 0-12 13-3 1 0 1-2 30-14 1-1-4-8-13-6-4-11 11-15 23 11 0-1 6-21-3-6 11-21-6-5-21-2-6 9-16 5-11-15 1-12 25-7 1 0 22-11 3-3 13-1 6 3 6-1 20-23 2-5 0-4-1 0-17-7-5-23-1-1 0-16 22-18 1 0 0-1-13-14 1-14 0-1-27-12-13 6-1 0-1 4 0 1 3 16-14 13 0 1 5 22-10 9-17-6-6-17 0-1-5-3-21 18-14-17 4-11-17-13 1-17-3-6-1 0-23 1-1 0zM490 656l6-3 20 14-1 2-26 25-1-1-9-9-10-2-8-33 0-3 11 0zM697 390l5 16 0 1 1 0 16 6 0 18-18 6-14-13-7-1-7-18 16-17zM636 528l2 20 22 1 0-19-23-2zM774 636l18 17 1 0 17-19-1-7-18-10-14 9z"/><path fill="#7a31d2" d="M266 162l8 15 13 2 3 20-34 13-2-1-2-12 2-14-10-8-21 14-1 0 1 0 1 2 3 25-19-1-9-9-11 28-7 20-4 9-4 12-12 16-22 30-25 40-17 28 2 3 0 2-9 7-12 21-1 3-15 41-3 27 6 25 0 1 0-1 6-17 7-6 6 0 8 5 28-5 9 9 22 6-3 19 23 26 3 0 12-11 19 2 6-6 21-3 0-1-5-23 0-1 5-21-16-5-5-15 1-6 7-9-3-14 12-17 9-2 1 0 10-31-8-8 8-22 2-1 6-21-7-13 35 3 1 0 8-30 12-38 32 14 2-1 24-10 1 0 0-4 0-1-12-16 4-17 23-2 0-1-7-30 30-5 6 13 7 5 1 0 26-15 0-1 7-11 1 0-1 0-5-16 6-7 32-4 3-2 19 12 8 29 1 0 11 2 16-21 0-1-1-12 34-9 3 25 16 7 13-30 24 4 1 3-9 28 24 6 6 7-3 20 1 0 26 7 7-35 6-5 2 0 4 1 12 34 0 1 31-11 1-2 27 13 9 15 1 0 5 1 21-31 10-4 12 7 0 30-4 3 0 1-6 18-12 10 0 1 6 15-13 17 0 9 1 0 16 11 0 4 10 29 8 0 13-9 3-11 3-5 13-8 18 22 2 15 12 5 17-5 10 6 11 15-28 21-1 11 19 7-1 27-33-14 3-10 0-1-21-15 0-1-11 4-10-1-20 13 0 1 8 11 1 0 22 3 6 3-9 27-2 2 18 26 15 0 13 18-4 3-27 19 2 14 3 2 23 0 14 5 7 17-23 18-7-5-1 0-31-3-1 0 0 1-1 33 4 3 2 0 30-17 5-5 28 31 16-4 1-2 37 6 11-11-7-20-13-6-2-7 3-18 31-7 5-3-2-8 27-35 0-1-31-7-4-3 13-29 0-1-4-5-33 3-4-9 8-12 0-1-9-20 5-11 0-1-1 0-7-6 2-21 21-11-10-19 0-2 19-19-2-11-25-2-9-18-9 1-14-29-3-2 1-14-25-16 2-17-11-6-21-28-1-20-17-22-6 0-12 12-17-1-17-28-1 0-27 6-2-1-4-14-16-12-16-6-1 0-11 23-24-11 12-20-9-3-57-25-28-12-33-6-42-7-27-9-14-1-1 1-26-1-1-2-6 0-68 46-26 19-1 2-3 1-17 13-17 6-21 8-3 5-8 0-41 16-3 2zM207 367l-15-5-2-10 13-31 27 16-1 7zM221 596l-6-4-22 9-7-2-10 4-20-13-16 2-1 35-2 2-11 4-2-1-9 2 16 31 14 11 1 0 12-9 1-16 14-6 16 19-4 5-15 3 0 23-13 4-1 0 29 36 13 14 30 32 31 31 15 10-1 4 15 14 38 29 18 12 11 4 36 13 47 7 38 3 24 2 13 4 3-3 13 7 15 5 1 0 6-2 5 5 56 15 42 9 21 5 54 0 2-3-5-18 5-11 25-3 9-14-4-12-1 0-31-6-1-11 3-7 16-10 5-17 24 1 1 0 16-14 1 0 12 23-21 18 0 1 10 13 1 0 29-3 6 3 2 6-5 21 0 1 9 11 5 2 18-8 11-10 4-6 1 1 14-14 1 0-1 0-9-2 0-7-20-23-7-1-12-14 17-20 0-5 17-21-3-12-4-1-22-25 1-5 27-9 6 4 20-7 1 0 0 25 22-2 0-1-10-21 19-11 0-1 0-3-19-19 19-20-5-10-24-17-8 2-2 2-39 3-2-1-1-1-23-6-7 4-7 24 0 1 18 13 17 10 2 8-10 18-2 0-26-13-11 3 0 1-8 6-8-2-11-10-30 7-6 9 0 8-6 8 3 14-4 15-19 2-12-27-27 21-1 0 7 27-15-1-21-13-15 12 0 1 5 15-25 10-14-12-29 20-12-3-2 0 0 1-11 20-31 0 5-22-11-12-25 6 0 4-6 21 2 15-17 9-14-5-12 15-24-4-4-7 7-19 0-1-12-13 4-34-12-12-15-1-1 0-4 4-23-1 0 1-14 17-2 0-25 17-1 0-19-17 5-25-5-9 15-16 12-3 7-4 0-1-2-15-1 0-17-16 0-3-12-22-10-3-9-11-22 9-13-7-14 28-4-1-21-18 30-23 0-1 1-4 11-7 1 0 5-14 25-5-1-18 0-1-14-8-15 8-10-3zM761 697l0 1 13 14 23-23 0-1-11-16-15 2-10 23-1 0z"/><path fill="#5b12bf" d="M707 129l24 11 12-23-24-8zM759 123l16 12 3 14 1 0 2 2 27-6 17 27 18 1 12-11 6 0 16 22 1 19 22 29 10 6-2 16 1 0 25 16-1 14 2 2 15 29 8 0 9 17 0 1 26 2 1 10-18 19 0 2 9 19-20 11-2 21 7 7-5 11 0 1 10 19-8 13 4 9 33-2 3 5-12 29 4 4 31 7-27 35 2 7-5 4-31 7-1 0-2 18 2 7 13 6 6 20-10 10-37-5-1 1-16 5-19 26 23 17 6 10-19 20-1 0 1 0 18 19 0 3-19 12 10 21-21 2 0-24-1-1-20 7-5-3-1 0-27 8-1 6 21 25 5 1 3 12-18 21 1 5-18 20 0 1 12 13 0 1 8 0 19 24 1 7 9 1 10-9 19-20 19-20 4-5 22-30 11-15 31-54 13-18 11-18 31-70 14-29 0-4 3-2 2-5 15-50 2-10 6-30 5-56 1-26 0-43 0-13-3-52-1-3 1-1-1-13-10-26-5-10-18-14-23-16-34-15-1 0-38-17-1 1-3-3-32-16-15-7-26-11-39-15-46-8-34-6zM244 177l10 8-2 14 1 13 3 1 34-14 1 0-4-20 0-1-13-2-7-14zM199 208l9 10 20 1 0-1-4-25-1-2-23 15zM65 520l3 12 6 12 10 21 21 51 10 18 0 1 9-2 2 1 12-4 0-1 2-2 0-34 16-2 20 12 10-3 7 2 22-9 1-16 3-7-14-22 0-1-19-2-12 11-3 0-22-25 2-19-21-7-9-9-1 0-28 5-8-4-6 0-7 5 0 1zM131 665l4 7 21 27 1 0 0 1 0-1 13-4 1 0 0-23 14-2 4-6-16-20-14 7-1 0 0 16-12 8-14-10zM806 853l-12-23-1-1-1 0-16 14-25 0-4 16-16 11-4 6 0 1 2 11 31 6 5 12-10 14-24 2 0 1-1 0-4 10-1 0 0 1 5 18 10 3 10 0 38-9 22-6 24-11 1 0 2-5-8-11 5-22-3-6-6-4-29 4-10-14z"/><use href="#mesh" stroke-width="2.8"/><use href="#r1" fill="none" stroke="#d9d2de" stroke-width="5"/><use href="#r2" fill="none" stroke="#9b9b93" stroke-width="10.5"/><use href="#ol" fill="none" stroke="#2a2a2a" stroke-width="9" stroke-dasharray="22 5"/></g>
<g fill-rule="evenodd" transform="translate(176.50 436.65) scale(.1012 .1006)"><use href="#ol" fill="#e3e3e3"/><path fill="#a9a9f8" d="M266 394l2-32 6-5 12-4 14 13 6 10 0 1 11-2 27-31 1 0-1 0-21-11-7-19 29-4 1 0 0-1 3-9-11-14-1-8-32-14-1 0-12 38 1 0-9 29-35-2-1 0 7 13-6 21-2 0-8 23-15-2-14-14-2-3-1 0-15-5-1 0-16 10-3 0-29 28 2 8-12 8-20 1 0 1-7 20-6 5 0 17 0 1 25 14-5 21 9 10 22 6-3 19 23 26-2 1-32 7 0 1-6 18 9 9 16-2 20 12-9 15 0 1 10 17-5 8 17 20 0 1 18-11 20 19 1 0 11-7 1 0 5-14 24-5 11 12-1 9 0 1 30 12-1 8 0 1 15 23 4 1 10 11 1 3 17 15 7-1 20 23 0 1 4-1 16 13 15 1 1 0 0-1 4-21-1 0-4-11 11-16 0-1-10-11-1 0-19-5-6-10-5-3-6-10-20-6-8-16 9-13-6-14-28-1-2-1-1 0-14 11-13-5-3-17 10-11-3-13-1-1-20-2-9-6 1-17-8-7-3-18-7-10 9-19 26-1 10-5 0-1 2-5 0-1-1 0-18-22-1 0-22 4 3-22 5-6 1-26 9-5 1 0 3-7-16-32zM416 257l1 0-6-19 0-1-28-5-3-5-1 0-23 1-1 0-4 18 13 17-1 4 12 18-1 8 0 1 9 13 17 7 9-16 0-1 1-5-1 0-14-18 4-11zM832 558l1 19 5 6 0 1 14 1 3 5-1 32-8 1-1 0-19 23 0 1 2 13 1 0 22 7 1 1 1 0 2 1 39-3-4 30 0 1 1 0 15 11 8 0 18 19 0 3 0 1 1 0 16 13 1 0 29-21 4 0 17-18 18 13 1 0 11-18 31-70 14-29 0-4-26-6-1-5-28-13-1-4-1 0-13-7-5 4-31 6-5-8-18-4 0 1-24 19-4-1-7-17-14-5-23-1-3-2-7 6z"/><path fill="#1414dc" d="M537 762l-1 0-31-7-2-7-21-2-9-8-14-2-2-4-9-5-1 0-19 2-11 16 0 1 4 11-4 21 0 1 12 13 5 21-6 12-26-3-2 22 0 1 11 13-7 19 0 1 5 7 24 3 12-15 14 6 17-10-2-15 7-21 0-3 24-6 10 11-4 22-3 2-6 14-12 3 0 1-5 24-9 7 24 2 13 4 3-3 13 7 15 5 1 0 6-2 1 0 0-1 23-16 0-1-4-20 5-5 28 8 8 12 1 0 8-3 32 39 1 0 6-13 0-17-22-19 19-22 13 4 18-5 10 12-5 24 3 5-7 13 0 1 8 20 1 0 28-3 4 18 10 3 10 0 38-9-2-8 9-13-9-19 0-1-21 1-4-12-1 0-31-6-1-11 3-7-19-26 3-10 0-1-12-21-2-2-1 0-15 0-4-3-15-1-20-13 0-1-13-22-1 0-8-2-11 15-1 0 1 11 1 1 16 11 5 15-25 10-14-12 1-8 0-1-17-11 1-17 0-1-1 0-5-2-10-21-16-1-7 7-3 0-2-1zM534 807l21-14 12 11-12 32-2 0z"/><path fill="#f6a3a3" d="M653 81l-28-12-33-6-42-7-27-9-14-1-1 1-1 0-2 30 1 0 27 1 7 22-31 6 0 1-1 2 6 24 12 8 1 0 6 2 5 18 1 13 0 1 1 0 34 3-19 29 8 7 3 12 4 4 26-2 9 19 0 1 35-14 1 0 0-1 1-3 7-7 26 7 6 8-3 14 23 14 13-22 18 4 1 0 5-7 0-27 0-1 27 13 9 15 1 0 4 1 5 27 17 8 1 0 11-11 6-18 4-3 11 5 27-22 7 14 32-10 0-1-21-28-1-19 23-18 0-1-2-6-39-15-46-8-34-6-21-7-16-6-24-8-9-3z"/><path fill="#7373f0" d="M303 259l0 1 1 4 1 0 32 14 2-1 24-10 1 0 0-4 0-1-12-16-1 0-12 4-21-7-14 14zM243 327l1 0 4 2 1 0 35 3 1 0 8-30-3-1-42 7-3 2-2 16zM175 373l17-10 0-1-2-10 13-31-1-2-22-12-3 0-16-14-22 30-25 40-17 28 2 3 0 2-9 7-12 21-1 3-15 41-3 27 6 25 3 12 6 12 10 21 21 51 10 18 16 31 4 7 21 27 29 36 13 14 2-6 18-24-21-18 30-23 0-1 1-4 0-1-20-18-1 0-18 10-16-20 5-8-11-17 9-16-20-13-16 2-8-8 5-18 32-8 2-1 1 0-1 0-22-26 2-19-21-7-9-9 5-21-25-15-1-17 6-4 7-21 20-2 13-7 0-1-2-8 28-28zM271 690l8 12 11 3 12 21-1 3 18 17 3 14 0 1 18 3 15-21 0-1-17-15-1-2-10-12-4 0-15-24 2-8 0-1-31-12-7 8zM375 773l1 24 1 0 15 1 11 12-1 12 0 1 26 3 7-13-5-22-12-13-1 0-15-1-16-12-4 0zM895 665l-1 0-39 3-2-1-1-1-23-6-7 4-7 24-12 3-6-3-1 0-22 23-13-14-14 0-1 0-6 17-22 0 0 1 2 15 20 10 0 7 1 0 25 11 1 15 5 11-4 11 5 8 1 0 9 7 9 20 2 0 12 23 11 4 1 0 15-17 9 3 17-21 0-5 17-20 20 17 7 0 14-27-20-12 5-9 22-2 0-1-10-21 19-11 0-1 0-3-19-19-8 0-15-12z"/><path fill="#4545e8" d="M244 177l-21 14-23 15-1 2-11 28-7 20-4 9-4 12-12 16 15 15 4 0 22 12 0 1-13 31 2 10 0 1 16 4 2 4 15 14 15 2 1 0 8-23 2-1 6-21-7-13-5-3 1-16 3-1 42-7 3 0 12-38-1-5 0-2 14-13 21 6 13-3 0-1 4-17 23-2 0-1-8-31-1-1-8-16-8-2-7-10 6-22 0-1-9-12-1 0-21 8-3 5-8 0-41 16-3 2zM197 701l0 1 20 17-18 24-1 6 30 32 31 31 15 10-1 4 15 14 38 29 18 12 11 4 36 13 47 7 38 3 9-6 0-1 5-24 13-3 5-15 3-2 5-22-11-12-25 6 0 4-6 21 2 15-17 9-14-5-12 15-24-4-4-7 7-19 0-1-12-13 4-34-12-12-15-1-1-24 6-8-20-24-7 1-15 22-18-4-2-15-1 0-17-16 0-3-12-22-10-3-9-11 2-14 7-7 1-10-11-12-1 0-24 4-6 15-12 6 0 1-1 4zM579 799l17 12 0 8 0 1 13 12 1 0 26-11-5-15 0-1-17-11-1-11-23-9-10 7 0 1zM533 807l20 30 2 0 13-33-13-12-1 0zM571 882l0 1 3 20-23 17 0 1 5 5 56 15 42 9 21 5 54 0 2-3-5-19-28 3-8-19 6-14-3-5 5-24 0-1-9-11 0-1-19 5-13-4 0 1-19 22 0 1 21 18 1 17-7 12-32-38 0-1-8 3-9-11-28-8zM975 790l31-54 13-18 0-1-1 0-18-12-1 0-16 17-4 0-30 22-16-14-20 12 10 21-21 2 0 1-5 9 0 1 20 11-14 27-7-1-20-17-18 21 1 5-18 20-8-3-1 0 0 1-15 16-11-3-12-23-1-1-9-19-1 0-9-7-5-8 4-11 0-1-5-10-1-16-1 0-25-10 0-8-20-9-1 0-12 9-7 20-26 21-1 0 7 27 3 4 16 0 2 1 12 21-3 11 20 26-4 6 0 1 2 11 31 6 5 12 21 0 8 19-9 13 2 8 1 0 22-6 24-11 1 0 2-5 5 2 18-8 11-10 4-6 1 1 14-14 10-9 19-20 19-20 4-5 22-30z"/><use href="#mesh" stroke-width="3.6"/><use href="#r1" fill="none" stroke="#a9a9a9" stroke-width="5"/><use href="#r2" fill="none" stroke="#757575" stroke-width="8.5"/><use href="#ol" fill="none" stroke="#2a2a2a" stroke-width="9" stroke-dasharray="22 5"/></g>
<g fill-rule="evenodd" transform="translate(340.40 436.65) scale(.1012 .1006)"><use href="#ol" fill="#a9a9f8"/><path fill="#d3d3fd" d="M373 147l8 13 6 1 1 0 15-13 18-2 2-19 4-8-34-15 14-11 1 0-1-3-26 19-1 2 2 6zM567 226l-1 0-27 5-10-6-2-25-3-4-11-2-7 1-2 0-37 17-1 9-18-1-1 0-10 7 2 17 1 0 4 1 30-6 3 16 0 1 1 0 9 5 5 18 13 9-1 16 2 2 4 22 1 0 17 8 0 3-1 4-20 23-6 2 1 6-5 29-3 3 0 1 12 16-10 13-14-2-1 0-6 21 1 0 16 9 11-5 21 11 9-10 21 3-4 21-19 0-6-9-1 0-17 10-15-6 0 1-7 8 3 16 0 1 1 0 16 3 1 15 0 1 13 11 2 6 0 1 20 4 2 2-16 20 4 5 20 3 6-11-3-9 10-11-1-21 2-3 23 8 0 15 3 5 3 2 9 16 1 0 23-1 1 1 1 0 10-19-2-20 22 2 0 19 5 7 6 3 10 0 0-1 10-13 18 5 15-5 1 0 1 0 10-8 0-1 3-23 4-3 18 1 3-3 26-3 1 8-9 21 8 6 1 0 12 4 8-15 12-9-7-19-2-2 1-29-9-7 6-22 0-1-24-10-7-18 3-2 6-16-12-17 1-8 16-8 1 0 0-1-4-10-14-13 0-1-18 9-14-22-2-1-19-2-6-16 33-18 0-1-1-2-42-7-2 1-5-11-22-14-1 0-3 2-29-6-5-15-1 0-35 14-8-20-1 0-26 2zM666 513l-6-10 5-17 11-4 17 3 9-2 12 27-7 9-14 5-5 12-25-9zM447 326l11 22 1 0 11 0 0-1 6-21 14-19-16-16-5-1 0 1-1 0-11 10 3 17zM963 417l7 7-5 11 0 1 10 19-8 13 4 9 33-2-3-25 6-5 20-4 1 0 1-1-11-38 0-1-14-5-1-2 0-1-17-8-1 0-20 11z"/><path fill="#7373f0" d="M200 206l-1 2-11 28-7 20-4 9-4 12-12 16-22 30-25 40-17 28 2 3 0 2 13 22-6 20-6 5 0 17 0 1 25 14 1 0 2-1 7-27 16-2 7 21-6 10 7 17-4 16-4 3-3 19 23 26-2 1-32 7 0 1-6 18 9 8-1 35-2 2-11 4-2-1-9 2 16 31 4 7 21 27 29 36 13 14 30 32 31 31 15 10-1 4 15 14 38 29 1 0 0-1 1-7 19-15 0-15-12-13 15-17 22 1 5-5 15 1 11 12-1 12 0 1 26 3 7-13-5-21 5-2 12 3 28 1 1-16-22-17 5-25-2-4-9-5-1 0-19 2-10-11-1 0-19-5-6-10-5-3-6-10-20-6-8-16 9-13-6-14 2-11 12-12 0-1-6-25 1-2 5-3 4-9-1-28-25 12-8-14 8-16 7 0 7-13 5-14-1 0-9-9-1 0-16-1-5-17 9-19 14 1 1 0 0-1 10-18 5-2 6-17 7-3 0-1 2-22-2-6 3-3 9-25-38-13-7-7-10 2-21-11-7-19-8-7-15-5 12-38-1-5-1 0-48 2 1-4 0-1-16-34 14-10-2-13 2-14-10-8-21 14zM417 746l4 11-4 21-15-1-16-12 15-18zM602 677l-32 4-1-1-16 6-8 18-15 2-1 0-6 22-4 4 17 31 3 2 3-1 7-7 16 2 21-7 1 0 28-6 6 6 1 0 29-15 16 3 6-3 1 0 5-10 15-9 5-8 15-1 8-16 15-5 0-1 25-21 0-1-9-17-6-2-7 1 0 1-11 7-7 0-16-9-1 0-15 9-21-11-10 1-4 15-30 9-1 3 7 16-20 13-8-9zM939 538l-17-3-10-15-12-2-4 4 0 1 1 34-23-1-2-2-3-13-7-6 4-28-1 0-19-2-12 18-12-4 0 1-1 0-11 9-8 14 0 1 4 8-3 9 4 16-6 15-7 3-3 22 0 1 18 9 1 7-18 18 1 6-8 14 0 1 11 16 7 2 13-2 0-1 6-23 7-5 22 7 1 1 1 0 2 1 39-3 1 0 1-2 8-2 23 16 6 10 17 8 2 4 27 23 4 0 17-18 18 13 1 0 11-18 31-70 14-29 0-4-26-6-1-5-28-13-1-4-1 0-13-7-5 4-31 6-5-8-18-3z"/><path fill="#4545e8" d="M106 439l7-21-13-22-1 0-9 7-12 21-1 3-15 41-3 27 6 25 3 12 6 12 10 21 21 51 10 18 0 1 9-2 2 1 12-4 0-1 2-2 0-35-8-8 5-18 32-8 2-1 1 0-1 0-22-26 2-19 4-3 1 0 4-15 0-1-7-17 5-10 1 0-7-22-17 2-1 0-7 27-2 1-24-14-1-17zM386 765l16 13 15 1 1 0 0-1 4-21-1 0-4-12-16 1zM429 791l5 22-6 12-25-3 1-12-12-12-15-1-1 0-4 4-23-1 0 1-14 17 11 13 1 14-19 16-2 7 0 1 18 12 11 4 36 13 47 7 0-1-4-16 11-15 14 6 17-10-2-15 7-21 0-3 24-6 0-1 3-3 23-14 2 1 20 30 2 0 13-33 11-5 1 0 1-17 9-7 23 9 0-1 11-15 8 3 13 21 0 1 21 14 15 0-6-27-9-6 1-34 0-1-16-3-30 15-6-5-28 6-1-1-21 7-16-1-7 7-3 0-2-1-18-31-8 1-13-13-25 18-14-2-1 0-5 25 1 0 22 18-1 15-28-1-12-4zM737 686l-1 0 0 2-14 4 0 1-9 16 5 6 2 15 20 10 0 7-6 8 3 14-4 15 0 1 15 14 20-3 1 0 0-1 4-11 21-9 14-11-1-5-11-23 8-7 10-3 26 12 0 1 1 0 7 14-1 5 21 25 5 1 3 12 0 1 20 17 7 0 14-27-20-12 5-9 22-2 0-1-10-21 19-11 16 13 1 19-1 3 0 1 7 13 0 15 8 10 11-15 31-54 13-18 0-1-1 0-18-12-1 0-16 17-4 0-27-22-1-4-18-8-5-10-24-17-8 2-2 2-39 3-2-1-1-1-23-6-7 4-7 24-12 3-6-3-11-15 8-15-1-5 17-19-1-7-18-10-14 9-3 10-21 12-1 0 9 17z"/><path fill="#e3e3e3" d="M625 69l-33-6-42-7-27-9-14-1-1 1-26-1-1-2-6 0-68 46-1 0 1 3-15 11 35 15-4 8-3 19 16 18 7 2 6 16 12 7 6 23 37-17 2 1 7-2 11 2 2 4 2 25 11 7 27-6 4 4 26-2 9 19 0 1 35-14 6 15 29 6 4-3 22 14 4 12 1 0 2-1 42 7 1 1-33 19-1 0 1 1 6 16 19 1 2 2 14 22 18-9 14 13 3 10-17 8 0 1-1 8 1 0 12 18 18-12 15 17-1 15 0 1 7 12 21-12 9 0 11-3 20 16-2 11 33 14 3 4 19-2 1 0 2-11 21-9 5-12 0-1-1 0-7-6 2-21 21-11 16 9 1 2 14 6 12 38 16-4 1 0 0-1 7-29 22-2 2 4 31 11 1 0 0-1 0-43 0-13-3-52-1-3 1-1-1-13-10-26-5-10-18-14-23-16-34-15-1 0-38-17-1 1-3-3-32-16-15-7-26-11-39-15-46-8-34-6-21-7-16-6-24-8-9-3-57-25z"/><path fill="#1414dc" d="M646 792l-13-22-1 0-8-2-11 15-23-9-10 7 0 1-1 17-11 4 0 1-1 0-12 32-2 0-19-29-3-1-24 13-2 4-25 6 0 4-6 21 2 15-17 9-14-5-12 15 5 16 0 1 38 3 24 2 13 4 3-3 13 7 15 5 1 0 6-2 5 5 56 15 42 9 21 5 54 0 2-3 9 3 10 0 38-9 22-6 24-11 1 0 2-5 5 2 18-8 11-10 4-6 1 1 14-14 10-9 19-20 19-20 4-5 22-30 0-1-7-9 0-15-7-13 1-4-1-19-17-14-20 12 10 21-21 2 0 1-5 9 0 1 20 11-14 27-7-1-20-17-3-12-4-1-22-25 1-5 0-1-6-14-2 0-26-13-11 3 0 1-8 6 0 1 12 24 1 4-14 11-22 8-4 12-20 3-15-14 5-15-3-14 6-8 0-8-20-9-2-16-5-6-1 0-15 2-5 8-14 8-1 0-5 11-6 2 0 1-2 34 0 1 9 5 7 27-15-1-20-13z"/><use href="#mesh" stroke-width="3.6"/><use href="#r1" fill="none" stroke="#a9a9a9" stroke-width="5"/><use href="#r2" fill="none" stroke="#757575" stroke-width="8.5"/><use href="#ol" fill="none" stroke="#2a2a2a" stroke-width="9" stroke-dasharray="22 5"/></g>
<text x="117.1" y="9.2" font-size="2.6" text-anchor="middle" fill="#222">N</text>
<path d="M117.5 9.6L115.7 16.9L117.5 15.3z" fill="#111"/>
<path d="M117.5 9.6L119.4 16.9L117.5 15.3z" fill="#fff" stroke="#111" stroke-width=".35"/>
<path d="M123.4 16.3h24.8M123.4 16.3v-1.1M129.6 16.3v-1.1M135.8 16.3v-1.1M142.0 16.3v-1.1M148.2 16.3v-1.1" stroke="#555" stroke-width=".4" fill="none"/>
<text x="123.7" y="14.3" font-size="2.5" text-anchor="middle" fill="#333">0</text>
<text x="129.9" y="14.3" font-size="2.5" text-anchor="middle" fill="#333">1.5</text>
<text x="136.1" y="14.3" font-size="2.5" text-anchor="middle" fill="#333">3</text>
<text x="147.9" y="14.3" font-size="2.5" text-anchor="middle" fill="#333">6</text>
<text x="149.0" y="14.3" font-size="2.5" fill="#333">km</text>
<text x="115.2" y="35.2" font-size="4.15" fill="#1a1a1a">Population density</text>
<rect x="115.4" y="39.3" width="10.7" height="4.8" fill="#dcaef6"/>
<text x="152.3" y="43.0" font-size="3.80" text-anchor="end" fill="#1a1a1a">0 - 5000</text>
<rect x="115.4" y="46.9" width="10.7" height="4.8" fill="#c78def"/>
<text x="152.3" y="50.6" font-size="3.80" text-anchor="end" fill="#1a1a1a">5001 - 10000</text>
<rect x="115.4" y="54.5" width="10.7" height="4.8" fill="#a561e1"/>
<text x="152.3" y="58.2" font-size="3.80" text-anchor="end" fill="#1a1a1a">10001 - 20000</text>
<rect x="115.4" y="62.1" width="10.7" height="4.8" fill="#7a31d2"/>
<text x="152.3" y="65.8" font-size="3.80" text-anchor="end" fill="#1a1a1a">20001 - 50000</text>
<rect x="115.4" y="69.7" width="10.7" height="4.8" fill="#5b12bf"/>
<text x="152.3" y="73.4" font-size="3.80" text-anchor="end" fill="#1a1a1a">&gt; 50000</text>
<path d="M115.4 79.6H126.1" stroke="#d2d2d2" stroke-width=".5"/>
<path d="M115.4 86.3H126.1" stroke="#777" stroke-width=".8"/>
<path d="M115.4 92.8H126.1" stroke="#1a1a1a" stroke-width="1.1" stroke-dasharray="2.4 .5"/>
<text x="128.6" y="80.9" font-size="3.80" fill="#1a1a1a">First Ring Road</text>
<text x="128.6" y="87.6" font-size="3.80" fill="#1a1a1a">Second Ring Road</text>
<text x="128.6" y="94.1" font-size="3.80" fill="#1a1a1a">Third Ring Road</text>
<text x="117.1" y="118.4" font-size="2.6" text-anchor="middle" fill="#222">N</text>
<path d="M117.5 118.8L115.7 126.1L117.5 124.5z" fill="#111"/>
<path d="M117.5 118.8L119.4 126.1L117.5 124.5z" fill="#fff" stroke="#111" stroke-width=".35"/>
<path d="M123.4 125.5h24.8M123.4 125.5v-1.1M129.6 125.5v-1.1M135.8 125.5v-1.1M142.0 125.5v-1.1M148.2 125.5v-1.1" stroke="#555" stroke-width=".4" fill="none"/>
<text x="123.7" y="123.5" font-size="2.5" text-anchor="middle" fill="#333">0</text>
<text x="129.9" y="123.5" font-size="2.5" text-anchor="middle" fill="#333">1.5</text>
<text x="136.1" y="123.5" font-size="2.5" text-anchor="middle" fill="#333">3</text>
<text x="147.9" y="123.5" font-size="2.5" text-anchor="middle" fill="#333">6</text>
<text x="149.0" y="123.5" font-size="2.5" fill="#333">km</text>
<text x="115.2" y="144.4" font-size="4.15" fill="#1a1a1a">Office POI density</text>
<rect x="115.4" y="148.5" width="10.7" height="4.8" fill="#dcaef6"/>
<text x="146.4" y="152.2" font-size="3.80" text-anchor="end" fill="#1a1a1a">0 - 10</text>
<rect x="115.4" y="156.1" width="10.7" height="4.8" fill="#c78def"/>
<text x="146.4" y="159.8" font-size="3.80" text-anchor="end" fill="#1a1a1a">11 - 50</text>
<rect x="115.4" y="163.7" width="10.7" height="4.8" fill="#a561e1"/>
<text x="146.4" y="167.4" font-size="3.80" text-anchor="end" fill="#1a1a1a">51 - 200</text>
<rect x="115.4" y="171.3" width="10.7" height="4.8" fill="#7a31d2"/>
<text x="146.4" y="175.0" font-size="3.80" text-anchor="end" fill="#1a1a1a">201 - 500</text>
<rect x="115.4" y="178.9" width="10.7" height="4.8" fill="#5b12bf"/>
<text x="146.4" y="182.6" font-size="3.80" text-anchor="end" fill="#1a1a1a">&gt; 500</text>
<path d="M115.4 188.8H126.1" stroke="#d2d2d2" stroke-width=".5"/>
<path d="M115.4 195.5H126.1" stroke="#777" stroke-width=".8"/>
<path d="M115.4 202.0H126.1" stroke="#1a1a1a" stroke-width="1.1" stroke-dasharray="2.4 .5"/>
<text x="128.6" y="190.1" font-size="3.80" fill="#1a1a1a">First Ring Road</text>
<text x="128.6" y="196.8" font-size="3.80" fill="#1a1a1a">Second Ring Road</text>
<text x="128.6" y="203.3" font-size="3.80" fill="#1a1a1a">Third Ring Road</text>
<text x="117.1" y="227.6" font-size="2.6" text-anchor="middle" fill="#222">N</text>
<path d="M117.5 228.0L115.7 235.3L117.5 233.7z" fill="#111"/>
<path d="M117.5 228.0L119.4 235.3L117.5 233.7z" fill="#fff" stroke="#111" stroke-width=".35"/>
<path d="M123.4 234.7h24.8M123.4 234.7v-1.1M129.6 234.7v-1.1M135.8 234.7v-1.1M142.0 234.7v-1.1M148.2 234.7v-1.1" stroke="#555" stroke-width=".4" fill="none"/>
<text x="123.7" y="232.7" font-size="2.5" text-anchor="middle" fill="#333">0</text>
<text x="129.9" y="232.7" font-size="2.5" text-anchor="middle" fill="#333">1.5</text>
<text x="136.1" y="232.7" font-size="2.5" text-anchor="middle" fill="#333">3</text>
<text x="147.9" y="232.7" font-size="2.5" text-anchor="middle" fill="#333">6</text>
<text x="149.0" y="232.7" font-size="2.5" fill="#333">km</text>
<text x="115.2" y="253.6" font-size="4.15" fill="#1a1a1a">Land-use mix entropy</text>
<rect x="115.4" y="257.7" width="10.7" height="4.8" fill="#dcaef6"/>
<text x="144.6" y="261.4" font-size="3.80" text-anchor="end" fill="#1a1a1a">0 - 0.2</text>
<rect x="115.4" y="265.3" width="10.7" height="4.8" fill="#c78def"/>
<text x="144.6" y="269.0" font-size="3.80" text-anchor="end" fill="#1a1a1a">0.3 - 0.4</text>
<rect x="115.4" y="272.9" width="10.7" height="4.8" fill="#a561e1"/>
<text x="144.6" y="276.6" font-size="3.80" text-anchor="end" fill="#1a1a1a">0.5 - 0.6</text>
<rect x="115.4" y="280.5" width="10.7" height="4.8" fill="#7a31d2"/>
<text x="144.6" y="284.2" font-size="3.80" text-anchor="end" fill="#1a1a1a">0.7 - 0.8</text>
<rect x="115.4" y="288.1" width="10.7" height="4.8" fill="#5b12bf"/>
<text x="144.6" y="291.8" font-size="3.80" text-anchor="end" fill="#1a1a1a">&gt; 0.8</text>
<path d="M115.4 298.0H126.1" stroke="#d2d2d2" stroke-width=".5"/>
<path d="M115.4 304.7H126.1" stroke="#777" stroke-width=".8"/>
<path d="M115.4 311.2H126.1" stroke="#1a1a1a" stroke-width="1.1" stroke-dasharray="2.4 .5"/>
<text x="128.6" y="299.3" font-size="3.80" fill="#1a1a1a">First Ring Road</text>
<text x="128.6" y="306.0" font-size="3.80" fill="#1a1a1a">Second Ring Road</text>
<text x="128.6" y="312.5" font-size="3.80" fill="#1a1a1a">Third Ring Road</text>
<text x="117.1" y="336.8" font-size="2.6" text-anchor="middle" fill="#222">N</text>
<path d="M117.5 337.2L115.7 344.5L117.5 342.9z" fill="#111"/>
<path d="M117.5 337.2L119.4 344.5L117.5 342.9z" fill="#fff" stroke="#111" stroke-width=".35"/>
<path d="M123.4 343.9h24.8M123.4 343.9v-1.1M129.6 343.9v-1.1M135.8 343.9v-1.1M142.0 343.9v-1.1M148.2 343.9v-1.1" stroke="#555" stroke-width=".4" fill="none"/>
<text x="123.7" y="341.9" font-size="2.5" text-anchor="middle" fill="#333">0</text>
<text x="129.9" y="341.9" font-size="2.5" text-anchor="middle" fill="#333">1.5</text>
<text x="136.1" y="341.9" font-size="2.5" text-anchor="middle" fill="#333">3</text>
<text x="147.9" y="341.9" font-size="2.5" text-anchor="middle" fill="#333">6</text>
<text x="149.0" y="341.9" font-size="2.5" fill="#333">km</text>
<text x="115.2" y="362.8" font-size="4.15" fill="#1a1a1a">Road density</text>
<rect x="115.4" y="366.9" width="10.7" height="4.8" fill="#dcaef6"/>
<text x="139.6" y="370.6" font-size="3.80" text-anchor="end" fill="#1a1a1a">0 - 4</text>
<rect x="115.4" y="374.5" width="10.7" height="4.8" fill="#c78def"/>
<text x="139.6" y="378.2" font-size="3.80" text-anchor="end" fill="#1a1a1a">5 - 6</text>
<rect x="115.4" y="382.1" width="10.7" height="4.8" fill="#a561e1"/>
<text x="139.6" y="385.8" font-size="3.80" text-anchor="end" fill="#1a1a1a">7 - 8</text>
<rect x="115.4" y="389.7" width="10.7" height="4.8" fill="#7a31d2"/>
<text x="139.6" y="393.4" font-size="3.80" text-anchor="end" fill="#1a1a1a">9 - 10</text>
<rect x="115.4" y="397.3" width="10.7" height="4.8" fill="#5b12bf"/>
<text x="139.6" y="401.0" font-size="3.80" text-anchor="end" fill="#1a1a1a">&gt; 10</text>
<path d="M115.4 407.2H126.1" stroke="#d2d2d2" stroke-width=".5"/>
<path d="M115.4 413.9H126.1" stroke="#777" stroke-width=".8"/>
<path d="M115.4 420.4H126.1" stroke="#1a1a1a" stroke-width="1.1" stroke-dasharray="2.4 .5"/>
<text x="128.6" y="408.5" font-size="3.80" fill="#1a1a1a">First Ring Road</text>
<text x="128.6" y="415.2" font-size="3.80" fill="#1a1a1a">Second Ring Road</text>
<text x="128.6" y="421.7" font-size="3.80" fill="#1a1a1a">Third Ring Road</text>
<text x="117.1" y="446.0" font-size="2.6" text-anchor="middle" fill="#222">N</text>
<path d="M117.5 446.4L115.7 453.7L117.5 452.1z" fill="#111"/>
<path d="M117.5 446.4L119.4 453.7L117.5 452.1z" fill="#fff" stroke="#111" stroke-width=".35"/>
<path d="M123.4 453.1h24.8M123.4 453.1v-1.1M129.6 453.1v-1.1M135.8 453.1v-1.1M142.0 453.1v-1.1M148.2 453.1v-1.1" stroke="#555" stroke-width=".4" fill="none"/>
<text x="123.7" y="451.1" font-size="2.5" text-anchor="middle" fill="#333">0</text>
<text x="129.9" y="451.1" font-size="2.5" text-anchor="middle" fill="#333">1.5</text>
<text x="136.1" y="451.1" font-size="2.5" text-anchor="middle" fill="#333">3</text>
<text x="147.9" y="451.1" font-size="2.5" text-anchor="middle" fill="#333">6</text>
<text x="149.0" y="451.1" font-size="2.5" fill="#333">km</text>
<text x="115.2" y="472.0" font-size="4.15" fill="#1a1a1a">Distance to CBD</text>
<rect x="115.4" y="476.1" width="10.7" height="4.8" fill="#dcaef6"/>
<text x="138.6" y="479.8" font-size="3.80" text-anchor="end" fill="#1a1a1a">0 - 3</text>
<rect x="115.4" y="483.7" width="10.7" height="4.8" fill="#c78def"/>
<text x="138.6" y="487.4" font-size="3.80" text-anchor="end" fill="#1a1a1a">4 - 5</text>
<rect x="115.4" y="491.3" width="10.7" height="4.8" fill="#a561e1"/>
<text x="138.6" y="495.0" font-size="3.80" text-anchor="end" fill="#1a1a1a">6 - 7</text>
<rect x="115.4" y="498.9" width="10.7" height="4.8" fill="#7a31d2"/>
<text x="138.6" y="502.6" font-size="3.80" text-anchor="end" fill="#1a1a1a">8 - 9</text>
<rect x="115.4" y="506.5" width="10.7" height="4.8" fill="#5b12bf"/>
<text x="138.6" y="510.2" font-size="3.80" text-anchor="end" fill="#1a1a1a">&gt; 9</text>
<path d="M115.4 516.4H126.1" stroke="#d2d2d2" stroke-width=".5"/>
<path d="M115.4 523.1H126.1" stroke="#777" stroke-width=".8"/>
<path d="M115.4 529.6H126.1" stroke="#1a1a1a" stroke-width="1.1" stroke-dasharray="2.4 .5"/>
<text x="128.6" y="517.7" font-size="3.80" fill="#1a1a1a">First Ring Road</text>
<text x="128.6" y="524.4" font-size="3.80" fill="#1a1a1a">Second Ring Road</text>
<text x="128.6" y="530.9" font-size="3.80" fill="#1a1a1a">Third Ring Road</text>
<text x="295.3" y="8.2" font-size="2.6" text-anchor="middle" fill="#222">N</text>
<path d="M295.7 8.6L293.9 15.9L295.7 14.3z" fill="#111"/>
<path d="M295.7 8.6L297.6 15.9L295.7 14.3z" fill="#fff" stroke="#111" stroke-width=".35"/>
<path d="M301.6 15.3h24.8M301.6 15.3v-1.1M307.8 15.3v-1.1M314.0 15.3v-1.1M320.2 15.3v-1.1M326.4 15.3v-1.1" stroke="#555" stroke-width=".4" fill="none"/>
<text x="301.9" y="13.3" font-size="2.5" text-anchor="middle" fill="#333">0</text>
<text x="308.1" y="13.3" font-size="2.5" text-anchor="middle" fill="#333">1.5</text>
<text x="314.3" y="13.3" font-size="2.5" text-anchor="middle" fill="#333">3</text>
<text x="326.1" y="13.3" font-size="2.5" text-anchor="middle" fill="#333">6</text>
<text x="327.2" y="13.3" font-size="2.5" fill="#333">km</text>
<text x="293.2" y="30.0" font-size="4.15" fill="#1a1a1a">Population density</text>
<text x="293.2" y="35.1" font-size="4.15" fill="#1a1a1a">(Elasticity coefficient)</text>
<rect x="293.5" y="39.0" width="8.7" height="4.1" fill="#7b7bf0"/>
<text x="326.9" y="42.4" font-size="3.95" text-anchor="end" fill="#1a1a1a">-0.195 - 0.000</text>
<rect x="293.5" y="45.6" width="8.7" height="4.1" fill="#fdd0d0"/>
<text x="326.9" y="49.0" font-size="3.95" text-anchor="end" fill="#1a1a1a">0.001 - 0.190</text>
<rect x="293.5" y="52.2" width="8.7" height="4.1" fill="#fb9a9e"/>
<text x="326.9" y="55.6" font-size="3.95" text-anchor="end" fill="#1a1a1a">0.191 - 0.240</text>
<rect x="293.5" y="58.8" width="8.7" height="4.1" fill="#f95e5e"/>
<text x="326.9" y="62.2" font-size="3.95" text-anchor="end" fill="#1a1a1a">0.241 - 0.289</text>
<rect x="293.5" y="65.4" width="8.7" height="4.1" fill="#dd0707"/>
<text x="326.9" y="68.8" font-size="3.95" text-anchor="end" fill="#1a1a1a">0.290 - 0.386</text>
<rect x="293.5" y="72.0" width="8.7" height="4.0" fill="#e1e1e1"/>
<text x="304.7" y="75.3" font-size="3.80" fill="#1a1a1a">Not significant</text>
<path d="M293.5 79.9H302.2" stroke="#6a6a6a" stroke-width=".45"/>
<path d="M293.5 85.6H302.2" stroke="#555" stroke-width="1.3"/>
<path d="M293.5 85.6H302.2" stroke="#b5b5b5" stroke-width=".6"/>
<path d="M293.5 91.3H302.2" stroke="#1a1a1a" stroke-width="1.1" stroke-dasharray="2.4 .5"/>
<text x="304.7" y="81.2" font-size="3.80" fill="#1a1a1a">First Ring Road</text>
<text x="304.7" y="86.9" font-size="3.80" fill="#1a1a1a">Second Ring Road</text>
<text x="304.7" y="92.6" font-size="3.80" fill="#1a1a1a">Third Ring Road</text>
<text x="459.3" y="8.2" font-size="2.6" text-anchor="middle" fill="#222">N</text>
<path d="M459.7 8.6L457.9 15.9L459.7 14.3z" fill="#111"/>
<path d="M459.7 8.6L461.6 15.9L459.7 14.3z" fill="#fff" stroke="#111" stroke-width=".35"/>
<path d="M465.6 15.3h24.8M465.6 15.3v-1.1M471.8 15.3v-1.1M478.0 15.3v-1.1M484.2 15.3v-1.1M490.4 15.3v-1.1" stroke="#555" stroke-width=".4" fill="none"/>
<text x="465.9" y="13.3" font-size="2.5" text-anchor="middle" fill="#333">0</text>
<text x="472.1" y="13.3" font-size="2.5" text-anchor="middle" fill="#333">1.5</text>
<text x="478.3" y="13.3" font-size="2.5" text-anchor="middle" fill="#333">3</text>
<text x="490.1" y="13.3" font-size="2.5" text-anchor="middle" fill="#333">6</text>
<text x="491.2" y="13.3" font-size="2.5" fill="#333">km</text>
<text x="457.2" y="30.0" font-size="4.15" fill="#1a1a1a">Population density</text>
<text x="457.2" y="35.1" font-size="4.15" fill="#1a1a1a">(Elasticity coefficient)</text>
<rect x="457.5" y="39.0" width="8.7" height="4.1" fill="#fdd0d0"/>
<text x="489.6" y="42.4" font-size="3.95" text-anchor="end" fill="#1a1a1a">0.093 - 0.138</text>
<rect x="457.5" y="45.6" width="8.7" height="4.1" fill="#fb9a9e"/>
<text x="489.6" y="49.0" font-size="3.95" text-anchor="end" fill="#1a1a1a">0.139 - 0.206</text>
<rect x="457.5" y="52.2" width="8.7" height="4.1" fill="#f95e5e"/>
<text x="489.6" y="55.6" font-size="3.95" text-anchor="end" fill="#1a1a1a">0.207 - 0.252</text>
<rect x="457.5" y="58.8" width="8.7" height="4.1" fill="#f22626"/>
<text x="489.6" y="62.2" font-size="3.95" text-anchor="end" fill="#1a1a1a">0.253 - 0.297</text>
<rect x="457.5" y="65.4" width="8.7" height="4.1" fill="#dd0707"/>
<text x="489.6" y="68.8" font-size="3.95" text-anchor="end" fill="#1a1a1a">0.298 - 0.331</text>
<rect x="457.5" y="72.0" width="8.7" height="4.0" fill="#e1e1e1"/>
<text x="468.7" y="75.3" font-size="3.80" fill="#1a1a1a">Not significant</text>
<path d="M457.5 79.9H466.2" stroke="#6a6a6a" stroke-width=".45"/>
<path d="M457.5 85.6H466.2" stroke="#555" stroke-width="1.3"/>
<path d="M457.5 85.6H466.2" stroke="#b5b5b5" stroke-width=".6"/>
<path d="M457.5 91.3H466.2" stroke="#1a1a1a" stroke-width="1.1" stroke-dasharray="2.4 .5"/>
<text x="468.7" y="81.2" font-size="3.80" fill="#1a1a1a">First Ring Road</text>
<text x="468.7" y="86.9" font-size="3.80" fill="#1a1a1a">Second Ring Road</text>
<text x="468.7" y="92.6" font-size="3.80" fill="#1a1a1a">Third Ring Road</text>
<text x="182.6" y="10.6" font-size="5.15" fill="#1a1a1a">Morning peak</text>
<text x="346.0" y="10.4" font-size="5.15" fill="#1a1a1a">Evening peak</text>
<text x="295.3" y="117.4" font-size="2.6" text-anchor="middle" fill="#222">N</text>
<path d="M295.7 117.8L293.9 125.1L295.7 123.5z" fill="#111"/>
<path d="M295.7 117.8L297.6 125.1L295.7 123.5z" fill="#fff" stroke="#111" stroke-width=".35"/>
<path d="M301.6 124.5h24.8M301.6 124.5v-1.1M307.8 124.5v-1.1M314.0 124.5v-1.1M320.2 124.5v-1.1M326.4 124.5v-1.1" stroke="#555" stroke-width=".4" fill="none"/>
<text x="301.9" y="122.5" font-size="2.5" text-anchor="middle" fill="#333">0</text>
<text x="308.1" y="122.5" font-size="2.5" text-anchor="middle" fill="#333">1.5</text>
<text x="314.3" y="122.5" font-size="2.5" text-anchor="middle" fill="#333">3</text>
<text x="326.1" y="122.5" font-size="2.5" text-anchor="middle" fill="#333">6</text>
<text x="327.2" y="122.5" font-size="2.5" fill="#333">km</text>
<text x="293.2" y="139.2" font-size="4.15" fill="#1a1a1a">Office POI density</text>
<text x="293.2" y="144.3" font-size="4.15" fill="#1a1a1a">(Elasticity coefficient)</text>
<rect x="293.5" y="148.2" width="8.7" height="4.1" fill="#1414dc"/>
<text x="328.2" y="151.6" font-size="3.95" text-anchor="end" fill="#1a1a1a">-0.155 - -0.154</text>
<rect x="293.5" y="154.8" width="8.7" height="4.1" fill="#4545e8"/>
<text x="328.2" y="158.2" font-size="3.95" text-anchor="end" fill="#1a1a1a">-0.153 - -0.153</text>
<rect x="293.5" y="161.4" width="8.7" height="4.1" fill="#7373f0"/>
<text x="328.2" y="164.8" font-size="3.95" text-anchor="end" fill="#1a1a1a">-0.152 - -0.151</text>
<rect x="293.5" y="168.0" width="8.7" height="4.1" fill="#a9a9f8"/>
<text x="328.2" y="171.4" font-size="3.95" text-anchor="end" fill="#1a1a1a">-0.150 - -0.149</text>
<rect x="293.5" y="174.6" width="8.7" height="4.1" fill="#d3d3fd"/>
<text x="328.2" y="178.0" font-size="3.95" text-anchor="end" fill="#1a1a1a">-0.148 - -0.145</text>
<rect x="293.5" y="181.2" width="8.7" height="4.0" fill="#e1e1e1"/>
<text x="304.7" y="184.5" font-size="3.80" fill="#1a1a1a">Not significant</text>
<path d="M293.5 189.1H302.2" stroke="#6a6a6a" stroke-width=".45"/>
<path d="M293.5 194.8H302.2" stroke="#555" stroke-width="1.3"/>
<path d="M293.5 194.8H302.2" stroke="#b5b5b5" stroke-width=".6"/>
<path d="M293.5 200.5H302.2" stroke="#1a1a1a" stroke-width="1.1" stroke-dasharray="2.4 .5"/>
<text x="304.7" y="190.4" font-size="3.80" fill="#1a1a1a">First Ring Road</text>
<text x="304.7" y="196.1" font-size="3.80" fill="#1a1a1a">Second Ring Road</text>
<text x="304.7" y="201.8" font-size="3.80" fill="#1a1a1a">Third Ring Road</text>
<text x="459.3" y="117.4" font-size="2.6" text-anchor="middle" fill="#222">N</text>
<path d="M459.7 117.8L457.9 125.1L459.7 123.5z" fill="#111"/>
<path d="M459.7 117.8L461.6 125.1L459.7 123.5z" fill="#fff" stroke="#111" stroke-width=".35"/>
<path d="M465.6 124.5h24.8M465.6 124.5v-1.1M471.8 124.5v-1.1M478.0 124.5v-1.1M484.2 124.5v-1.1M490.4 124.5v-1.1" stroke="#555" stroke-width=".4" fill="none"/>
<text x="465.9" y="122.5" font-size="2.5" text-anchor="middle" fill="#333">0</text>
<text x="472.1" y="122.5" font-size="2.5" text-anchor="middle" fill="#333">1.5</text>
<text x="478.3" y="122.5" font-size="2.5" text-anchor="middle" fill="#333">3</text>
<text x="490.1" y="122.5" font-size="2.5" text-anchor="middle" fill="#333">6</text>
<text x="491.2" y="122.5" font-size="2.5" fill="#333">km</text>
<text x="457.2" y="139.2" font-size="4.15" fill="#1a1a1a">Office POI density</text>
<text x="457.2" y="144.3" font-size="4.15" fill="#1a1a1a">(Elasticity coefficient)</text>
<rect x="457.5" y="148.2" width="8.7" height="4.1" fill="#fdd0d0"/>
<text x="489.6" y="151.6" font-size="3.95" text-anchor="end" fill="#1a1a1a">0.131 - 0.153</text>
<rect x="457.5" y="154.8" width="8.7" height="4.1" fill="#fb9a9e"/>
<text x="489.6" y="158.2" font-size="3.95" text-anchor="end" fill="#1a1a1a">0.154 - 0.169</text>
<rect x="457.5" y="161.4" width="8.7" height="4.1" fill="#f95e5e"/>
<text x="489.6" y="164.8" font-size="3.95" text-anchor="end" fill="#1a1a1a">0.170 - 0.185</text>
<rect x="457.5" y="168.0" width="8.7" height="4.1" fill="#f22626"/>
<text x="489.6" y="171.4" font-size="3.95" text-anchor="end" fill="#1a1a1a">0.186 - 0.204</text>
<rect x="457.5" y="174.6" width="8.7" height="4.1" fill="#dd0707"/>
<text x="489.6" y="178.0" font-size="3.95" text-anchor="end" fill="#1a1a1a">0.205 - 0.229</text>
<rect x="457.5" y="181.2" width="8.7" height="4.0" fill="#e1e1e1"/>
<text x="468.7" y="184.5" font-size="3.80" fill="#1a1a1a">Not significant</text>
<path d="M457.5 189.1H466.2" stroke="#6a6a6a" stroke-width=".45"/>
<path d="M457.5 194.8H466.2" stroke="#555" stroke-width="1.3"/>
<path d="M457.5 194.8H466.2" stroke="#b5b5b5" stroke-width=".6"/>
<path d="M457.5 200.5H466.2" stroke="#1a1a1a" stroke-width="1.1" stroke-dasharray="2.4 .5"/>
<text x="468.7" y="190.4" font-size="3.80" fill="#1a1a1a">First Ring Road</text>
<text x="468.7" y="196.1" font-size="3.80" fill="#1a1a1a">Second Ring Road</text>
<text x="468.7" y="201.8" font-size="3.80" fill="#1a1a1a">Third Ring Road</text>
<text x="182.6" y="119.8" font-size="5.15" fill="#1a1a1a">Morning peak</text>
<text x="346.0" y="119.6" font-size="5.15" fill="#1a1a1a">Evening peak</text>
<text x="295.3" y="226.6" font-size="2.6" text-anchor="middle" fill="#222">N</text>
<path d="M295.7 227.0L293.9 234.3L295.7 232.7z" fill="#111"/>
<path d="M295.7 227.0L297.6 234.3L295.7 232.7z" fill="#fff" stroke="#111" stroke-width=".35"/>
<path d="M301.6 233.7h24.8M301.6 233.7v-1.1M307.8 233.7v-1.1M314.0 233.7v-1.1M320.2 233.7v-1.1M326.4 233.7v-1.1" stroke="#555" stroke-width=".4" fill="none"/>
<text x="301.9" y="231.7" font-size="2.5" text-anchor="middle" fill="#333">0</text>
<text x="308.1" y="231.7" font-size="2.5" text-anchor="middle" fill="#333">1.5</text>
<text x="314.3" y="231.7" font-size="2.5" text-anchor="middle" fill="#333">3</text>
<text x="326.1" y="231.7" font-size="2.5" text-anchor="middle" fill="#333">6</text>
<text x="327.2" y="231.7" font-size="2.5" fill="#333">km</text>
<text x="293.2" y="248.4" font-size="4.15" fill="#1a1a1a">Land-use mix entropy</text>
<text x="293.2" y="253.5" font-size="4.15" fill="#1a1a1a">(Elasticity coefficient)</text>
<rect x="293.5" y="257.4" width="8.7" height="4.1" fill="#fdd0d0"/>
<text x="325.6" y="260.8" font-size="3.95" text-anchor="end" fill="#1a1a1a">0.109 - 0.159</text>
<rect x="293.5" y="264.0" width="8.7" height="4.1" fill="#fb9a9e"/>
<text x="325.6" y="267.4" font-size="3.95" text-anchor="end" fill="#1a1a1a">0.160 - 0.195</text>
<rect x="293.5" y="270.6" width="8.7" height="4.1" fill="#f95e5e"/>
<text x="325.6" y="274.0" font-size="3.95" text-anchor="end" fill="#1a1a1a">0.196 - 0.231</text>
<rect x="293.5" y="277.2" width="8.7" height="4.1" fill="#f22626"/>
<text x="325.6" y="280.6" font-size="3.95" text-anchor="end" fill="#1a1a1a">0.232 - 0.270</text>
<rect x="293.5" y="283.8" width="8.7" height="4.1" fill="#dd0707"/>
<text x="325.6" y="287.2" font-size="3.95" text-anchor="end" fill="#1a1a1a">0.271 - 0.309</text>
<rect x="293.5" y="290.4" width="8.7" height="4.0" fill="#e1e1e1"/>
<text x="304.7" y="293.8" font-size="3.80" fill="#1a1a1a">Not significant</text>
<path d="M293.5 298.3H302.2" stroke="#6a6a6a" stroke-width=".45"/>
<path d="M293.5 304.0H302.2" stroke="#555" stroke-width="1.3"/>
<path d="M293.5 304.0H302.2" stroke="#b5b5b5" stroke-width=".6"/>
<path d="M293.5 309.7H302.2" stroke="#1a1a1a" stroke-width="1.1" stroke-dasharray="2.4 .5"/>
<text x="304.7" y="299.6" font-size="3.80" fill="#1a1a1a">First Ring Road</text>
<text x="304.7" y="305.3" font-size="3.80" fill="#1a1a1a">Second Ring Road</text>
<text x="304.7" y="311.0" font-size="3.80" fill="#1a1a1a">Third Ring Road</text>
<text x="459.3" y="226.6" font-size="2.6" text-anchor="middle" fill="#222">N</text>
<path d="M459.7 227.0L457.9 234.3L459.7 232.7z" fill="#111"/>
<path d="M459.7 227.0L461.6 234.3L459.7 232.7z" fill="#fff" stroke="#111" stroke-width=".35"/>
<path d="M465.6 233.7h24.8M465.6 233.7v-1.1M471.8 233.7v-1.1M478.0 233.7v-1.1M484.2 233.7v-1.1M490.4 233.7v-1.1" stroke="#555" stroke-width=".4" fill="none"/>
<text x="465.9" y="231.7" font-size="2.5" text-anchor="middle" fill="#333">0</text>
<text x="472.1" y="231.7" font-size="2.5" text-anchor="middle" fill="#333">1.5</text>
<text x="478.3" y="231.7" font-size="2.5" text-anchor="middle" fill="#333">3</text>
<text x="490.1" y="231.7" font-size="2.5" text-anchor="middle" fill="#333">6</text>
<text x="491.2" y="231.7" font-size="2.5" fill="#333">km</text>
<text x="457.2" y="248.4" font-size="4.15" fill="#1a1a1a">Land-use mix entropy</text>
<text x="457.2" y="253.5" font-size="4.15" fill="#1a1a1a">(Elasticity coefficient)</text>
<rect x="457.5" y="257.4" width="8.7" height="4.1" fill="#1414dc"/>
<text x="492.2" y="260.8" font-size="3.95" text-anchor="end" fill="#1a1a1a">-0.178 - -0.168</text>
<rect x="457.5" y="264.0" width="8.7" height="4.1" fill="#4545e8"/>
<text x="492.2" y="267.4" font-size="3.95" text-anchor="end" fill="#1a1a1a">-0.167 - -0.162</text>
<rect x="457.5" y="270.6" width="8.7" height="4.1" fill="#7373f0"/>
<text x="492.2" y="274.0" font-size="3.95" text-anchor="end" fill="#1a1a1a">-0.161 - -0.156</text>
<rect x="457.5" y="277.2" width="8.7" height="4.1" fill="#a9a9f8"/>
<text x="492.2" y="280.6" font-size="3.95" text-anchor="end" fill="#1a1a1a">-0.155 - -0.146</text>
<rect x="457.5" y="283.8" width="8.7" height="4.1" fill="#d3d3fd"/>
<text x="492.2" y="287.2" font-size="3.95" text-anchor="end" fill="#1a1a1a">-0.145 - -0.133</text>
<rect x="457.5" y="290.4" width="8.7" height="4.0" fill="#e1e1e1"/>
<text x="468.7" y="293.8" font-size="3.80" fill="#1a1a1a">Not significant</text>
<path d="M457.5 298.3H466.2" stroke="#6a6a6a" stroke-width=".45"/>
<path d="M457.5 304.0H466.2" stroke="#555" stroke-width="1.3"/>
<path d="M457.5 304.0H466.2" stroke="#b5b5b5" stroke-width=".6"/>
<path d="M457.5 309.7H466.2" stroke="#1a1a1a" stroke-width="1.1" stroke-dasharray="2.4 .5"/>
<text x="468.7" y="299.6" font-size="3.80" fill="#1a1a1a">First Ring Road</text>
<text x="468.7" y="305.3" font-size="3.80" fill="#1a1a1a">Second Ring Road</text>
<text x="468.7" y="311.0" font-size="3.80" fill="#1a1a1a">Third Ring Road</text>
<text x="182.6" y="229.0" font-size="5.15" fill="#1a1a1a">Morning peak</text>
<text x="346.0" y="228.8" font-size="5.15" fill="#1a1a1a">Evening peak</text>
<text x="295.3" y="335.8" font-size="2.6" text-anchor="middle" fill="#222">N</text>
<path d="M295.7 336.2L293.9 343.5L295.7 341.9z" fill="#111"/>
<path d="M295.7 336.2L297.6 343.5L295.7 341.9z" fill="#fff" stroke="#111" stroke-width=".35"/>
<path d="M301.6 342.9h24.8M301.6 342.9v-1.1M307.8 342.9v-1.1M314.0 342.9v-1.1M320.2 342.9v-1.1M326.4 342.9v-1.1" stroke="#555" stroke-width=".4" fill="none"/>
<text x="301.9" y="340.9" font-size="2.5" text-anchor="middle" fill="#333">0</text>
<text x="308.1" y="340.9" font-size="2.5" text-anchor="middle" fill="#333">1.5</text>
<text x="314.3" y="340.9" font-size="2.5" text-anchor="middle" fill="#333">3</text>
<text x="326.1" y="340.9" font-size="2.5" text-anchor="middle" fill="#333">6</text>
<text x="327.2" y="340.9" font-size="2.5" fill="#333">km</text>
<text x="293.2" y="357.6" font-size="4.15" fill="#1a1a1a">Road density</text>
<text x="293.2" y="362.7" font-size="4.15" fill="#1a1a1a">(Elasticity coefficient)</text>
<rect x="293.5" y="366.6" width="8.7" height="4.1" fill="#7b7bf0"/>
<text x="326.7" y="370.0" font-size="3.95" text-anchor="end" fill="#1a1a1a">-0.112 - 0.000</text>
<rect x="293.5" y="373.2" width="8.7" height="4.1" fill="#fdd0d0"/>
<text x="326.7" y="376.6" font-size="3.95" text-anchor="end" fill="#1a1a1a">0.001 - 0.127</text>
<rect x="293.5" y="379.8" width="8.7" height="4.1" fill="#fb9a9e"/>
<text x="326.7" y="383.2" font-size="3.95" text-anchor="end" fill="#1a1a1a">0.128 - 0.196</text>
<rect x="293.5" y="386.4" width="8.7" height="4.1" fill="#f95e5e"/>
<text x="326.7" y="389.8" font-size="3.95" text-anchor="end" fill="#1a1a1a">0.197 - 0.264</text>
<rect x="293.5" y="393.0" width="8.7" height="4.1" fill="#dd0707"/>
<text x="326.7" y="396.4" font-size="3.95" text-anchor="end" fill="#1a1a1a">0.265 - 0.337</text>
<rect x="293.5" y="399.6" width="8.7" height="4.0" fill="#e1e1e1"/>
<text x="304.7" y="403.0" font-size="3.80" fill="#1a1a1a">Not significant</text>
<path d="M293.5 407.5H302.2" stroke="#6a6a6a" stroke-width=".45"/>
<path d="M293.5 413.2H302.2" stroke="#555" stroke-width="1.3"/>
<path d="M293.5 413.2H302.2" stroke="#b5b5b5" stroke-width=".6"/>
<path d="M293.5 418.9H302.2" stroke="#1a1a1a" stroke-width="1.1" stroke-dasharray="2.4 .5"/>
<text x="304.7" y="408.8" font-size="3.80" fill="#1a1a1a">First Ring Road</text>
<text x="304.7" y="414.5" font-size="3.80" fill="#1a1a1a">Second Ring Road</text>
<text x="304.7" y="420.2" font-size="3.80" fill="#1a1a1a">Third Ring Road</text>
<text x="459.3" y="335.8" font-size="2.6" text-anchor="middle" fill="#222">N</text>
<path d="M459.7 336.2L457.9 343.5L459.7 341.9z" fill="#111"/>
<path d="M459.7 336.2L461.6 343.5L459.7 341.9z" fill="#fff" stroke="#111" stroke-width=".35"/>
<path d="M465.6 342.9h24.8M465.6 342.9v-1.1M471.8 342.9v-1.1M478.0 342.9v-1.1M484.2 342.9v-1.1M490.4 342.9v-1.1" stroke="#555" stroke-width=".4" fill="none"/>
<text x="465.9" y="340.9" font-size="2.5" text-anchor="middle" fill="#333">0</text>
<text x="472.1" y="340.9" font-size="2.5" text-anchor="middle" fill="#333">1.5</text>
<text x="478.3" y="340.9" font-size="2.5" text-anchor="middle" fill="#333">3</text>
<text x="490.1" y="340.9" font-size="2.5" text-anchor="middle" fill="#333">6</text>
<text x="491.2" y="340.9" font-size="2.5" fill="#333">km</text>
<text x="457.2" y="357.6" font-size="4.15" fill="#1a1a1a">Road density</text>
<text x="457.2" y="362.7" font-size="4.15" fill="#1a1a1a">(Elasticity coefficient)</text>
<rect x="457.5" y="366.6" width="8.7" height="4.1" fill="#fdd0d0"/>
<text x="489.6" y="370.0" font-size="3.95" text-anchor="end" fill="#1a1a1a">0.092 - 0.105</text>
<rect x="457.5" y="373.2" width="8.7" height="4.1" fill="#fb9a9e"/>
<text x="489.6" y="376.6" font-size="3.95" text-anchor="end" fill="#1a1a1a">0.106 - 0.119</text>
<rect x="457.5" y="379.8" width="8.7" height="4.1" fill="#f95e5e"/>
<text x="489.6" y="383.2" font-size="3.95" text-anchor="end" fill="#1a1a1a">0.120 - 0.134</text>
<rect x="457.5" y="386.4" width="8.7" height="4.1" fill="#f22626"/>
<text x="489.6" y="389.8" font-size="3.95" text-anchor="end" fill="#1a1a1a">0.135 - 0.148</text>
<rect x="457.5" y="393.0" width="8.7" height="4.1" fill="#dd0707"/>
<text x="489.6" y="396.4" font-size="3.95" text-anchor="end" fill="#1a1a1a">0.149 - 0.165</text>
<rect x="457.5" y="399.6" width="8.7" height="4.0" fill="#e1e1e1"/>
<text x="468.7" y="403.0" font-size="3.80" fill="#1a1a1a">Not significant</text>
<path d="M457.5 407.5H466.2" stroke="#6a6a6a" stroke-width=".45"/>
<path d="M457.5 413.2H466.2" stroke="#555" stroke-width="1.3"/>
<path d="M457.5 413.2H466.2" stroke="#b5b5b5" stroke-width=".6"/>
<path d="M457.5 418.9H466.2" stroke="#1a1a1a" stroke-width="1.1" stroke-dasharray="2.4 .5"/>
<text x="468.7" y="408.8" font-size="3.80" fill="#1a1a1a">First Ring Road</text>
<text x="468.7" y="414.5" font-size="3.80" fill="#1a1a1a">Second Ring Road</text>
<text x="468.7" y="420.2" font-size="3.80" fill="#1a1a1a">Third Ring Road</text>
<text x="182.6" y="338.2" font-size="5.15" fill="#1a1a1a">Morning peak</text>
<text x="346.0" y="338.0" font-size="5.15" fill="#1a1a1a">Evening peak</text>
<text x="295.3" y="445.0" font-size="2.6" text-anchor="middle" fill="#222">N</text>
<path d="M295.7 445.4L293.9 452.7L295.7 451.1z" fill="#111"/>
<path d="M295.7 445.4L297.6 452.7L295.7 451.1z" fill="#fff" stroke="#111" stroke-width=".35"/>
<path d="M301.6 452.1h24.8M301.6 452.1v-1.1M307.8 452.1v-1.1M314.0 452.1v-1.1M320.2 452.1v-1.1M326.4 452.1v-1.1" stroke="#555" stroke-width=".4" fill="none"/>
<text x="301.9" y="450.1" font-size="2.5" text-anchor="middle" fill="#333">0</text>
<text x="308.1" y="450.1" font-size="2.5" text-anchor="middle" fill="#333">1.5</text>
<text x="314.3" y="450.1" font-size="2.5" text-anchor="middle" fill="#333">3</text>
<text x="326.1" y="450.1" font-size="2.5" text-anchor="middle" fill="#333">6</text>
<text x="327.2" y="450.1" font-size="2.5" fill="#333">km</text>
<text x="293.2" y="466.8" font-size="4.15" fill="#1a1a1a">Distance to CBD</text>
<text x="293.2" y="471.9" font-size="4.15" fill="#1a1a1a">(Elasticity coefficient)</text>
<rect x="293.5" y="475.8" width="8.7" height="4.1" fill="#1414dc"/>
<text x="328.2" y="479.2" font-size="3.95" text-anchor="end" fill="#1a1a1a">-0.313 - -0.270</text>
<rect x="293.5" y="482.4" width="8.7" height="4.1" fill="#4545e8"/>
<text x="328.2" y="485.8" font-size="3.95" text-anchor="end" fill="#1a1a1a">-0.269 - -0.231</text>
<rect x="293.5" y="489.0" width="8.7" height="4.1" fill="#7373f0"/>
<text x="328.2" y="492.4" font-size="3.95" text-anchor="end" fill="#1a1a1a">-0.230 - -0.184</text>
<rect x="293.5" y="495.6" width="8.7" height="4.1" fill="#a9a9f8"/>
<text x="328.2" y="499.0" font-size="3.95" text-anchor="end" fill="#1a1a1a">-0.183 - 0.000</text>
<rect x="293.5" y="502.2" width="8.7" height="4.1" fill="#f6a3a3"/>
<text x="328.2" y="505.6" font-size="3.95" text-anchor="end" fill="#1a1a1a">0.000 - 0.288</text>
<rect x="293.5" y="508.8" width="8.7" height="4.0" fill="#e1e1e1"/>
<text x="304.7" y="512.1" font-size="3.80" fill="#1a1a1a">Not significant</text>
<path d="M293.5 516.7H302.2" stroke="#6a6a6a" stroke-width=".45"/>
<path d="M293.5 522.4H302.2" stroke="#555" stroke-width="1.3"/>
<path d="M293.5 522.4H302.2" stroke="#b5b5b5" stroke-width=".6"/>
<path d="M293.5 528.1H302.2" stroke="#1a1a1a" stroke-width="1.1" stroke-dasharray="2.4 .5"/>
<text x="304.7" y="518.0" font-size="3.80" fill="#1a1a1a">First Ring Road</text>
<text x="304.7" y="523.7" font-size="3.80" fill="#1a1a1a">Second Ring Road</text>
<text x="304.7" y="529.4" font-size="3.80" fill="#1a1a1a">Third Ring Road</text>
<text x="459.3" y="445.0" font-size="2.6" text-anchor="middle" fill="#222">N</text>
<path d="M459.7 445.4L457.9 452.7L459.7 451.1z" fill="#111"/>
<path d="M459.7 445.4L461.6 452.7L459.7 451.1z" fill="#fff" stroke="#111" stroke-width=".35"/>
<path d="M465.6 452.1h24.8M465.6 452.1v-1.1M471.8 452.1v-1.1M478.0 452.1v-1.1M484.2 452.1v-1.1M490.4 452.1v-1.1" stroke="#555" stroke-width=".4" fill="none"/>
<text x="465.9" y="450.1" font-size="2.5" text-anchor="middle" fill="#333">0</text>
<text x="472.1" y="450.1" font-size="2.5" text-anchor="middle" fill="#333">1.5</text>
<text x="478.3" y="450.1" font-size="2.5" text-anchor="middle" fill="#333">3</text>
<text x="490.1" y="450.1" font-size="2.5" text-anchor="middle" fill="#333">6</text>
<text x="491.2" y="450.1" font-size="2.5" fill="#333">km</text>
<text x="457.2" y="466.8" font-size="4.15" fill="#1a1a1a">Distance to CBD</text>
<text x="457.2" y="471.9" font-size="4.15" fill="#1a1a1a">(Elasticity coefficient)</text>
<rect x="457.5" y="475.8" width="8.7" height="4.1" fill="#1414dc"/>
<text x="492.2" y="479.2" font-size="3.95" text-anchor="end" fill="#1a1a1a">-0.409 - -0.329</text>
<rect x="457.5" y="482.4" width="8.7" height="4.1" fill="#4545e8"/>
<text x="492.2" y="485.8" font-size="3.95" text-anchor="end" fill="#1a1a1a">-0.328 - -0.251</text>
<rect x="457.5" y="489.0" width="8.7" height="4.1" fill="#7373f0"/>
<text x="492.2" y="492.4" font-size="3.95" text-anchor="end" fill="#1a1a1a">-0.250 - -0.201</text>
<rect x="457.5" y="495.6" width="8.7" height="4.1" fill="#a9a9f8"/>
<text x="492.2" y="499.0" font-size="3.95" text-anchor="end" fill="#1a1a1a">-0.200 - -0.162</text>
<rect x="457.5" y="502.2" width="8.7" height="4.1" fill="#d3d3fd"/>
<text x="492.2" y="505.6" font-size="3.95" text-anchor="end" fill="#1a1a1a">-0.161 - -0.107</text>
<rect x="457.5" y="508.8" width="8.7" height="4.0" fill="#e1e1e1"/>
<text x="468.7" y="512.1" font-size="3.80" fill="#1a1a1a">Not significant</text>
<path d="M457.5 516.7H466.2" stroke="#6a6a6a" stroke-width=".45"/>
<path d="M457.5 522.4H466.2" stroke="#555" stroke-width="1.3"/>
<path d="M457.5 522.4H466.2" stroke="#b5b5b5" stroke-width=".6"/>
<path d="M457.5 528.1H466.2" stroke="#1a1a1a" stroke-width="1.1" stroke-dasharray="2.4 .5"/>
<text x="468.7" y="518.0" font-size="3.80" fill="#1a1a1a">First Ring Road</text>
<text x="468.7" y="523.7" font-size="3.80" fill="#1a1a1a">Second Ring Road</text>
<text x="468.7" y="529.4" font-size="3.80" fill="#1a1a1a">Third Ring Road</text>
<text x="182.6" y="447.4" font-size="5.15" fill="#1a1a1a">Morning peak</text>
<text x="346.0" y="447.2" font-size="5.15" fill="#1a1a1a">Evening peak</text>
<text x="80.9" y="107.5" font-size="9.30" text-anchor="middle" font-weight="bold" fill="#111">(a)</text>
<text x="339.8" y="107.5" font-size="9.30" text-anchor="middle" font-weight="bold" fill="#111">(b)</text>
<text x="80.9" y="216.7" font-size="9.30" text-anchor="middle" font-weight="bold" fill="#111">(c)</text>
<text x="339.8" y="216.7" font-size="9.30" text-anchor="middle" font-weight="bold" fill="#111">(d)</text>
<text x="80.9" y="325.9" font-size="9.30" text-anchor="middle" font-weight="bold" fill="#111">(e)</text>
<text x="339.8" y="325.9" font-size="9.30" text-anchor="middle" font-weight="bold" fill="#111">(f)</text>
<text x="80.9" y="435.1" font-size="9.30" text-anchor="middle" font-weight="bold" fill="#111">(g)</text>
<text x="339.8" y="435.1" font-size="9.30" text-anchor="middle" font-weight="bold" fill="#111">(h)</text>
<text x="80.9" y="544.3" font-size="9.30" text-anchor="middle" font-weight="bold" fill="#111">(i)</text>
<text x="339.8" y="544.3" font-size="9.30" text-anchor="middle" font-weight="bold" fill="#111">(j)</text>
</svg>
</body></html>
